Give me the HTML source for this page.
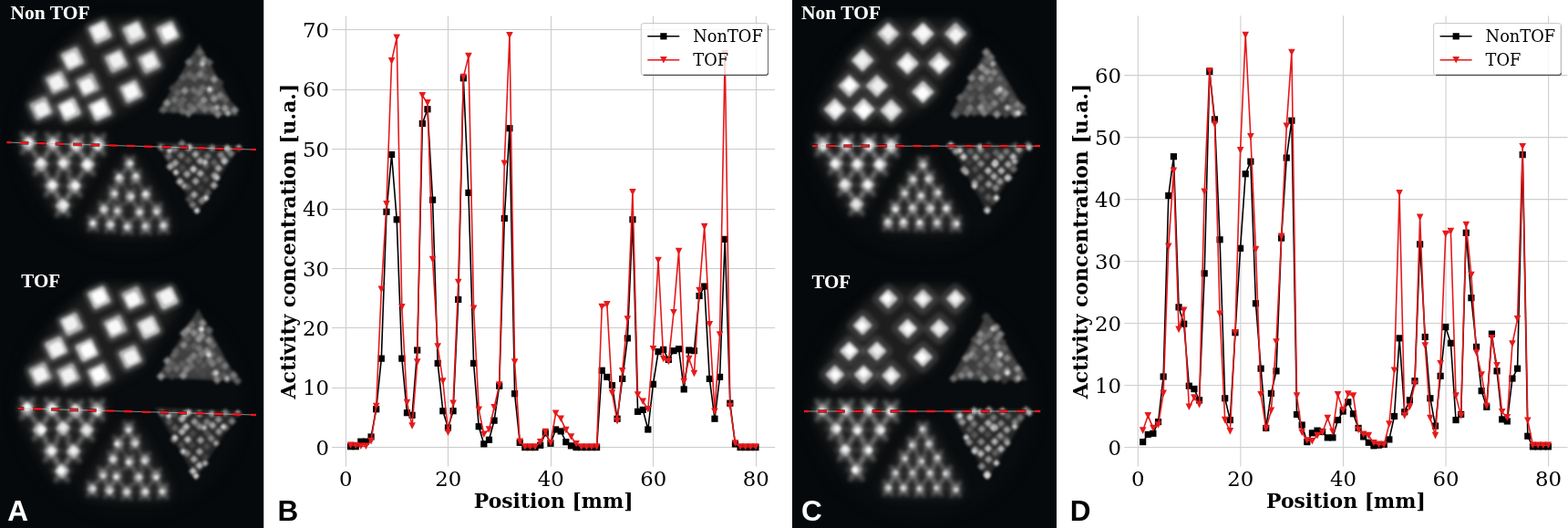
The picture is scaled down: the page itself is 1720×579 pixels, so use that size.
<!DOCTYPE html>
<html><head><meta charset="utf-8"><style>
html,body{margin:0;padding:0;background:#fff;width:1720px;height:579px;overflow:hidden}
svg{display:block}
.tk{font-family:'DejaVu Serif', serif;font-size:22.8px;fill:#000}
.lg{font-family:'DejaVu Serif', serif;font-size:17.8px;fill:#000}
.al{font-family:'DejaVu Serif', serif;font-size:21.9px;font-weight:bold;fill:#000}
.pl{font-family:'Liberation Sans',Arial,sans-serif;font-size:31.5px;font-weight:bold}
.im{font-family:'Liberation Serif','Times New Roman',serif;font-weight:bold;fill:#fff}
</style></head><body>
<svg width="1720" height="579" viewBox="0 0 1720 579">
<rect width="1720" height="579" fill="#fff"/>
<defs><filter id="bl15" x="-20%" y="-20%" width="140%" height="140%" color-interpolation-filters="sRGB"><feGaussianBlur stdDeviation="1.6"/></filter><filter id="bl07" x="-10%" y="-10%" width="120%" height="120%" color-interpolation-filters="sRGB"><feGaussianBlur stdDeviation="1.5"/></filter><filter id="bl1" x="-20%" y="-20%" width="140%" height="140%" color-interpolation-filters="sRGB"><feGaussianBlur stdDeviation="1.5"/></filter><filter id="bl2" x="-20%" y="-20%" width="140%" height="140%" color-interpolation-filters="sRGB"><feGaussianBlur stdDeviation="2.0"/></filter><filter id="bl3" x="-30%" y="-30%" width="160%" height="160%" color-interpolation-filters="sRGB"><feGaussianBlur stdDeviation="3"/></filter><filter id="bl6" x="-30%" y="-30%" width="160%" height="160%" color-interpolation-filters="sRGB"><feGaussianBlur stdDeviation="6"/></filter><clipPath id="cA"><rect x="0" y="0" width="289.5" height="579"/></clipPath><clipPath id="cC"><rect x="869" y="0" width="290" height="579"/></clipPath></defs>
<g clip-path="url(#cA)"><rect x="0" y="0" width="289.5" height="579" fill="#05090b"/>
<circle cx="143.0" cy="150.0" r="126" fill="#090c0e" filter="url(#bl6)"/>
<g filter="url(#bl07)"><polygon points="218.5,47.5 173.5,123.0 261.5,127.0" fill="rgb(60,60,60)"/><path d="M219.3 52.7l4.75 4.75l-4.75 4.75l-4.75 -4.75z" fill="rgb(101,101,101)"/><path d="M212.2 59.7l4.75 4.75l-4.75 4.75l-4.75 -4.75z" fill="rgb(74,74,74)"/><path d="M207.3 63.4l4.75 4.75l-4.75 4.75l-4.75 -4.75z" fill="rgb(114,114,114)"/><path d="M223.4 60.8l4.75 4.75l-4.75 4.75l-4.75 -4.75z" fill="rgb(138,138,138)"/><path d="M218.0 66.2l4.75 4.75l-4.75 4.75l-4.75 -4.75z" fill="rgb(78,78,78)"/><path d="M211.6 72.0l4.75 4.75l-4.75 4.75l-4.75 -4.75z" fill="rgb(63,63,63)"/><path d="M207.8 77.2l4.75 4.75l-4.75 4.75l-4.75 -4.75z" fill="rgb(101,101,101)"/><path d="M200.6 80.3l4.75 4.75l-4.75 4.75l-4.75 -4.75z" fill="rgb(92,92,92)"/><path d="M195.5 87.4l4.75 4.75l-4.75 4.75l-4.75 -4.75z" fill="rgb(74,74,74)"/><path d="M189.5 92.2l4.75 4.75l-4.75 4.75l-4.75 -4.75z" fill="rgb(68,68,68)"/><path d="M229.5 63.8l4.75 4.75l-4.75 4.75l-4.75 -4.75z" fill="rgb(95,95,95)"/><path d="M222.8 71.0l4.75 4.75l-4.75 4.75l-4.75 -4.75z" fill="rgb(90,90,90)"/><path d="M219.6 77.0l4.75 4.75l-4.75 4.75l-4.75 -4.75z" fill="rgb(131,131,131)"/><path d="M213.4 81.0l4.75 4.75l-4.75 4.75l-4.75 -4.75z" fill="rgb(100,100,100)"/><path d="M206.5 87.4l4.75 4.75l-4.75 4.75l-4.75 -4.75z" fill="rgb(62,62,62)"/><path d="M202.8 94.8l4.75 4.75l-4.75 4.75l-4.75 -4.75z" fill="rgb(144,144,144)"/><path d="M194.7 97.1l4.75 4.75l-4.75 4.75l-4.75 -4.75z" fill="rgb(99,99,99)"/><path d="M191.6 104.7l4.75 4.75l-4.75 4.75l-4.75 -4.75z" fill="rgb(116,116,116)"/><path d="M183.1 108.3l4.75 4.75l-4.75 4.75l-4.75 -4.75z" fill="rgb(143,143,143)"/><path d="M179.0 115.4l4.75 4.75l-4.75 4.75l-4.75 -4.75z" fill="rgb(99,99,99)"/><path d="M230.5 77.8l4.75 4.75l-4.75 4.75l-4.75 -4.75z" fill="rgb(72,72,72)"/><path d="M225.1 80.2l4.75 4.75l-4.75 4.75l-4.75 -4.75z" fill="rgb(95,95,95)"/><path d="M217.4 89.0l4.75 4.75l-4.75 4.75l-4.75 -4.75z" fill="rgb(65,65,65)"/><path d="M212.2 94.4l4.75 4.75l-4.75 4.75l-4.75 -4.75z" fill="rgb(112,112,112)"/><path d="M208.4 98.8l4.75 4.75l-4.75 4.75l-4.75 -4.75z" fill="rgb(63,63,63)"/><path d="M200.8 104.8l4.75 4.75l-4.75 4.75l-4.75 -4.75z" fill="rgb(99,99,99)"/><path d="M197.7 110.2l4.75 4.75l-4.75 4.75l-4.75 -4.75z" fill="rgb(96,96,96)"/><path d="M190.7 115.1l4.75 4.75l-4.75 4.75l-4.75 -4.75z" fill="rgb(87,87,87)"/><path d="M235.0 82.2l4.75 4.75l-4.75 4.75l-4.75 -4.75z" fill="rgb(147,147,147)"/><path d="M227.8 87.0l4.75 4.75l-4.75 4.75l-4.75 -4.75z" fill="rgb(62,62,62)"/><path d="M222.3 92.0l4.75 4.75l-4.75 4.75l-4.75 -4.75z" fill="rgb(109,109,109)"/><path d="M218.6 97.6l4.75 4.75l-4.75 4.75l-4.75 -4.75z" fill="rgb(118,118,118)"/><path d="M214.3 104.3l4.75 4.75l-4.75 4.75l-4.75 -4.75z" fill="rgb(88,88,88)"/><path d="M208.4 111.4l4.75 4.75l-4.75 4.75l-4.75 -4.75z" fill="rgb(101,101,101)"/><path d="M200.1 116.9l4.75 4.75l-4.75 4.75l-4.75 -4.75z" fill="rgb(106,106,106)"/><path d="M241.0 86.0l4.75 4.75l-4.75 4.75l-4.75 -4.75z" fill="rgb(66,66,66)"/><path d="M234.7 91.8l4.75 4.75l-4.75 4.75l-4.75 -4.75z" fill="rgb(80,80,80)"/><path d="M230.8 97.3l4.75 4.75l-4.75 4.75l-4.75 -4.75z" fill="rgb(87,87,87)"/><path d="M223.5 105.0l4.75 4.75l-4.75 4.75l-4.75 -4.75z" fill="rgb(144,144,144)"/><path d="M219.2 110.5l4.75 4.75l-4.75 4.75l-4.75 -4.75z" fill="rgb(115,115,115)"/><path d="M212.3 114.7l4.75 4.75l-4.75 4.75l-4.75 -4.75z" fill="rgb(119,119,119)"/><path d="M206.7 119.4l4.75 4.75l-4.75 4.75l-4.75 -4.75z" fill="rgb(119,119,119)"/><path d="M241.5 99.9l4.75 4.75l-4.75 4.75l-4.75 -4.75z" fill="rgb(126,126,126)"/><path d="M234.8 103.4l4.75 4.75l-4.75 4.75l-4.75 -4.75z" fill="rgb(147,147,147)"/><path d="M229.0 111.5l4.75 4.75l-4.75 4.75l-4.75 -4.75z" fill="rgb(88,88,88)"/><path d="M224.7 115.1l4.75 4.75l-4.75 4.75l-4.75 -4.75z" fill="rgb(119,119,119)"/><path d="M247.3 104.6l4.75 4.75l-4.75 4.75l-4.75 -4.75z" fill="rgb(97,97,97)"/><path d="M240.3 109.6l4.75 4.75l-4.75 4.75l-4.75 -4.75z" fill="rgb(60,60,60)"/><path d="M233.5 115.0l4.75 4.75l-4.75 4.75l-4.75 -4.75z" fill="rgb(124,124,124)"/><path d="M253.2 110.7l4.75 4.75l-4.75 4.75l-4.75 -4.75z" fill="rgb(60,60,60)"/><path d="M246.9 114.0l4.75 4.75l-4.75 4.75l-4.75 -4.75z" fill="rgb(149,149,149)"/><path d="M239.0 120.6l4.75 4.75l-4.75 4.75l-4.75 -4.75z" fill="rgb(135,135,135)"/><path d="M257.5 116.1l4.75 4.75l-4.75 4.75l-4.75 -4.75z" fill="rgb(134,134,134)"/><polygon points="171.0,156.0 263.0,160.0 216.0,234.0" fill="rgb(40,40,40)"/><path d="M177.0 157.0l4.5 4.5l-4.5 4.5l-4.5 -4.5z" fill="rgb(137,137,137)"/><path d="M199.6 152.9l4.5 4.5l-4.5 4.5l-4.5 -4.5z" fill="rgb(126,126,126)"/><path d="M191.9 159.0l4.5 4.5l-4.5 4.5l-4.5 -4.5z" fill="rgb(122,122,122)"/><path d="M185.0 167.0l4.5 4.5l-4.5 4.5l-4.5 -4.5z" fill="rgb(112,112,112)"/><path d="M206.9 158.7l4.5 4.5l-4.5 4.5l-4.5 -4.5z" fill="rgb(118,118,118)"/><path d="M198.6 166.1l4.5 4.5l-4.5 4.5l-4.5 -4.5z" fill="rgb(125,125,125)"/><path d="M192.3 174.2l4.5 4.5l-4.5 4.5l-4.5 -4.5z" fill="rgb(158,158,158)"/><path d="M186.7 178.2l4.5 4.5l-4.5 4.5l-4.5 -4.5z" fill="rgb(169,169,169)"/><path d="M219.6 159.3l4.5 4.5l-4.5 4.5l-4.5 -4.5z" fill="rgb(62,62,62)"/><path d="M214.5 164.8l4.5 4.5l-4.5 4.5l-4.5 -4.5z" fill="rgb(169,169,169)"/><path d="M206.4 171.2l4.5 4.5l-4.5 4.5l-4.5 -4.5z" fill="rgb(88,88,88)"/><path d="M200.0 179.4l4.5 4.5l-4.5 4.5l-4.5 -4.5z" fill="rgb(77,77,77)"/><path d="M232.8 157.8l4.5 4.5l-4.5 4.5l-4.5 -4.5z" fill="rgb(136,136,136)"/><path d="M227.6 166.7l4.5 4.5l-4.5 4.5l-4.5 -4.5z" fill="rgb(123,123,123)"/><path d="M219.7 171.9l4.5 4.5l-4.5 4.5l-4.5 -4.5z" fill="rgb(172,172,172)"/><path d="M212.2 180.9l4.5 4.5l-4.5 4.5l-4.5 -4.5z" fill="rgb(199,199,199)"/><path d="M205.2 186.6l4.5 4.5l-4.5 4.5l-4.5 -4.5z" fill="rgb(162,162,162)"/><path d="M197.4 194.8l4.5 4.5l-4.5 4.5l-4.5 -4.5z" fill="rgb(183,183,183)"/><path d="M249.2 158.2l4.5 4.5l-4.5 4.5l-4.5 -4.5z" fill="rgb(193,193,193)"/><path d="M242.4 165.5l4.5 4.5l-4.5 4.5l-4.5 -4.5z" fill="rgb(134,134,134)"/><path d="M234.9 173.7l4.5 4.5l-4.5 4.5l-4.5 -4.5z" fill="rgb(95,95,95)"/><path d="M225.9 177.8l4.5 4.5l-4.5 4.5l-4.5 -4.5z" fill="rgb(87,87,87)"/><path d="M219.8 185.7l4.5 4.5l-4.5 4.5l-4.5 -4.5z" fill="rgb(175,175,175)"/><path d="M214.7 194.3l4.5 4.5l-4.5 4.5l-4.5 -4.5z" fill="rgb(161,161,161)"/><path d="M206.4 200.8l4.5 4.5l-4.5 4.5l-4.5 -4.5z" fill="rgb(87,87,87)"/><path d="M253.2 163.9l4.5 4.5l-4.5 4.5l-4.5 -4.5z" fill="rgb(125,125,125)"/><path d="M246.4 171.2l4.5 4.5l-4.5 4.5l-4.5 -4.5z" fill="rgb(140,140,140)"/><path d="M239.6 180.1l4.5 4.5l-4.5 4.5l-4.5 -4.5z" fill="rgb(169,169,169)"/><path d="M235.4 188.1l4.5 4.5l-4.5 4.5l-4.5 -4.5z" fill="rgb(157,157,157)"/><path d="M225.6 192.1l4.5 4.5l-4.5 4.5l-4.5 -4.5z" fill="rgb(82,82,82)"/><path d="M220.1 202.1l4.5 4.5l-4.5 4.5l-4.5 -4.5z" fill="rgb(60,60,60)"/><path d="M213.0 209.1l4.5 4.5l-4.5 4.5l-4.5 -4.5z" fill="rgb(167,167,167)"/><path d="M207.4 213.9l4.5 4.5l-4.5 4.5l-4.5 -4.5z" fill="rgb(81,81,81)"/><path d="M234.8 198.7l4.5 4.5l-4.5 4.5l-4.5 -4.5z" fill="rgb(167,167,167)"/><path d="M228.1 206.7l4.5 4.5l-4.5 4.5l-4.5 -4.5z" fill="rgb(86,86,86)"/><path d="M221.5 215.6l4.5 4.5l-4.5 4.5l-4.5 -4.5z" fill="rgb(131,131,131)"/><path d="M211.3 220.2l4.5 4.5l-4.5 4.5l-4.5 -4.5z" fill="rgb(120,120,120)"/></g>
<g filter="url(#bl1)"><rect x="205.4" y="158.4" width="5.2" height="5.2" fill="rgb(196,196,196)" transform="rotate(45 208.0 161.0)"/><rect x="259.4" y="159.4" width="5.2" height="5.2" fill="rgb(187,187,187)" transform="rotate(45 262.0 162.0)"/><rect x="222.4" y="175.4" width="5.2" height="5.2" fill="rgb(205,205,205)" transform="rotate(45 225.0 178.0)"/><rect x="243.4" y="174.4" width="5.2" height="5.2" fill="rgb(192,192,192)" transform="rotate(45 246.0 177.0)"/><rect x="190.4" y="186.4" width="5.2" height="5.2" fill="rgb(214,214,214)" transform="rotate(45 193.0 189.0)"/><rect x="199.4" y="201.4" width="5.2" height="5.2" fill="rgb(171,171,171)" transform="rotate(45 202.0 204.0)"/><rect x="223.4" y="214.4" width="5.2" height="5.2" fill="rgb(224,224,224)" transform="rotate(45 226.0 217.0)"/><rect x="213.4" y="228.4" width="5.2" height="5.2" fill="rgb(221,221,221)" transform="rotate(45 216.0 231.0)"/><rect x="183.4" y="162.4" width="5.2" height="5.2" fill="rgb(213,213,213)" transform="rotate(45 186.0 165.0)"/><rect x="235.4" y="192.4" width="5.2" height="5.2" fill="rgb(204,204,204)" transform="rotate(45 238.0 195.0)"/><rect x="247.4" y="121.4" width="5.2" height="5.2" fill="rgb(179,179,179)" transform="rotate(45 250.0 124.0)"/><rect x="235.4" y="115.4" width="5.2" height="5.2" fill="rgb(179,179,179)" transform="rotate(45 238.0 118.0)"/><rect x="219.4" y="67.4" width="5.2" height="5.2" fill="rgb(196,196,196)" transform="rotate(45 222.0 70.0)"/><rect x="227.4" y="95.4" width="5.2" height="5.2" fill="rgb(220,220,220)" transform="rotate(45 230.0 98.0)"/></g>
<g filter="url(#bl6)"><polygon points="45.0,119.0 62.6,90.5 79.5,64.5 109.8,35.2 184.0,35.8 144.0,100.5 109.8,120.0 76.0,120.0" fill="rgb(30,30,30)" stroke="rgb(30,30,30)" stroke-width="30" stroke-linejoin="round"/><polygon points="31.0,157.0 58.0,157.5 107.5,158.5 96.0,180.5 68.7,225.5" fill="rgb(30,30,30)" stroke="rgb(30,30,30)" stroke-width="22" stroke-linejoin="round"/><polygon points="102.0,245.0 131.0,195.6 142.0,179.5 172.0,231.0 179.5,247.6 160.0,248.5 140.0,248.5" fill="rgb(32,32,32)" stroke="rgb(32,32,32)" stroke-width="18" stroke-linejoin="round"/></g>
<g filter="url(#bl2)"><rect x="95.8" y="21.2" width="28" height="28" rx="6" fill="#fff" fill-opacity="0.2" transform="rotate(-25 109.8 35.2)"/><rect x="133.0" y="21.8" width="28" height="28" rx="6" fill="#fff" fill-opacity="0.2" transform="rotate(-25 147.0 35.8)"/><rect x="170.0" y="21.8" width="28" height="28" rx="6" fill="#fff" fill-opacity="0.2" transform="rotate(-25 184.0 35.8)"/><rect x="65.5" y="50.5" width="28" height="28" rx="6" fill="#fff" fill-opacity="0.2" transform="rotate(-25 79.5 64.5)"/><rect x="113.5" y="53.0" width="28" height="28" rx="6" fill="#fff" fill-opacity="0.2" transform="rotate(-25 127.5 67.0)"/><rect x="149.8" y="54.0" width="28" height="28" rx="6" fill="#fff" fill-opacity="0.2" transform="rotate(-25 163.8 68.0)"/><rect x="48.6" y="76.5" width="28" height="28" rx="6" fill="#fff" fill-opacity="0.2" transform="rotate(-25 62.6 90.5)"/><rect x="82.3" y="79.0" width="28" height="28" rx="6" fill="#fff" fill-opacity="0.2" transform="rotate(-25 96.3 93.0)"/><rect x="130.0" y="86.5" width="28" height="28" rx="6" fill="#fff" fill-opacity="0.2" transform="rotate(-25 144.0 100.5)"/><rect x="31.0" y="105.0" width="28" height="28" rx="6" fill="#fff" fill-opacity="0.2" transform="rotate(-25 45.0 119.0)"/><rect x="62.0" y="106.0" width="28" height="28" rx="6" fill="#fff" fill-opacity="0.2" transform="rotate(-25 76.0 120.0)"/><rect x="95.8" y="106.0" width="28" height="28" rx="6" fill="#fff" fill-opacity="0.2" transform="rotate(-25 109.8 120.0)"/><rect x="22.0" y="148.0" width="18" height="18" fill="#fff" fill-opacity="0.14" transform="rotate(45 31.0 157.0)"/><g fill="#fff" fill-opacity="0.3"><rect x="16.5" y="154.8" width="29.0" height="4.5" transform="rotate(58 31.0 157.0)"/><rect x="16.5" y="154.8" width="29.0" height="4.5" transform="rotate(122 31.0 157.0)"/></g><rect x="49.0" y="148.5" width="18" height="18" fill="#fff" fill-opacity="0.14" transform="rotate(45 58.0 157.5)"/><g fill="#fff" fill-opacity="0.3"><rect x="43.5" y="155.2" width="29.0" height="4.5" transform="rotate(58 58.0 157.5)"/><rect x="43.5" y="155.2" width="29.0" height="4.5" transform="rotate(122 58.0 157.5)"/></g><rect x="75.0" y="150.5" width="18" height="18" fill="#fff" fill-opacity="0.14" transform="rotate(45 84.0 159.5)"/><g fill="#fff" fill-opacity="0.3"><rect x="69.5" y="157.2" width="29.0" height="4.5" transform="rotate(58 84.0 159.5)"/><rect x="69.5" y="157.2" width="29.0" height="4.5" transform="rotate(122 84.0 159.5)"/></g><rect x="98.5" y="149.5" width="18" height="18" fill="#fff" fill-opacity="0.14" transform="rotate(45 107.5 158.5)"/><g fill="#fff" fill-opacity="0.3"><rect x="93.0" y="156.2" width="29.0" height="4.5" transform="rotate(58 107.5 158.5)"/><rect x="93.0" y="156.2" width="29.0" height="4.5" transform="rotate(122 107.5 158.5)"/></g><rect x="36.0" y="171.0" width="18" height="18" fill="#fff" fill-opacity="0.14" transform="rotate(45 45.0 180.0)"/><g fill="#fff" fill-opacity="0.3"><rect x="30.5" y="177.8" width="29.0" height="4.5" transform="rotate(58 45.0 180.0)"/><rect x="30.5" y="177.8" width="29.0" height="4.5" transform="rotate(122 45.0 180.0)"/></g><rect x="61.0" y="169.5" width="18" height="18" fill="#fff" fill-opacity="0.14" transform="rotate(45 70.0 178.5)"/><g fill="#fff" fill-opacity="0.3"><rect x="55.5" y="176.2" width="29.0" height="4.5" transform="rotate(58 70.0 178.5)"/><rect x="55.5" y="176.2" width="29.0" height="4.5" transform="rotate(122 70.0 178.5)"/></g><rect x="87.0" y="171.5" width="18" height="18" fill="#fff" fill-opacity="0.14" transform="rotate(45 96.0 180.5)"/><g fill="#fff" fill-opacity="0.3"><rect x="81.5" y="178.2" width="29.0" height="4.5" transform="rotate(58 96.0 180.5)"/><rect x="81.5" y="178.2" width="29.0" height="4.5" transform="rotate(122 96.0 180.5)"/></g><rect x="48.0" y="194.5" width="18" height="18" fill="#fff" fill-opacity="0.14" transform="rotate(45 57.0 203.5)"/><g fill="#fff" fill-opacity="0.3"><rect x="42.5" y="201.2" width="29.0" height="4.5" transform="rotate(58 57.0 203.5)"/><rect x="42.5" y="201.2" width="29.0" height="4.5" transform="rotate(122 57.0 203.5)"/></g><rect x="72.6" y="195.0" width="18" height="18" fill="#fff" fill-opacity="0.14" transform="rotate(45 81.6 204.0)"/><g fill="#fff" fill-opacity="0.3"><rect x="67.1" y="201.8" width="29.0" height="4.5" transform="rotate(58 81.6 204.0)"/><rect x="67.1" y="201.8" width="29.0" height="4.5" transform="rotate(122 81.6 204.0)"/></g><rect x="59.7" y="216.5" width="18" height="18" fill="#fff" fill-opacity="0.14" transform="rotate(45 68.7 225.5)"/><g fill="#fff" fill-opacity="0.3"><rect x="54.2" y="223.2" width="29.0" height="4.5" transform="rotate(58 68.7 225.5)"/><rect x="54.2" y="223.2" width="29.0" height="4.5" transform="rotate(122 68.7 225.5)"/></g><rect x="135.5" y="173.0" width="13" height="13" fill="#fff" fill-opacity="0.14" transform="rotate(45 142.0 179.5)"/><g fill="#fff" fill-opacity="0.3"><rect x="131.5" y="177.8" width="21.0" height="3.5" transform="rotate(58 142.0 179.5)"/><rect x="131.5" y="177.8" width="21.0" height="3.5" transform="rotate(122 142.0 179.5)"/></g><rect x="124.5" y="189.1" width="13" height="13" fill="#fff" fill-opacity="0.14" transform="rotate(45 131.0 195.6)"/><g fill="#fff" fill-opacity="0.3"><rect x="120.5" y="193.8" width="21.0" height="3.5" transform="rotate(58 131.0 195.6)"/><rect x="120.5" y="193.8" width="21.0" height="3.5" transform="rotate(122 131.0 195.6)"/></g><rect x="142.5" y="188.0" width="13" height="13" fill="#fff" fill-opacity="0.14" transform="rotate(45 149.0 194.5)"/><g fill="#fff" fill-opacity="0.3"><rect x="138.5" y="192.8" width="21.0" height="3.5" transform="rotate(58 149.0 194.5)"/><rect x="138.5" y="192.8" width="21.0" height="3.5" transform="rotate(122 149.0 194.5)"/></g><rect x="118.5" y="206.0" width="13" height="13" fill="#fff" fill-opacity="0.14" transform="rotate(45 125.0 212.5)"/><g fill="#fff" fill-opacity="0.3"><rect x="114.5" y="210.8" width="21.0" height="3.5" transform="rotate(58 125.0 212.5)"/><rect x="114.5" y="210.8" width="21.0" height="3.5" transform="rotate(122 125.0 212.5)"/></g><rect x="136.5" y="209.0" width="13" height="13" fill="#fff" fill-opacity="0.14" transform="rotate(45 143.0 215.5)"/><g fill="#fff" fill-opacity="0.3"><rect x="132.5" y="213.8" width="21.0" height="3.5" transform="rotate(58 143.0 215.5)"/><rect x="132.5" y="213.8" width="21.0" height="3.5" transform="rotate(122 143.0 215.5)"/></g><rect x="153.5" y="207.0" width="13" height="13" fill="#fff" fill-opacity="0.14" transform="rotate(45 160.0 213.5)"/><g fill="#fff" fill-opacity="0.3"><rect x="149.5" y="211.8" width="21.0" height="3.5" transform="rotate(58 160.0 213.5)"/><rect x="149.5" y="211.8" width="21.0" height="3.5" transform="rotate(122 160.0 213.5)"/></g><rect x="107.5" y="223.0" width="13" height="13" fill="#fff" fill-opacity="0.14" transform="rotate(45 114.0 229.5)"/><g fill="#fff" fill-opacity="0.3"><rect x="103.5" y="227.8" width="21.0" height="3.5" transform="rotate(58 114.0 229.5)"/><rect x="103.5" y="227.8" width="21.0" height="3.5" transform="rotate(122 114.0 229.5)"/></g><rect x="122.5" y="225.0" width="13" height="13" fill="#fff" fill-opacity="0.14" transform="rotate(45 129.0 231.5)"/><g fill="#fff" fill-opacity="0.3"><rect x="118.5" y="229.8" width="21.0" height="3.5" transform="rotate(58 129.0 231.5)"/><rect x="118.5" y="229.8" width="21.0" height="3.5" transform="rotate(122 129.0 231.5)"/></g><rect x="146.5" y="226.0" width="13" height="13" fill="#fff" fill-opacity="0.14" transform="rotate(45 153.0 232.5)"/><g fill="#fff" fill-opacity="0.3"><rect x="142.5" y="230.8" width="21.0" height="3.5" transform="rotate(58 153.0 232.5)"/><rect x="142.5" y="230.8" width="21.0" height="3.5" transform="rotate(122 153.0 232.5)"/></g><rect x="165.5" y="224.5" width="13" height="13" fill="#fff" fill-opacity="0.14" transform="rotate(45 172.0 231.0)"/><g fill="#fff" fill-opacity="0.3"><rect x="161.5" y="229.2" width="21.0" height="3.5" transform="rotate(58 172.0 231.0)"/><rect x="161.5" y="229.2" width="21.0" height="3.5" transform="rotate(122 172.0 231.0)"/></g><rect x="95.5" y="238.5" width="13" height="13" fill="#fff" fill-opacity="0.14" transform="rotate(45 102.0 245.0)"/><g fill="#fff" fill-opacity="0.3"><rect x="91.5" y="243.2" width="21.0" height="3.5" transform="rotate(58 102.0 245.0)"/><rect x="91.5" y="243.2" width="21.0" height="3.5" transform="rotate(122 102.0 245.0)"/></g><rect x="114.5" y="239.9" width="13" height="13" fill="#fff" fill-opacity="0.14" transform="rotate(45 121.0 246.4)"/><g fill="#fff" fill-opacity="0.3"><rect x="110.5" y="244.7" width="21.0" height="3.5" transform="rotate(58 121.0 246.4)"/><rect x="110.5" y="244.7" width="21.0" height="3.5" transform="rotate(122 121.0 246.4)"/></g><rect x="133.5" y="242.0" width="13" height="13" fill="#fff" fill-opacity="0.14" transform="rotate(45 140.0 248.5)"/><g fill="#fff" fill-opacity="0.3"><rect x="129.5" y="246.8" width="21.0" height="3.5" transform="rotate(58 140.0 248.5)"/><rect x="129.5" y="246.8" width="21.0" height="3.5" transform="rotate(122 140.0 248.5)"/></g><rect x="153.5" y="242.0" width="13" height="13" fill="#fff" fill-opacity="0.14" transform="rotate(45 160.0 248.5)"/><g fill="#fff" fill-opacity="0.3"><rect x="149.5" y="246.8" width="21.0" height="3.5" transform="rotate(58 160.0 248.5)"/><rect x="149.5" y="246.8" width="21.0" height="3.5" transform="rotate(122 160.0 248.5)"/></g><rect x="173.0" y="241.1" width="13" height="13" fill="#fff" fill-opacity="0.14" transform="rotate(45 179.5 247.6)"/><g fill="#fff" fill-opacity="0.3"><rect x="169.0" y="245.8" width="21.0" height="3.5" transform="rotate(58 179.5 247.6)"/><rect x="169.0" y="245.8" width="21.0" height="3.5" transform="rotate(122 179.5 247.6)"/></g></g>
<g filter="url(#bl15)"><rect x="99.5" y="25.0" width="20.5" height="20.5" rx="4" fill="rgb(191,191,191)" transform="rotate(-25 109.8 35.2)"/><rect x="102.5" y="27.3" width="14.0" height="14.0" rx="4" fill="rgb(246,246,246)" transform="rotate(-25 109.8 35.2)"/><rect x="136.8" y="25.5" width="20.5" height="20.5" rx="4" fill="rgb(182,182,182)" transform="rotate(-25 147.0 35.8)"/><rect x="141.0" y="27.8" width="14.0" height="14.0" rx="4" fill="rgb(240,240,240)" transform="rotate(-25 147.0 35.8)"/><rect x="173.8" y="25.5" width="20.5" height="20.5" rx="4" fill="rgb(177,177,177)" transform="rotate(-25 184.0 35.8)"/><rect x="178.1" y="29.1" width="14.0" height="14.0" rx="4" fill="rgb(250,250,250)" transform="rotate(-25 184.0 35.8)"/><rect x="69.2" y="54.2" width="20.5" height="20.5" rx="4" fill="rgb(184,184,184)" transform="rotate(-25 79.5 64.5)"/><rect x="71.6" y="58.1" width="14.0" height="14.0" rx="4" fill="rgb(244,244,244)" transform="rotate(-25 79.5 64.5)"/><rect x="117.2" y="56.8" width="20.5" height="20.5" rx="4" fill="rgb(177,177,177)" transform="rotate(-25 127.5 67.0)"/><rect x="121.2" y="59.3" width="14.0" height="14.0" rx="4" fill="rgb(240,240,240)" transform="rotate(-25 127.5 67.0)"/><rect x="153.6" y="57.8" width="20.5" height="20.5" rx="4" fill="rgb(170,170,170)" transform="rotate(-25 163.8 68.0)"/><rect x="157.3" y="60.6" width="14.0" height="14.0" rx="4" fill="rgb(242,242,242)" transform="rotate(-25 163.8 68.0)"/><rect x="52.4" y="80.2" width="20.5" height="20.5" rx="4" fill="rgb(170,170,170)" transform="rotate(-25 62.6 90.5)"/><rect x="55.1" y="83.5" width="14.0" height="14.0" rx="4" fill="rgb(243,243,243)" transform="rotate(-25 62.6 90.5)"/><rect x="86.0" y="82.8" width="20.5" height="20.5" rx="4" fill="rgb(165,165,165)" transform="rotate(-25 96.3 93.0)"/><rect x="88.3" y="86.7" width="14.0" height="14.0" rx="4" fill="rgb(245,245,245)" transform="rotate(-25 96.3 93.0)"/><rect x="133.8" y="90.2" width="20.5" height="20.5" rx="4" fill="rgb(180,180,180)" transform="rotate(-25 144.0 100.5)"/><rect x="136.9" y="93.2" width="14.0" height="14.0" rx="4" fill="rgb(249,249,249)" transform="rotate(-25 144.0 100.5)"/><rect x="34.8" y="108.8" width="20.5" height="20.5" rx="4" fill="rgb(166,166,166)" transform="rotate(-25 45.0 119.0)"/><rect x="38.4" y="113.2" width="14.0" height="14.0" rx="4" fill="rgb(241,241,241)" transform="rotate(-25 45.0 119.0)"/><rect x="65.8" y="109.8" width="20.5" height="20.5" rx="4" fill="rgb(190,190,190)" transform="rotate(-25 76.0 120.0)"/><rect x="68.1" y="112.5" width="14.0" height="14.0" rx="4" fill="rgb(251,251,251)" transform="rotate(-25 76.0 120.0)"/><rect x="99.5" y="109.8" width="20.5" height="20.5" rx="4" fill="rgb(195,195,195)" transform="rotate(-25 109.8 120.0)"/><rect x="102.6" y="112.6" width="14.0" height="14.0" rx="4" fill="rgb(255,255,255)" transform="rotate(-25 109.8 120.0)"/><rect x="24.8" y="150.8" width="12.5" height="12.5" rx="2.5" fill="rgb(165,165,165)" transform="rotate(40 31.0 157.0)"/><rect x="26.8" y="151.8" width="8.0" height="8.0" rx="2.5" fill="rgb(238,238,238)" transform="rotate(40 31.0 157.0)"/><rect x="51.8" y="151.2" width="12.5" height="12.5" rx="2.5" fill="rgb(140,140,140)" transform="rotate(40 58.0 157.5)"/><rect x="53.9" y="153.0" width="8.0" height="8.0" rx="2.5" fill="rgb(232,232,232)" transform="rotate(40 58.0 157.5)"/><rect x="77.8" y="153.2" width="12.5" height="12.5" rx="2.5" fill="rgb(161,161,161)" transform="rotate(40 84.0 159.5)"/><rect x="79.3" y="156.4" width="8.0" height="8.0" rx="2.5" fill="rgb(239,239,239)" transform="rotate(40 84.0 159.5)"/><rect x="101.2" y="152.2" width="12.5" height="12.5" rx="2.5" fill="rgb(163,163,163)" transform="rotate(40 107.5 158.5)"/><rect x="103.6" y="155.5" width="8.0" height="8.0" rx="2.5" fill="rgb(249,249,249)" transform="rotate(40 107.5 158.5)"/><rect x="38.8" y="173.8" width="12.5" height="12.5" rx="2.5" fill="rgb(161,161,161)" transform="rotate(40 45.0 180.0)"/><rect x="40.0" y="175.0" width="8.0" height="8.0" rx="2.5" fill="rgb(234,234,234)" transform="rotate(40 45.0 180.0)"/><rect x="63.8" y="172.2" width="12.5" height="12.5" rx="2.5" fill="rgb(143,143,143)" transform="rotate(40 70.0 178.5)"/><rect x="65.8" y="175.2" width="8.0" height="8.0" rx="2.5" fill="rgb(235,235,235)" transform="rotate(40 70.0 178.5)"/><rect x="89.8" y="174.2" width="12.5" height="12.5" rx="2.5" fill="rgb(171,171,171)" transform="rotate(40 96.0 180.5)"/><rect x="91.7" y="176.7" width="8.0" height="8.0" rx="2.5" fill="rgb(247,247,247)" transform="rotate(40 96.0 180.5)"/><rect x="50.8" y="197.2" width="12.5" height="12.5" rx="2.5" fill="rgb(146,146,146)" transform="rotate(40 57.0 203.5)"/><rect x="53.1" y="198.8" width="8.0" height="8.0" rx="2.5" fill="rgb(242,242,242)" transform="rotate(40 57.0 203.5)"/><rect x="75.3" y="197.8" width="12.5" height="12.5" rx="2.5" fill="rgb(144,144,144)" transform="rotate(40 81.6 204.0)"/><rect x="78.1" y="198.9" width="8.0" height="8.0" rx="2.5" fill="rgb(242,242,242)" transform="rotate(40 81.6 204.0)"/><rect x="62.5" y="219.2" width="12.5" height="12.5" rx="2.5" fill="rgb(172,172,172)" transform="rotate(40 68.7 225.5)"/><rect x="65.0" y="220.5" width="8.0" height="8.0" rx="2.5" fill="rgb(236,236,236)" transform="rotate(40 68.7 225.5)"/><rect x="137.8" y="175.2" width="8.5" height="8.5" rx="1.5" fill="rgb(140,140,140)" transform="rotate(40 142.0 179.5)"/><rect x="139.9" y="176.3" width="5.0" height="5.0" rx="1.5" fill="rgb(232,232,232)" transform="rotate(40 142.0 179.5)"/><rect x="126.8" y="191.3" width="8.5" height="8.5" rx="1.5" fill="rgb(158,158,158)" transform="rotate(40 131.0 195.6)"/><rect x="127.3" y="192.5" width="5.0" height="5.0" rx="1.5" fill="rgb(233,233,233)" transform="rotate(40 131.0 195.6)"/><rect x="144.8" y="190.2" width="8.5" height="8.5" rx="1.5" fill="rgb(136,136,136)" transform="rotate(40 149.0 194.5)"/><rect x="145.5" y="190.9" width="5.0" height="5.0" rx="1.5" fill="rgb(234,234,234)" transform="rotate(40 149.0 194.5)"/><rect x="120.8" y="208.2" width="8.5" height="8.5" rx="1.5" fill="rgb(130,130,130)" transform="rotate(40 125.0 212.5)"/><rect x="122.9" y="209.4" width="5.0" height="5.0" rx="1.5" fill="rgb(228,228,228)" transform="rotate(40 125.0 212.5)"/><rect x="138.8" y="211.2" width="8.5" height="8.5" rx="1.5" fill="rgb(152,152,152)" transform="rotate(40 143.0 215.5)"/><rect x="141.4" y="212.5" width="5.0" height="5.0" rx="1.5" fill="rgb(222,222,222)" transform="rotate(40 143.0 215.5)"/><rect x="155.8" y="209.2" width="8.5" height="8.5" rx="1.5" fill="rgb(151,151,151)" transform="rotate(40 160.0 213.5)"/><rect x="156.7" y="210.7" width="5.0" height="5.0" rx="1.5" fill="rgb(243,243,243)" transform="rotate(40 160.0 213.5)"/><rect x="109.8" y="225.2" width="8.5" height="8.5" rx="1.5" fill="rgb(159,159,159)" transform="rotate(40 114.0 229.5)"/><rect x="111.5" y="227.3" width="5.0" height="5.0" rx="1.5" fill="rgb(221,221,221)" transform="rotate(40 114.0 229.5)"/><rect x="124.8" y="227.2" width="8.5" height="8.5" rx="1.5" fill="rgb(124,124,124)" transform="rotate(40 129.0 231.5)"/><rect x="126.1" y="229.1" width="5.0" height="5.0" rx="1.5" fill="rgb(221,221,221)" transform="rotate(40 129.0 231.5)"/><rect x="148.8" y="228.2" width="8.5" height="8.5" rx="1.5" fill="rgb(137,137,137)" transform="rotate(40 153.0 232.5)"/><rect x="150.8" y="230.2" width="5.0" height="5.0" rx="1.5" fill="rgb(228,228,228)" transform="rotate(40 153.0 232.5)"/><rect x="167.8" y="226.8" width="8.5" height="8.5" rx="1.5" fill="rgb(135,135,135)" transform="rotate(40 172.0 231.0)"/><rect x="170.1" y="229.7" width="5.0" height="5.0" rx="1.5" fill="rgb(224,224,224)" transform="rotate(40 172.0 231.0)"/><rect x="97.8" y="240.8" width="8.5" height="8.5" rx="1.5" fill="rgb(125,125,125)" transform="rotate(40 102.0 245.0)"/><rect x="99.3" y="242.5" width="5.0" height="5.0" rx="1.5" fill="rgb(245,245,245)" transform="rotate(40 102.0 245.0)"/><rect x="116.8" y="242.2" width="8.5" height="8.5" rx="1.5" fill="rgb(158,158,158)" transform="rotate(40 121.0 246.4)"/><rect x="118.7" y="243.4" width="5.0" height="5.0" rx="1.5" fill="rgb(219,219,219)" transform="rotate(40 121.0 246.4)"/><rect x="135.8" y="244.2" width="8.5" height="8.5" rx="1.5" fill="rgb(134,134,134)" transform="rotate(40 140.0 248.5)"/><rect x="137.1" y="246.7" width="5.0" height="5.0" rx="1.5" fill="rgb(227,227,227)" transform="rotate(40 140.0 248.5)"/><rect x="155.8" y="244.2" width="8.5" height="8.5" rx="1.5" fill="rgb(130,130,130)" transform="rotate(40 160.0 248.5)"/><rect x="156.5" y="246.1" width="5.0" height="5.0" rx="1.5" fill="rgb(218,218,218)" transform="rotate(40 160.0 248.5)"/><rect x="175.2" y="243.3" width="8.5" height="8.5" rx="1.5" fill="rgb(137,137,137)" transform="rotate(40 179.5 247.6)"/><rect x="176.4" y="245.0" width="5.0" height="5.0" rx="1.5" fill="rgb(225,225,225)" transform="rotate(40 179.5 247.6)"/></g>
<line x1="7.5" y1="156.1" x2="281" y2="164.1" stroke="#bbb" stroke-width="0.9" stroke-opacity="0.8"/>
<line x1="7.5" y1="156.1" x2="281" y2="164.1" stroke="#000" stroke-opacity="0.55" stroke-width="4.2" stroke-dasharray="9.7 9.8" stroke-dashoffset="5.3"/>
<line x1="7.5" y1="156.1" x2="281" y2="164.1" stroke="#f0141c" stroke-width="2.3" stroke-dasharray="9.7 9.8" stroke-dashoffset="5.3"/>
<text x="11.6" y="20.6" class="im" font-size="21.5px">Non TOF</text>
<circle cx="142.0" cy="441.0" r="126" fill="#090c0e" filter="url(#bl6)"/>
<g filter="url(#bl07)"><polygon points="217.5,338.5 172.5,414.0 260.5,418.0" fill="rgb(60,60,60)"/><path d="M215.7 346.6l4.75 4.75l-4.75 4.75l-4.75 -4.75z" fill="rgb(66,66,66)"/><path d="M210.5 351.4l4.75 4.75l-4.75 4.75l-4.75 -4.75z" fill="rgb(107,107,107)"/><path d="M205.9 357.1l4.75 4.75l-4.75 4.75l-4.75 -4.75z" fill="rgb(146,146,146)"/><path d="M201.6 360.7l4.75 4.75l-4.75 4.75l-4.75 -4.75z" fill="rgb(134,134,134)"/><path d="M222.2 349.6l4.75 4.75l-4.75 4.75l-4.75 -4.75z" fill="rgb(139,139,139)"/><path d="M218.5 356.7l4.75 4.75l-4.75 4.75l-4.75 -4.75z" fill="rgb(81,81,81)"/><path d="M212.9 360.6l4.75 4.75l-4.75 4.75l-4.75 -4.75z" fill="rgb(138,138,138)"/><path d="M205.6 366.5l4.75 4.75l-4.75 4.75l-4.75 -4.75z" fill="rgb(94,94,94)"/><path d="M201.7 373.7l4.75 4.75l-4.75 4.75l-4.75 -4.75z" fill="rgb(138,138,138)"/><path d="M193.2 380.3l4.75 4.75l-4.75 4.75l-4.75 -4.75z" fill="rgb(92,92,92)"/><path d="M191.0 385.0l4.75 4.75l-4.75 4.75l-4.75 -4.75z" fill="rgb(102,102,102)"/><path d="M183.6 391.1l4.75 4.75l-4.75 4.75l-4.75 -4.75z" fill="rgb(138,138,138)"/><path d="M229.3 357.4l4.75 4.75l-4.75 4.75l-4.75 -4.75z" fill="rgb(98,98,98)"/><path d="M221.2 363.2l4.75 4.75l-4.75 4.75l-4.75 -4.75z" fill="rgb(142,142,142)"/><path d="M218.2 367.0l4.75 4.75l-4.75 4.75l-4.75 -4.75z" fill="rgb(149,149,149)"/><path d="M213.1 374.5l4.75 4.75l-4.75 4.75l-4.75 -4.75z" fill="rgb(93,93,93)"/><path d="M206.5 377.4l4.75 4.75l-4.75 4.75l-4.75 -4.75z" fill="rgb(75,75,75)"/><path d="M200.3 383.5l4.75 4.75l-4.75 4.75l-4.75 -4.75z" fill="rgb(66,66,66)"/><path d="M193.1 391.1l4.75 4.75l-4.75 4.75l-4.75 -4.75z" fill="rgb(63,63,63)"/><path d="M188.7 393.9l4.75 4.75l-4.75 4.75l-4.75 -4.75z" fill="rgb(92,92,92)"/><path d="M184.5 400.1l4.75 4.75l-4.75 4.75l-4.75 -4.75z" fill="rgb(102,102,102)"/><path d="M176.5 408.0l4.75 4.75l-4.75 4.75l-4.75 -4.75z" fill="rgb(147,147,147)"/><path d="M229.0 368.5l4.75 4.75l-4.75 4.75l-4.75 -4.75z" fill="rgb(141,141,141)"/><path d="M221.2 373.8l4.75 4.75l-4.75 4.75l-4.75 -4.75z" fill="rgb(66,66,66)"/><path d="M218.4 377.6l4.75 4.75l-4.75 4.75l-4.75 -4.75z" fill="rgb(116,116,116)"/><path d="M212.6 385.4l4.75 4.75l-4.75 4.75l-4.75 -4.75z" fill="rgb(127,127,127)"/><path d="M207.5 390.4l4.75 4.75l-4.75 4.75l-4.75 -4.75z" fill="rgb(122,122,122)"/><path d="M199.9 394.4l4.75 4.75l-4.75 4.75l-4.75 -4.75z" fill="rgb(94,94,94)"/><path d="M193.8 399.5l4.75 4.75l-4.75 4.75l-4.75 -4.75z" fill="rgb(108,108,108)"/><path d="M188.3 407.6l4.75 4.75l-4.75 4.75l-4.75 -4.75z" fill="rgb(67,67,67)"/><path d="M233.2 374.0l4.75 4.75l-4.75 4.75l-4.75 -4.75z" fill="rgb(105,105,105)"/><path d="M227.2 380.1l4.75 4.75l-4.75 4.75l-4.75 -4.75z" fill="rgb(138,138,138)"/><path d="M221.4 383.7l4.75 4.75l-4.75 4.75l-4.75 -4.75z" fill="rgb(117,117,117)"/><path d="M218.4 391.2l4.75 4.75l-4.75 4.75l-4.75 -4.75z" fill="rgb(93,93,93)"/><path d="M210.2 396.5l4.75 4.75l-4.75 4.75l-4.75 -4.75z" fill="rgb(108,108,108)"/><path d="M204.5 400.6l4.75 4.75l-4.75 4.75l-4.75 -4.75z" fill="rgb(129,129,129)"/><path d="M201.0 407.1l4.75 4.75l-4.75 4.75l-4.75 -4.75z" fill="rgb(146,146,146)"/><path d="M233.2 384.1l4.75 4.75l-4.75 4.75l-4.75 -4.75z" fill="rgb(96,96,96)"/><path d="M230.2 390.5l4.75 4.75l-4.75 4.75l-4.75 -4.75z" fill="rgb(117,117,117)"/><path d="M224.3 396.9l4.75 4.75l-4.75 4.75l-4.75 -4.75z" fill="rgb(95,95,95)"/><path d="M216.8 400.7l4.75 4.75l-4.75 4.75l-4.75 -4.75z" fill="rgb(78,78,78)"/><path d="M212.4 404.9l4.75 4.75l-4.75 4.75l-4.75 -4.75z" fill="rgb(65,65,65)"/><path d="M240.5 390.0l4.75 4.75l-4.75 4.75l-4.75 -4.75z" fill="rgb(112,112,112)"/><path d="M233.0 394.0l4.75 4.75l-4.75 4.75l-4.75 -4.75z" fill="rgb(125,125,125)"/><path d="M227.0 400.0l4.75 4.75l-4.75 4.75l-4.75 -4.75z" fill="rgb(68,68,68)"/><path d="M222.5 405.4l4.75 4.75l-4.75 4.75l-4.75 -4.75z" fill="rgb(72,72,72)"/><path d="M246.9 396.4l4.75 4.75l-4.75 4.75l-4.75 -4.75z" fill="rgb(121,121,121)"/><path d="M239.6 399.6l4.75 4.75l-4.75 4.75l-4.75 -4.75z" fill="rgb(72,72,72)"/><path d="M235.1 405.0l4.75 4.75l-4.75 4.75l-4.75 -4.75z" fill="rgb(108,108,108)"/><path d="M251.5 402.7l4.75 4.75l-4.75 4.75l-4.75 -4.75z" fill="rgb(62,62,62)"/><path d="M245.0 407.1l4.75 4.75l-4.75 4.75l-4.75 -4.75z" fill="rgb(89,89,89)"/><path d="M238.2 411.7l4.75 4.75l-4.75 4.75l-4.75 -4.75z" fill="rgb(133,133,133)"/><path d="M256.3 406.8l4.75 4.75l-4.75 4.75l-4.75 -4.75z" fill="rgb(121,121,121)"/><path d="M249.4 411.1l4.75 4.75l-4.75 4.75l-4.75 -4.75z" fill="rgb(55,55,55)"/><path d="M260.3 413.1l4.75 4.75l-4.75 4.75l-4.75 -4.75z" fill="rgb(96,96,96)"/><polygon points="170.0,447.0 262.0,451.0 215.0,525.0" fill="rgb(40,40,40)"/><path d="M177.6 448.5l4.5 4.5l-4.5 4.5l-4.5 -4.5z" fill="rgb(127,127,127)"/><path d="M191.2 450.1l4.5 4.5l-4.5 4.5l-4.5 -4.5z" fill="rgb(82,82,82)"/><path d="M185.6 458.1l4.5 4.5l-4.5 4.5l-4.5 -4.5z" fill="rgb(86,86,86)"/><path d="M203.2 449.4l4.5 4.5l-4.5 4.5l-4.5 -4.5z" fill="rgb(201,201,201)"/><path d="M199.6 455.0l4.5 4.5l-4.5 4.5l-4.5 -4.5z" fill="rgb(179,179,179)"/><path d="M192.0 464.8l4.5 4.5l-4.5 4.5l-4.5 -4.5z" fill="rgb(95,95,95)"/><path d="M218.7 449.2l4.5 4.5l-4.5 4.5l-4.5 -4.5z" fill="rgb(155,155,155)"/><path d="M213.4 458.1l4.5 4.5l-4.5 4.5l-4.5 -4.5z" fill="rgb(153,153,153)"/><path d="M204.3 463.5l4.5 4.5l-4.5 4.5l-4.5 -4.5z" fill="rgb(190,190,190)"/><path d="M199.6 469.0l4.5 4.5l-4.5 4.5l-4.5 -4.5z" fill="rgb(178,178,178)"/><path d="M190.8 477.8l4.5 4.5l-4.5 4.5l-4.5 -4.5z" fill="rgb(102,102,102)"/><path d="M232.4 449.3l4.5 4.5l-4.5 4.5l-4.5 -4.5z" fill="rgb(148,148,148)"/><path d="M227.0 458.2l4.5 4.5l-4.5 4.5l-4.5 -4.5z" fill="rgb(125,125,125)"/><path d="M218.8 463.0l4.5 4.5l-4.5 4.5l-4.5 -4.5z" fill="rgb(135,135,135)"/><path d="M211.4 470.8l4.5 4.5l-4.5 4.5l-4.5 -4.5z" fill="rgb(74,74,74)"/><path d="M205.9 477.5l4.5 4.5l-4.5 4.5l-4.5 -4.5z" fill="rgb(185,185,185)"/><path d="M198.9 483.5l4.5 4.5l-4.5 4.5l-4.5 -4.5z" fill="rgb(78,78,78)"/><path d="M247.1 447.9l4.5 4.5l-4.5 4.5l-4.5 -4.5z" fill="rgb(122,122,122)"/><path d="M239.6 455.5l4.5 4.5l-4.5 4.5l-4.5 -4.5z" fill="rgb(144,144,144)"/><path d="M233.2 462.1l4.5 4.5l-4.5 4.5l-4.5 -4.5z" fill="rgb(168,168,168)"/><path d="M227.5 470.5l4.5 4.5l-4.5 4.5l-4.5 -4.5z" fill="rgb(82,82,82)"/><path d="M220.0 478.3l4.5 4.5l-4.5 4.5l-4.5 -4.5z" fill="rgb(156,156,156)"/><path d="M210.7 483.8l4.5 4.5l-4.5 4.5l-4.5 -4.5z" fill="rgb(68,68,68)"/><path d="M205.5 492.8l4.5 4.5l-4.5 4.5l-4.5 -4.5z" fill="rgb(125,125,125)"/><path d="M254.5 457.5l4.5 4.5l-4.5 4.5l-4.5 -4.5z" fill="rgb(125,125,125)"/><path d="M248.0 464.6l4.5 4.5l-4.5 4.5l-4.5 -4.5z" fill="rgb(90,90,90)"/><path d="M240.0 468.7l4.5 4.5l-4.5 4.5l-4.5 -4.5z" fill="rgb(145,145,145)"/><path d="M231.7 476.2l4.5 4.5l-4.5 4.5l-4.5 -4.5z" fill="rgb(134,134,134)"/><path d="M226.7 485.1l4.5 4.5l-4.5 4.5l-4.5 -4.5z" fill="rgb(76,76,76)"/><path d="M218.9 490.7l4.5 4.5l-4.5 4.5l-4.5 -4.5z" fill="rgb(159,159,159)"/><path d="M212.8 498.9l4.5 4.5l-4.5 4.5l-4.5 -4.5z" fill="rgb(165,165,165)"/><path d="M225.4 496.8l4.5 4.5l-4.5 4.5l-4.5 -4.5z" fill="rgb(64,64,64)"/><path d="M218.8 506.1l4.5 4.5l-4.5 4.5l-4.5 -4.5z" fill="rgb(186,186,186)"/><path d="M211.7 512.2l4.5 4.5l-4.5 4.5l-4.5 -4.5z" fill="rgb(194,194,194)"/></g>
<g filter="url(#bl1)"><rect x="204.4" y="449.4" width="5.2" height="5.2" fill="rgb(214,214,214)" transform="rotate(45 207.0 452.0)"/><rect x="258.4" y="450.4" width="5.2" height="5.2" fill="rgb(179,179,179)" transform="rotate(45 261.0 453.0)"/><rect x="221.4" y="466.4" width="5.2" height="5.2" fill="rgb(196,196,196)" transform="rotate(45 224.0 469.0)"/><rect x="242.4" y="465.4" width="5.2" height="5.2" fill="rgb(223,223,223)" transform="rotate(45 245.0 468.0)"/><rect x="189.4" y="477.4" width="5.2" height="5.2" fill="rgb(219,219,219)" transform="rotate(45 192.0 480.0)"/><rect x="198.4" y="492.4" width="5.2" height="5.2" fill="rgb(210,210,210)" transform="rotate(45 201.0 495.0)"/><rect x="222.4" y="505.4" width="5.2" height="5.2" fill="rgb(180,180,180)" transform="rotate(45 225.0 508.0)"/><rect x="212.4" y="519.4" width="5.2" height="5.2" fill="rgb(221,221,221)" transform="rotate(45 215.0 522.0)"/><rect x="182.4" y="453.4" width="5.2" height="5.2" fill="rgb(218,218,218)" transform="rotate(45 185.0 456.0)"/><rect x="234.4" y="483.4" width="5.2" height="5.2" fill="rgb(173,173,173)" transform="rotate(45 237.0 486.0)"/><rect x="246.4" y="412.4" width="5.2" height="5.2" fill="rgb(184,184,184)" transform="rotate(45 249.0 415.0)"/><rect x="234.4" y="406.4" width="5.2" height="5.2" fill="rgb(209,209,209)" transform="rotate(45 237.0 409.0)"/><rect x="218.4" y="358.4" width="5.2" height="5.2" fill="rgb(233,233,233)" transform="rotate(45 221.0 361.0)"/><rect x="226.4" y="386.4" width="5.2" height="5.2" fill="rgb(228,228,228)" transform="rotate(45 229.0 389.0)"/></g>
<g filter="url(#bl6)"><polygon points="44.0,410.0 61.6,381.5 78.5,355.5 108.8,326.2 183.0,326.8 143.0,391.5 108.8,411.0 75.0,411.0" fill="rgb(30,30,30)" stroke="rgb(30,30,30)" stroke-width="30" stroke-linejoin="round"/><polygon points="30.0,448.0 57.0,448.5 106.5,449.5 95.0,471.5 67.7,516.5" fill="rgb(30,30,30)" stroke="rgb(30,30,30)" stroke-width="22" stroke-linejoin="round"/><polygon points="101.0,536.0 130.0,486.6 141.0,470.5 171.0,522.0 178.5,538.6 159.0,539.5 139.0,539.5" fill="rgb(32,32,32)" stroke="rgb(32,32,32)" stroke-width="18" stroke-linejoin="round"/></g>
<g filter="url(#bl2)"><rect x="94.8" y="312.2" width="28" height="28" rx="6" fill="#fff" fill-opacity="0.2" transform="rotate(-25 108.8 326.2)"/><rect x="132.0" y="312.8" width="28" height="28" rx="6" fill="#fff" fill-opacity="0.2" transform="rotate(-25 146.0 326.8)"/><rect x="169.0" y="312.8" width="28" height="28" rx="6" fill="#fff" fill-opacity="0.2" transform="rotate(-25 183.0 326.8)"/><rect x="64.5" y="341.5" width="28" height="28" rx="6" fill="#fff" fill-opacity="0.2" transform="rotate(-25 78.5 355.5)"/><rect x="112.5" y="344.0" width="28" height="28" rx="6" fill="#fff" fill-opacity="0.2" transform="rotate(-25 126.5 358.0)"/><rect x="148.8" y="345.0" width="28" height="28" rx="6" fill="#fff" fill-opacity="0.2" transform="rotate(-25 162.8 359.0)"/><rect x="47.6" y="367.5" width="28" height="28" rx="6" fill="#fff" fill-opacity="0.2" transform="rotate(-25 61.6 381.5)"/><rect x="81.3" y="370.0" width="28" height="28" rx="6" fill="#fff" fill-opacity="0.2" transform="rotate(-25 95.3 384.0)"/><rect x="129.0" y="377.5" width="28" height="28" rx="6" fill="#fff" fill-opacity="0.2" transform="rotate(-25 143.0 391.5)"/><rect x="30.0" y="396.0" width="28" height="28" rx="6" fill="#fff" fill-opacity="0.2" transform="rotate(-25 44.0 410.0)"/><rect x="61.0" y="397.0" width="28" height="28" rx="6" fill="#fff" fill-opacity="0.2" transform="rotate(-25 75.0 411.0)"/><rect x="94.8" y="397.0" width="28" height="28" rx="6" fill="#fff" fill-opacity="0.2" transform="rotate(-25 108.8 411.0)"/><rect x="21.0" y="439.0" width="18" height="18" fill="#fff" fill-opacity="0.14" transform="rotate(45 30.0 448.0)"/><g fill="#fff" fill-opacity="0.3"><rect x="15.5" y="445.8" width="29.0" height="4.5" transform="rotate(58 30.0 448.0)"/><rect x="15.5" y="445.8" width="29.0" height="4.5" transform="rotate(122 30.0 448.0)"/></g><rect x="48.0" y="439.5" width="18" height="18" fill="#fff" fill-opacity="0.14" transform="rotate(45 57.0 448.5)"/><g fill="#fff" fill-opacity="0.3"><rect x="42.5" y="446.2" width="29.0" height="4.5" transform="rotate(58 57.0 448.5)"/><rect x="42.5" y="446.2" width="29.0" height="4.5" transform="rotate(122 57.0 448.5)"/></g><rect x="74.0" y="441.5" width="18" height="18" fill="#fff" fill-opacity="0.14" transform="rotate(45 83.0 450.5)"/><g fill="#fff" fill-opacity="0.3"><rect x="68.5" y="448.2" width="29.0" height="4.5" transform="rotate(58 83.0 450.5)"/><rect x="68.5" y="448.2" width="29.0" height="4.5" transform="rotate(122 83.0 450.5)"/></g><rect x="97.5" y="440.5" width="18" height="18" fill="#fff" fill-opacity="0.14" transform="rotate(45 106.5 449.5)"/><g fill="#fff" fill-opacity="0.3"><rect x="92.0" y="447.2" width="29.0" height="4.5" transform="rotate(58 106.5 449.5)"/><rect x="92.0" y="447.2" width="29.0" height="4.5" transform="rotate(122 106.5 449.5)"/></g><rect x="35.0" y="462.0" width="18" height="18" fill="#fff" fill-opacity="0.14" transform="rotate(45 44.0 471.0)"/><g fill="#fff" fill-opacity="0.3"><rect x="29.5" y="468.8" width="29.0" height="4.5" transform="rotate(58 44.0 471.0)"/><rect x="29.5" y="468.8" width="29.0" height="4.5" transform="rotate(122 44.0 471.0)"/></g><rect x="60.0" y="460.5" width="18" height="18" fill="#fff" fill-opacity="0.14" transform="rotate(45 69.0 469.5)"/><g fill="#fff" fill-opacity="0.3"><rect x="54.5" y="467.2" width="29.0" height="4.5" transform="rotate(58 69.0 469.5)"/><rect x="54.5" y="467.2" width="29.0" height="4.5" transform="rotate(122 69.0 469.5)"/></g><rect x="86.0" y="462.5" width="18" height="18" fill="#fff" fill-opacity="0.14" transform="rotate(45 95.0 471.5)"/><g fill="#fff" fill-opacity="0.3"><rect x="80.5" y="469.2" width="29.0" height="4.5" transform="rotate(58 95.0 471.5)"/><rect x="80.5" y="469.2" width="29.0" height="4.5" transform="rotate(122 95.0 471.5)"/></g><rect x="47.0" y="485.5" width="18" height="18" fill="#fff" fill-opacity="0.14" transform="rotate(45 56.0 494.5)"/><g fill="#fff" fill-opacity="0.3"><rect x="41.5" y="492.2" width="29.0" height="4.5" transform="rotate(58 56.0 494.5)"/><rect x="41.5" y="492.2" width="29.0" height="4.5" transform="rotate(122 56.0 494.5)"/></g><rect x="71.6" y="486.0" width="18" height="18" fill="#fff" fill-opacity="0.14" transform="rotate(45 80.6 495.0)"/><g fill="#fff" fill-opacity="0.3"><rect x="66.1" y="492.8" width="29.0" height="4.5" transform="rotate(58 80.6 495.0)"/><rect x="66.1" y="492.8" width="29.0" height="4.5" transform="rotate(122 80.6 495.0)"/></g><rect x="58.7" y="507.5" width="18" height="18" fill="#fff" fill-opacity="0.14" transform="rotate(45 67.7 516.5)"/><g fill="#fff" fill-opacity="0.3"><rect x="53.2" y="514.2" width="29.0" height="4.5" transform="rotate(58 67.7 516.5)"/><rect x="53.2" y="514.2" width="29.0" height="4.5" transform="rotate(122 67.7 516.5)"/></g><rect x="134.5" y="464.0" width="13" height="13" fill="#fff" fill-opacity="0.14" transform="rotate(45 141.0 470.5)"/><g fill="#fff" fill-opacity="0.3"><rect x="130.5" y="468.8" width="21.0" height="3.5" transform="rotate(58 141.0 470.5)"/><rect x="130.5" y="468.8" width="21.0" height="3.5" transform="rotate(122 141.0 470.5)"/></g><rect x="123.5" y="480.1" width="13" height="13" fill="#fff" fill-opacity="0.14" transform="rotate(45 130.0 486.6)"/><g fill="#fff" fill-opacity="0.3"><rect x="119.5" y="484.9" width="21.0" height="3.5" transform="rotate(58 130.0 486.6)"/><rect x="119.5" y="484.9" width="21.0" height="3.5" transform="rotate(122 130.0 486.6)"/></g><rect x="141.5" y="479.0" width="13" height="13" fill="#fff" fill-opacity="0.14" transform="rotate(45 148.0 485.5)"/><g fill="#fff" fill-opacity="0.3"><rect x="137.5" y="483.8" width="21.0" height="3.5" transform="rotate(58 148.0 485.5)"/><rect x="137.5" y="483.8" width="21.0" height="3.5" transform="rotate(122 148.0 485.5)"/></g><rect x="117.5" y="497.0" width="13" height="13" fill="#fff" fill-opacity="0.14" transform="rotate(45 124.0 503.5)"/><g fill="#fff" fill-opacity="0.3"><rect x="113.5" y="501.8" width="21.0" height="3.5" transform="rotate(58 124.0 503.5)"/><rect x="113.5" y="501.8" width="21.0" height="3.5" transform="rotate(122 124.0 503.5)"/></g><rect x="135.5" y="500.0" width="13" height="13" fill="#fff" fill-opacity="0.14" transform="rotate(45 142.0 506.5)"/><g fill="#fff" fill-opacity="0.3"><rect x="131.5" y="504.8" width="21.0" height="3.5" transform="rotate(58 142.0 506.5)"/><rect x="131.5" y="504.8" width="21.0" height="3.5" transform="rotate(122 142.0 506.5)"/></g><rect x="152.5" y="498.0" width="13" height="13" fill="#fff" fill-opacity="0.14" transform="rotate(45 159.0 504.5)"/><g fill="#fff" fill-opacity="0.3"><rect x="148.5" y="502.8" width="21.0" height="3.5" transform="rotate(58 159.0 504.5)"/><rect x="148.5" y="502.8" width="21.0" height="3.5" transform="rotate(122 159.0 504.5)"/></g><rect x="106.5" y="514.0" width="13" height="13" fill="#fff" fill-opacity="0.14" transform="rotate(45 113.0 520.5)"/><g fill="#fff" fill-opacity="0.3"><rect x="102.5" y="518.8" width="21.0" height="3.5" transform="rotate(58 113.0 520.5)"/><rect x="102.5" y="518.8" width="21.0" height="3.5" transform="rotate(122 113.0 520.5)"/></g><rect x="121.5" y="516.0" width="13" height="13" fill="#fff" fill-opacity="0.14" transform="rotate(45 128.0 522.5)"/><g fill="#fff" fill-opacity="0.3"><rect x="117.5" y="520.8" width="21.0" height="3.5" transform="rotate(58 128.0 522.5)"/><rect x="117.5" y="520.8" width="21.0" height="3.5" transform="rotate(122 128.0 522.5)"/></g><rect x="145.5" y="517.0" width="13" height="13" fill="#fff" fill-opacity="0.14" transform="rotate(45 152.0 523.5)"/><g fill="#fff" fill-opacity="0.3"><rect x="141.5" y="521.8" width="21.0" height="3.5" transform="rotate(58 152.0 523.5)"/><rect x="141.5" y="521.8" width="21.0" height="3.5" transform="rotate(122 152.0 523.5)"/></g><rect x="164.5" y="515.5" width="13" height="13" fill="#fff" fill-opacity="0.14" transform="rotate(45 171.0 522.0)"/><g fill="#fff" fill-opacity="0.3"><rect x="160.5" y="520.2" width="21.0" height="3.5" transform="rotate(58 171.0 522.0)"/><rect x="160.5" y="520.2" width="21.0" height="3.5" transform="rotate(122 171.0 522.0)"/></g><rect x="94.5" y="529.5" width="13" height="13" fill="#fff" fill-opacity="0.14" transform="rotate(45 101.0 536.0)"/><g fill="#fff" fill-opacity="0.3"><rect x="90.5" y="534.2" width="21.0" height="3.5" transform="rotate(58 101.0 536.0)"/><rect x="90.5" y="534.2" width="21.0" height="3.5" transform="rotate(122 101.0 536.0)"/></g><rect x="113.5" y="530.9" width="13" height="13" fill="#fff" fill-opacity="0.14" transform="rotate(45 120.0 537.4)"/><g fill="#fff" fill-opacity="0.3"><rect x="109.5" y="535.6" width="21.0" height="3.5" transform="rotate(58 120.0 537.4)"/><rect x="109.5" y="535.6" width="21.0" height="3.5" transform="rotate(122 120.0 537.4)"/></g><rect x="132.5" y="533.0" width="13" height="13" fill="#fff" fill-opacity="0.14" transform="rotate(45 139.0 539.5)"/><g fill="#fff" fill-opacity="0.3"><rect x="128.5" y="537.8" width="21.0" height="3.5" transform="rotate(58 139.0 539.5)"/><rect x="128.5" y="537.8" width="21.0" height="3.5" transform="rotate(122 139.0 539.5)"/></g><rect x="152.5" y="533.0" width="13" height="13" fill="#fff" fill-opacity="0.14" transform="rotate(45 159.0 539.5)"/><g fill="#fff" fill-opacity="0.3"><rect x="148.5" y="537.8" width="21.0" height="3.5" transform="rotate(58 159.0 539.5)"/><rect x="148.5" y="537.8" width="21.0" height="3.5" transform="rotate(122 159.0 539.5)"/></g><rect x="172.0" y="532.1" width="13" height="13" fill="#fff" fill-opacity="0.14" transform="rotate(45 178.5 538.6)"/><g fill="#fff" fill-opacity="0.3"><rect x="168.0" y="536.9" width="21.0" height="3.5" transform="rotate(58 178.5 538.6)"/><rect x="168.0" y="536.9" width="21.0" height="3.5" transform="rotate(122 178.5 538.6)"/></g></g>
<g filter="url(#bl15)"><rect x="98.5" y="315.9" width="20.5" height="20.5" rx="4" fill="rgb(190,190,190)" transform="rotate(-25 108.8 326.2)"/><rect x="102.1" y="318.6" width="14.0" height="14.0" rx="4" fill="rgb(254,254,254)" transform="rotate(-25 108.8 326.2)"/><rect x="135.8" y="316.6" width="20.5" height="20.5" rx="4" fill="rgb(170,170,170)" transform="rotate(-25 146.0 326.8)"/><rect x="138.0" y="320.9" width="14.0" height="14.0" rx="4" fill="rgb(249,249,249)" transform="rotate(-25 146.0 326.8)"/><rect x="172.8" y="316.6" width="20.5" height="20.5" rx="4" fill="rgb(192,192,192)" transform="rotate(-25 183.0 326.8)"/><rect x="176.8" y="318.8" width="14.0" height="14.0" rx="4" fill="rgb(244,244,244)" transform="rotate(-25 183.0 326.8)"/><rect x="68.2" y="345.2" width="20.5" height="20.5" rx="4" fill="rgb(178,178,178)" transform="rotate(-25 78.5 355.5)"/><rect x="70.7" y="347.4" width="14.0" height="14.0" rx="4" fill="rgb(240,240,240)" transform="rotate(-25 78.5 355.5)"/><rect x="116.2" y="347.8" width="20.5" height="20.5" rx="4" fill="rgb(172,172,172)" transform="rotate(-25 126.5 358.0)"/><rect x="118.6" y="351.3" width="14.0" height="14.0" rx="4" fill="rgb(248,248,248)" transform="rotate(-25 126.5 358.0)"/><rect x="152.6" y="348.8" width="20.5" height="20.5" rx="4" fill="rgb(191,191,191)" transform="rotate(-25 162.8 359.0)"/><rect x="155.8" y="351.4" width="14.0" height="14.0" rx="4" fill="rgb(238,238,238)" transform="rotate(-25 162.8 359.0)"/><rect x="51.4" y="371.2" width="20.5" height="20.5" rx="4" fill="rgb(185,185,185)" transform="rotate(-25 61.6 381.5)"/><rect x="54.7" y="375.6" width="14.0" height="14.0" rx="4" fill="rgb(244,244,244)" transform="rotate(-25 61.6 381.5)"/><rect x="85.0" y="373.8" width="20.5" height="20.5" rx="4" fill="rgb(192,192,192)" transform="rotate(-25 95.3 384.0)"/><rect x="89.2" y="377.4" width="14.0" height="14.0" rx="4" fill="rgb(254,254,254)" transform="rotate(-25 95.3 384.0)"/><rect x="132.8" y="381.2" width="20.5" height="20.5" rx="4" fill="rgb(179,179,179)" transform="rotate(-25 143.0 391.5)"/><rect x="136.6" y="385.2" width="14.0" height="14.0" rx="4" fill="rgb(241,241,241)" transform="rotate(-25 143.0 391.5)"/><rect x="33.8" y="399.8" width="20.5" height="20.5" rx="4" fill="rgb(165,165,165)" transform="rotate(-25 44.0 410.0)"/><rect x="36.8" y="403.6" width="14.0" height="14.0" rx="4" fill="rgb(243,243,243)" transform="rotate(-25 44.0 410.0)"/><rect x="64.8" y="400.8" width="20.5" height="20.5" rx="4" fill="rgb(166,166,166)" transform="rotate(-25 75.0 411.0)"/><rect x="67.8" y="404.6" width="14.0" height="14.0" rx="4" fill="rgb(241,241,241)" transform="rotate(-25 75.0 411.0)"/><rect x="98.5" y="400.8" width="20.5" height="20.5" rx="4" fill="rgb(179,179,179)" transform="rotate(-25 108.8 411.0)"/><rect x="101.5" y="403.4" width="14.0" height="14.0" rx="4" fill="rgb(254,254,254)" transform="rotate(-25 108.8 411.0)"/><rect x="23.8" y="441.8" width="12.5" height="12.5" rx="2.5" fill="rgb(148,148,148)" transform="rotate(40 30.0 448.0)"/><rect x="24.9" y="443.1" width="8.0" height="8.0" rx="2.5" fill="rgb(248,248,248)" transform="rotate(40 30.0 448.0)"/><rect x="50.8" y="442.2" width="12.5" height="12.5" rx="2.5" fill="rgb(167,167,167)" transform="rotate(40 57.0 448.5)"/><rect x="53.1" y="444.2" width="8.0" height="8.0" rx="2.5" fill="rgb(250,250,250)" transform="rotate(40 57.0 448.5)"/><rect x="76.8" y="444.2" width="12.5" height="12.5" rx="2.5" fill="rgb(163,163,163)" transform="rotate(40 83.0 450.5)"/><rect x="77.8" y="445.3" width="8.0" height="8.0" rx="2.5" fill="rgb(232,232,232)" transform="rotate(40 83.0 450.5)"/><rect x="100.2" y="443.2" width="12.5" height="12.5" rx="2.5" fill="rgb(144,144,144)" transform="rotate(40 106.5 449.5)"/><rect x="103.5" y="446.3" width="8.0" height="8.0" rx="2.5" fill="rgb(247,247,247)" transform="rotate(40 106.5 449.5)"/><rect x="37.8" y="464.8" width="12.5" height="12.5" rx="2.5" fill="rgb(172,172,172)" transform="rotate(40 44.0 471.0)"/><rect x="41.2" y="466.3" width="8.0" height="8.0" rx="2.5" fill="rgb(249,249,249)" transform="rotate(40 44.0 471.0)"/><rect x="62.8" y="463.2" width="12.5" height="12.5" rx="2.5" fill="rgb(175,175,175)" transform="rotate(40 69.0 469.5)"/><rect x="64.7" y="464.7" width="8.0" height="8.0" rx="2.5" fill="rgb(233,233,233)" transform="rotate(40 69.0 469.5)"/><rect x="88.8" y="465.2" width="12.5" height="12.5" rx="2.5" fill="rgb(170,170,170)" transform="rotate(40 95.0 471.5)"/><rect x="91.1" y="467.5" width="8.0" height="8.0" rx="2.5" fill="rgb(231,231,231)" transform="rotate(40 95.0 471.5)"/><rect x="49.8" y="488.2" width="12.5" height="12.5" rx="2.5" fill="rgb(146,146,146)" transform="rotate(40 56.0 494.5)"/><rect x="52.4" y="490.1" width="8.0" height="8.0" rx="2.5" fill="rgb(240,240,240)" transform="rotate(40 56.0 494.5)"/><rect x="74.3" y="488.8" width="12.5" height="12.5" rx="2.5" fill="rgb(169,169,169)" transform="rotate(40 80.6 495.0)"/><rect x="76.2" y="490.4" width="8.0" height="8.0" rx="2.5" fill="rgb(238,238,238)" transform="rotate(40 80.6 495.0)"/><rect x="61.5" y="510.2" width="12.5" height="12.5" rx="2.5" fill="rgb(169,169,169)" transform="rotate(40 67.7 516.5)"/><rect x="63.0" y="512.5" width="8.0" height="8.0" rx="2.5" fill="rgb(247,247,247)" transform="rotate(40 67.7 516.5)"/><rect x="136.8" y="466.2" width="8.5" height="8.5" rx="1.5" fill="rgb(125,125,125)" transform="rotate(40 141.0 470.5)"/><rect x="139.3" y="468.8" width="5.0" height="5.0" rx="1.5" fill="rgb(232,232,232)" transform="rotate(40 141.0 470.5)"/><rect x="125.8" y="482.4" width="8.5" height="8.5" rx="1.5" fill="rgb(139,139,139)" transform="rotate(40 130.0 486.6)"/><rect x="126.4" y="485.3" width="5.0" height="5.0" rx="1.5" fill="rgb(241,241,241)" transform="rotate(40 130.0 486.6)"/><rect x="143.8" y="481.2" width="8.5" height="8.5" rx="1.5" fill="rgb(152,152,152)" transform="rotate(40 148.0 485.5)"/><rect x="146.4" y="483.4" width="5.0" height="5.0" rx="1.5" fill="rgb(220,220,220)" transform="rotate(40 148.0 485.5)"/><rect x="119.8" y="499.2" width="8.5" height="8.5" rx="1.5" fill="rgb(155,155,155)" transform="rotate(40 124.0 503.5)"/><rect x="121.6" y="501.1" width="5.0" height="5.0" rx="1.5" fill="rgb(228,228,228)" transform="rotate(40 124.0 503.5)"/><rect x="137.8" y="502.2" width="8.5" height="8.5" rx="1.5" fill="rgb(134,134,134)" transform="rotate(40 142.0 506.5)"/><rect x="139.2" y="504.8" width="5.0" height="5.0" rx="1.5" fill="rgb(237,237,237)" transform="rotate(40 142.0 506.5)"/><rect x="154.8" y="500.2" width="8.5" height="8.5" rx="1.5" fill="rgb(151,151,151)" transform="rotate(40 159.0 504.5)"/><rect x="156.8" y="502.9" width="5.0" height="5.0" rx="1.5" fill="rgb(220,220,220)" transform="rotate(40 159.0 504.5)"/><rect x="108.8" y="516.2" width="8.5" height="8.5" rx="1.5" fill="rgb(130,130,130)" transform="rotate(40 113.0 520.5)"/><rect x="111.4" y="518.8" width="5.0" height="5.0" rx="1.5" fill="rgb(219,219,219)" transform="rotate(40 113.0 520.5)"/><rect x="123.8" y="518.2" width="8.5" height="8.5" rx="1.5" fill="rgb(126,126,126)" transform="rotate(40 128.0 522.5)"/><rect x="125.4" y="520.6" width="5.0" height="5.0" rx="1.5" fill="rgb(241,241,241)" transform="rotate(40 128.0 522.5)"/><rect x="147.8" y="519.2" width="8.5" height="8.5" rx="1.5" fill="rgb(146,146,146)" transform="rotate(40 152.0 523.5)"/><rect x="149.9" y="520.4" width="5.0" height="5.0" rx="1.5" fill="rgb(222,222,222)" transform="rotate(40 152.0 523.5)"/><rect x="166.8" y="517.8" width="8.5" height="8.5" rx="1.5" fill="rgb(126,126,126)" transform="rotate(40 171.0 522.0)"/><rect x="169.7" y="520.3" width="5.0" height="5.0" rx="1.5" fill="rgb(236,236,236)" transform="rotate(40 171.0 522.0)"/><rect x="96.8" y="531.8" width="8.5" height="8.5" rx="1.5" fill="rgb(151,151,151)" transform="rotate(40 101.0 536.0)"/><rect x="99.1" y="532.8" width="5.0" height="5.0" rx="1.5" fill="rgb(221,221,221)" transform="rotate(40 101.0 536.0)"/><rect x="115.8" y="533.1" width="8.5" height="8.5" rx="1.5" fill="rgb(156,156,156)" transform="rotate(40 120.0 537.4)"/><rect x="118.7" y="535.6" width="5.0" height="5.0" rx="1.5" fill="rgb(222,222,222)" transform="rotate(40 120.0 537.4)"/><rect x="134.8" y="535.2" width="8.5" height="8.5" rx="1.5" fill="rgb(146,146,146)" transform="rotate(40 139.0 539.5)"/><rect x="136.6" y="536.9" width="5.0" height="5.0" rx="1.5" fill="rgb(222,222,222)" transform="rotate(40 139.0 539.5)"/><rect x="154.8" y="535.2" width="8.5" height="8.5" rx="1.5" fill="rgb(144,144,144)" transform="rotate(40 159.0 539.5)"/><rect x="156.7" y="536.4" width="5.0" height="5.0" rx="1.5" fill="rgb(232,232,232)" transform="rotate(40 159.0 539.5)"/><rect x="174.2" y="534.4" width="8.5" height="8.5" rx="1.5" fill="rgb(120,120,120)" transform="rotate(40 178.5 538.6)"/><rect x="175.8" y="536.8" width="5.0" height="5.0" rx="1.5" fill="rgb(229,229,229)" transform="rotate(40 178.5 538.6)"/></g>
<line x1="20" y1="447.8" x2="281" y2="455" stroke="#bbb" stroke-width="0.9" stroke-opacity="0.8"/>
<line x1="20" y1="447.8" x2="281" y2="455" stroke="#000" stroke-opacity="0.55" stroke-width="4.2" stroke-dasharray="9.9 9.96" stroke-dashoffset="3.56"/>
<line x1="20" y1="447.8" x2="281" y2="455" stroke="#f0141c" stroke-width="2.3" stroke-dasharray="9.9 9.96" stroke-dashoffset="3.56"/>
<text x="23.3" y="315.3" class="im" font-size="21px">TOF</text>
</g>
<g clip-path="url(#cC)"><rect x="869" y="0" width="290" height="579" fill="#05090b"/>
<circle cx="1011.0" cy="152.0" r="126" fill="#090c0e" filter="url(#bl6)"/>
<g filter="url(#bl07)"><polygon points="1083.6,52.0 1042.0,126.0 1127.0,126.0" fill="rgb(60,60,60)"/><path d="M1081.7 52.4l4.75 4.75l-4.75 4.75l-4.75 -4.75z" fill="rgb(131,131,131)"/><path d="M1086.8 57.9l4.75 4.75l-4.75 4.75l-4.75 -4.75z" fill="rgb(115,115,115)"/><path d="M1082.4 62.5l4.75 4.75l-4.75 4.75l-4.75 -4.75z" fill="rgb(93,93,93)"/><path d="M1076.9 69.3l4.75 4.75l-4.75 4.75l-4.75 -4.75z" fill="rgb(147,147,147)"/><path d="M1069.2 75.3l4.75 4.75l-4.75 4.75l-4.75 -4.75z" fill="rgb(71,71,71)"/><path d="M1065.7 80.8l4.75 4.75l-4.75 4.75l-4.75 -4.75z" fill="rgb(133,133,133)"/><path d="M1086.3 70.5l4.75 4.75l-4.75 4.75l-4.75 -4.75z" fill="rgb(78,78,78)"/><path d="M1082.5 74.1l4.75 4.75l-4.75 4.75l-4.75 -4.75z" fill="rgb(147,147,147)"/><path d="M1076.9 80.9l4.75 4.75l-4.75 4.75l-4.75 -4.75z" fill="rgb(143,143,143)"/><path d="M1071.2 88.1l4.75 4.75l-4.75 4.75l-4.75 -4.75z" fill="rgb(83,83,83)"/><path d="M1064.1 91.3l4.75 4.75l-4.75 4.75l-4.75 -4.75z" fill="rgb(97,97,97)"/><path d="M1059.0 98.9l4.75 4.75l-4.75 4.75l-4.75 -4.75z" fill="rgb(86,86,86)"/><path d="M1053.4 102.4l4.75 4.75l-4.75 4.75l-4.75 -4.75z" fill="rgb(97,97,97)"/><path d="M1090.6 74.7l4.75 4.75l-4.75 4.75l-4.75 -4.75z" fill="rgb(132,132,132)"/><path d="M1086.4 82.3l4.75 4.75l-4.75 4.75l-4.75 -4.75z" fill="rgb(123,123,123)"/><path d="M1080.2 86.4l4.75 4.75l-4.75 4.75l-4.75 -4.75z" fill="rgb(88,88,88)"/><path d="M1076.2 92.8l4.75 4.75l-4.75 4.75l-4.75 -4.75z" fill="rgb(102,102,102)"/><path d="M1068.5 98.9l4.75 4.75l-4.75 4.75l-4.75 -4.75z" fill="rgb(72,72,72)"/><path d="M1064.9 104.4l4.75 4.75l-4.75 4.75l-4.75 -4.75z" fill="rgb(98,98,98)"/><path d="M1057.2 109.0l4.75 4.75l-4.75 4.75l-4.75 -4.75z" fill="rgb(64,64,64)"/><path d="M1052.0 113.4l4.75 4.75l-4.75 4.75l-4.75 -4.75z" fill="rgb(71,71,71)"/><path d="M1047.9 121.0l4.75 4.75l-4.75 4.75l-4.75 -4.75z" fill="rgb(96,96,96)"/><path d="M1096.4 82.0l4.75 4.75l-4.75 4.75l-4.75 -4.75z" fill="rgb(103,103,103)"/><path d="M1094.2 86.9l4.75 4.75l-4.75 4.75l-4.75 -4.75z" fill="rgb(78,78,78)"/><path d="M1088.5 90.7l4.75 4.75l-4.75 4.75l-4.75 -4.75z" fill="rgb(70,70,70)"/><path d="M1079.9 96.4l4.75 4.75l-4.75 4.75l-4.75 -4.75z" fill="rgb(67,67,67)"/><path d="M1077.0 102.0l4.75 4.75l-4.75 4.75l-4.75 -4.75z" fill="rgb(101,101,101)"/><path d="M1068.7 108.2l4.75 4.75l-4.75 4.75l-4.75 -4.75z" fill="rgb(63,63,63)"/><path d="M1063.9 113.7l4.75 4.75l-4.75 4.75l-4.75 -4.75z" fill="rgb(123,123,123)"/><path d="M1060.6 118.9l4.75 4.75l-4.75 4.75l-4.75 -4.75z" fill="rgb(99,99,99)"/><path d="M1102.0 87.1l4.75 4.75l-4.75 4.75l-4.75 -4.75z" fill="rgb(77,77,77)"/><path d="M1099.4 91.4l4.75 4.75l-4.75 4.75l-4.75 -4.75z" fill="rgb(87,87,87)"/><path d="M1093.6 95.9l4.75 4.75l-4.75 4.75l-4.75 -4.75z" fill="rgb(147,147,147)"/><path d="M1086.2 101.6l4.75 4.75l-4.75 4.75l-4.75 -4.75z" fill="rgb(86,86,86)"/><path d="M1079.8 108.0l4.75 4.75l-4.75 4.75l-4.75 -4.75z" fill="rgb(102,102,102)"/><path d="M1075.8 113.3l4.75 4.75l-4.75 4.75l-4.75 -4.75z" fill="rgb(149,149,149)"/><path d="M1068.7 118.6l4.75 4.75l-4.75 4.75l-4.75 -4.75z" fill="rgb(80,80,80)"/><path d="M1102.7 97.5l4.75 4.75l-4.75 4.75l-4.75 -4.75z" fill="rgb(142,142,142)"/><path d="M1099.3 103.2l4.75 4.75l-4.75 4.75l-4.75 -4.75z" fill="rgb(110,110,110)"/><path d="M1090.9 108.5l4.75 4.75l-4.75 4.75l-4.75 -4.75z" fill="rgb(131,131,131)"/><path d="M1085.1 113.4l4.75 4.75l-4.75 4.75l-4.75 -4.75z" fill="rgb(108,108,108)"/><path d="M1079.5 118.9l4.75 4.75l-4.75 4.75l-4.75 -4.75z" fill="rgb(126,126,126)"/><path d="M1109.7 104.9l4.75 4.75l-4.75 4.75l-4.75 -4.75z" fill="rgb(83,83,83)"/><path d="M1104.7 109.0l4.75 4.75l-4.75 4.75l-4.75 -4.75z" fill="rgb(55,55,55)"/><path d="M1098.3 114.0l4.75 4.75l-4.75 4.75l-4.75 -4.75z" fill="rgb(61,61,61)"/><path d="M1093.5 120.8l4.75 4.75l-4.75 4.75l-4.75 -4.75z" fill="rgb(144,144,144)"/><path d="M1116.3 109.9l4.75 4.75l-4.75 4.75l-4.75 -4.75z" fill="rgb(131,131,131)"/><path d="M1109.3 113.5l4.75 4.75l-4.75 4.75l-4.75 -4.75z" fill="rgb(99,99,99)"/><path d="M1103.2 120.5l4.75 4.75l-4.75 4.75l-4.75 -4.75z" fill="rgb(68,68,68)"/><path d="M1120.9 113.3l4.75 4.75l-4.75 4.75l-4.75 -4.75z" fill="rgb(100,100,100)"/><path d="M1113.7 119.7l4.75 4.75l-4.75 4.75l-4.75 -4.75z" fill="rgb(131,131,131)"/><polygon points="1042.0,158.5 1129.0,158.5 1083.6,234.0" fill="rgb(40,40,40)"/><path d="M1043.0 154.9l4.5 4.5l-4.5 4.5l-4.5 -4.5z" fill="rgb(204,204,204)"/><path d="M1048.4 161.4l4.5 4.5l-4.5 4.5l-4.5 -4.5z" fill="rgb(152,152,152)"/><path d="M1064.6 161.6l4.5 4.5l-4.5 4.5l-4.5 -4.5z" fill="rgb(98,98,98)"/><path d="M1057.0 167.5l4.5 4.5l-4.5 4.5l-4.5 -4.5z" fill="rgb(206,206,206)"/><path d="M1084.5 154.8l4.5 4.5l-4.5 4.5l-4.5 -4.5z" fill="rgb(67,67,67)"/><path d="M1075.8 160.3l4.5 4.5l-4.5 4.5l-4.5 -4.5z" fill="rgb(124,124,124)"/><path d="M1070.4 167.9l4.5 4.5l-4.5 4.5l-4.5 -4.5z" fill="rgb(156,156,156)"/><path d="M1062.9 173.3l4.5 4.5l-4.5 4.5l-4.5 -4.5z" fill="rgb(65,65,65)"/><path d="M1057.4 181.8l4.5 4.5l-4.5 4.5l-4.5 -4.5z" fill="rgb(157,157,157)"/><path d="M1092.6 162.7l4.5 4.5l-4.5 4.5l-4.5 -4.5z" fill="rgb(99,99,99)"/><path d="M1082.3 166.5l4.5 4.5l-4.5 4.5l-4.5 -4.5z" fill="rgb(96,96,96)"/><path d="M1076.0 175.1l4.5 4.5l-4.5 4.5l-4.5 -4.5z" fill="rgb(139,139,139)"/><path d="M1069.9 181.1l4.5 4.5l-4.5 4.5l-4.5 -4.5z" fill="rgb(80,80,80)"/><path d="M1113.5 155.3l4.5 4.5l-4.5 4.5l-4.5 -4.5z" fill="rgb(80,80,80)"/><path d="M1103.9 161.8l4.5 4.5l-4.5 4.5l-4.5 -4.5z" fill="rgb(121,121,121)"/><path d="M1098.0 167.8l4.5 4.5l-4.5 4.5l-4.5 -4.5z" fill="rgb(142,142,142)"/><path d="M1091.4 175.4l4.5 4.5l-4.5 4.5l-4.5 -4.5z" fill="rgb(209,209,209)"/><path d="M1084.0 182.8l4.5 4.5l-4.5 4.5l-4.5 -4.5z" fill="rgb(187,187,187)"/><path d="M1075.3 190.3l4.5 4.5l-4.5 4.5l-4.5 -4.5z" fill="rgb(100,100,100)"/><path d="M1069.3 196.1l4.5 4.5l-4.5 4.5l-4.5 -4.5z" fill="rgb(137,137,137)"/><path d="M1127.6 154.6l4.5 4.5l-4.5 4.5l-4.5 -4.5z" fill="rgb(100,100,100)"/><path d="M1117.6 159.5l4.5 4.5l-4.5 4.5l-4.5 -4.5z" fill="rgb(161,161,161)"/><path d="M1111.3 167.5l4.5 4.5l-4.5 4.5l-4.5 -4.5z" fill="rgb(188,188,188)"/><path d="M1105.9 175.7l4.5 4.5l-4.5 4.5l-4.5 -4.5z" fill="rgb(166,166,166)"/><path d="M1098.4 182.7l4.5 4.5l-4.5 4.5l-4.5 -4.5z" fill="rgb(182,182,182)"/><path d="M1090.4 188.9l4.5 4.5l-4.5 4.5l-4.5 -4.5z" fill="rgb(174,174,174)"/><path d="M1084.6 197.6l4.5 4.5l-4.5 4.5l-4.5 -4.5z" fill="rgb(153,153,153)"/><path d="M1076.8 203.1l4.5 4.5l-4.5 4.5l-4.5 -4.5z" fill="rgb(78,78,78)"/><path d="M1111.8 180.9l4.5 4.5l-4.5 4.5l-4.5 -4.5z" fill="rgb(107,107,107)"/><path d="M1106.3 190.4l4.5 4.5l-4.5 4.5l-4.5 -4.5z" fill="rgb(141,141,141)"/><path d="M1096.9 194.6l4.5 4.5l-4.5 4.5l-4.5 -4.5z" fill="rgb(150,150,150)"/><path d="M1092.4 201.6l4.5 4.5l-4.5 4.5l-4.5 -4.5z" fill="rgb(136,136,136)"/><path d="M1084.1 211.8l4.5 4.5l-4.5 4.5l-4.5 -4.5z" fill="rgb(91,91,91)"/><path d="M1089.7 216.1l4.5 4.5l-4.5 4.5l-4.5 -4.5z" fill="rgb(67,67,67)"/><path d="M1082.9 225.2l4.5 4.5l-4.5 4.5l-4.5 -4.5z" fill="rgb(91,91,91)"/></g>
<g filter="url(#bl1)"><rect x="1072.4" y="158.4" width="5.2" height="5.2" fill="rgb(195,195,195)" transform="rotate(45 1075.0 161.0)"/><rect x="1126.4" y="159.4" width="5.2" height="5.2" fill="rgb(216,216,216)" transform="rotate(45 1129.0 162.0)"/><rect x="1089.4" y="175.4" width="5.2" height="5.2" fill="rgb(190,190,190)" transform="rotate(45 1092.0 178.0)"/><rect x="1110.4" y="174.4" width="5.2" height="5.2" fill="rgb(186,186,186)" transform="rotate(45 1113.0 177.0)"/><rect x="1057.4" y="186.4" width="5.2" height="5.2" fill="rgb(179,179,179)" transform="rotate(45 1060.0 189.0)"/><rect x="1066.4" y="201.4" width="5.2" height="5.2" fill="rgb(213,213,213)" transform="rotate(45 1069.0 204.0)"/><rect x="1090.4" y="214.4" width="5.2" height="5.2" fill="rgb(233,233,233)" transform="rotate(45 1093.0 217.0)"/><rect x="1080.4" y="228.4" width="5.2" height="5.2" fill="rgb(212,212,212)" transform="rotate(45 1083.0 231.0)"/><rect x="1050.4" y="162.4" width="5.2" height="5.2" fill="rgb(218,218,218)" transform="rotate(45 1053.0 165.0)"/><rect x="1102.4" y="192.4" width="5.2" height="5.2" fill="rgb(202,202,202)" transform="rotate(45 1105.0 195.0)"/><rect x="1114.4" y="121.4" width="5.2" height="5.2" fill="rgb(224,224,224)" transform="rotate(45 1117.0 124.0)"/><rect x="1102.4" y="115.4" width="5.2" height="5.2" fill="rgb(199,199,199)" transform="rotate(45 1105.0 118.0)"/><rect x="1086.4" y="67.4" width="5.2" height="5.2" fill="rgb(175,175,175)" transform="rotate(45 1089.0 70.0)"/><rect x="1094.4" y="95.4" width="5.2" height="5.2" fill="rgb(207,207,207)" transform="rotate(45 1097.0 98.0)"/></g>
<g filter="url(#bl6)"><polygon points="915.9,120.0 946.2,66.1 974.3,36.9 1048.3,36.9 1030.4,69.5 1012.4,100.9 977.6,121.1" fill="rgb(30,30,30)" stroke="rgb(30,30,30)" stroke-width="30" stroke-linejoin="round"/><polygon points="902.4,159.1 953.0,159.1 977.6,160.2 939.5,224.2 927.1,202.8" fill="rgb(30,30,30)" stroke="rgb(30,30,30)" stroke-width="22" stroke-linejoin="round"/><polygon points="974.3,244.4 982.1,228.6 992.2,211.8 1001.2,197.2 1012.4,180.4 1048.3,245.5 1009.0,245.5" fill="rgb(32,32,32)" stroke="rgb(32,32,32)" stroke-width="18" stroke-linejoin="round"/></g>
<g filter="url(#bl2)"><rect x="960.3" y="22.9" width="28" height="28" rx="6" fill="#fff" fill-opacity="0.13" transform="rotate(45 974.3 36.9)"/><rect x="998.4" y="22.9" width="28" height="28" rx="6" fill="#fff" fill-opacity="0.13" transform="rotate(45 1012.4 36.9)"/><rect x="1034.3" y="22.9" width="28" height="28" rx="6" fill="#fff" fill-opacity="0.13" transform="rotate(45 1048.3 36.9)"/><rect x="932.2" y="52.1" width="28" height="28" rx="6" fill="#fff" fill-opacity="0.13" transform="rotate(45 946.2 66.1)"/><rect x="981.6" y="55.5" width="28" height="28" rx="6" fill="#fff" fill-opacity="0.13" transform="rotate(45 995.6 69.5)"/><rect x="1016.4" y="55.5" width="28" height="28" rx="6" fill="#fff" fill-opacity="0.13" transform="rotate(45 1030.4 69.5)"/><rect x="917.6" y="80.2" width="28" height="28" rx="6" fill="#fff" fill-opacity="0.13" transform="rotate(45 931.6 94.2)"/><rect x="947.9" y="80.2" width="28" height="28" rx="6" fill="#fff" fill-opacity="0.13" transform="rotate(45 961.9 94.2)"/><rect x="998.4" y="86.9" width="28" height="28" rx="6" fill="#fff" fill-opacity="0.13" transform="rotate(45 1012.4 100.9)"/><rect x="901.9" y="106.0" width="28" height="28" rx="6" fill="#fff" fill-opacity="0.13" transform="rotate(45 915.9 120.0)"/><rect x="933.3" y="106.0" width="28" height="28" rx="6" fill="#fff" fill-opacity="0.13" transform="rotate(45 947.3 120.0)"/><rect x="963.6" y="107.1" width="28" height="28" rx="6" fill="#fff" fill-opacity="0.13" transform="rotate(45 977.6 121.1)"/><rect x="893.4" y="150.1" width="18" height="18" fill="#fff" fill-opacity="0.14" transform="rotate(45 902.4 159.1)"/><g fill="#fff" fill-opacity="0.3"><rect x="887.9" y="156.8" width="29.0" height="4.5" transform="rotate(58 902.4 159.1)"/><rect x="887.9" y="156.8" width="29.0" height="4.5" transform="rotate(122 902.4 159.1)"/></g><rect x="919.2" y="150.1" width="18" height="18" fill="#fff" fill-opacity="0.14" transform="rotate(45 928.2 159.1)"/><g fill="#fff" fill-opacity="0.3"><rect x="913.7" y="156.8" width="29.0" height="4.5" transform="rotate(58 928.2 159.1)"/><rect x="913.7" y="156.8" width="29.0" height="4.5" transform="rotate(122 928.2 159.1)"/></g><rect x="944.0" y="150.1" width="18" height="18" fill="#fff" fill-opacity="0.14" transform="rotate(45 953.0 159.1)"/><g fill="#fff" fill-opacity="0.3"><rect x="938.5" y="156.8" width="29.0" height="4.5" transform="rotate(58 953.0 159.1)"/><rect x="938.5" y="156.8" width="29.0" height="4.5" transform="rotate(122 953.0 159.1)"/></g><rect x="968.6" y="151.2" width="18" height="18" fill="#fff" fill-opacity="0.14" transform="rotate(45 977.6 160.2)"/><g fill="#fff" fill-opacity="0.3"><rect x="963.1" y="157.9" width="29.0" height="4.5" transform="rotate(58 977.6 160.2)"/><rect x="963.1" y="157.9" width="29.0" height="4.5" transform="rotate(122 977.6 160.2)"/></g><rect x="908.0" y="170.3" width="18" height="18" fill="#fff" fill-opacity="0.14" transform="rotate(45 917.0 179.3)"/><g fill="#fff" fill-opacity="0.3"><rect x="902.5" y="177.1" width="29.0" height="4.5" transform="rotate(58 917.0 179.3)"/><rect x="902.5" y="177.1" width="29.0" height="4.5" transform="rotate(122 917.0 179.3)"/></g><rect x="931.6" y="171.4" width="18" height="18" fill="#fff" fill-opacity="0.14" transform="rotate(45 940.6 180.4)"/><g fill="#fff" fill-opacity="0.3"><rect x="926.1" y="178.2" width="29.0" height="4.5" transform="rotate(58 940.6 180.4)"/><rect x="926.1" y="178.2" width="29.0" height="4.5" transform="rotate(122 940.6 180.4)"/></g><rect x="956.3" y="171.4" width="18" height="18" fill="#fff" fill-opacity="0.14" transform="rotate(45 965.3 180.4)"/><g fill="#fff" fill-opacity="0.3"><rect x="950.8" y="178.2" width="29.0" height="4.5" transform="rotate(58 965.3 180.4)"/><rect x="950.8" y="178.2" width="29.0" height="4.5" transform="rotate(122 965.3 180.4)"/></g><rect x="918.1" y="193.8" width="18" height="18" fill="#fff" fill-opacity="0.14" transform="rotate(45 927.1 202.8)"/><g fill="#fff" fill-opacity="0.3"><rect x="912.6" y="200.6" width="29.0" height="4.5" transform="rotate(58 927.1 202.8)"/><rect x="912.6" y="200.6" width="29.0" height="4.5" transform="rotate(122 927.1 202.8)"/></g><rect x="942.8" y="193.8" width="18" height="18" fill="#fff" fill-opacity="0.14" transform="rotate(45 951.8 202.8)"/><g fill="#fff" fill-opacity="0.3"><rect x="937.3" y="200.6" width="29.0" height="4.5" transform="rotate(58 951.8 202.8)"/><rect x="937.3" y="200.6" width="29.0" height="4.5" transform="rotate(122 951.8 202.8)"/></g><rect x="930.5" y="215.2" width="18" height="18" fill="#fff" fill-opacity="0.14" transform="rotate(45 939.5 224.2)"/><g fill="#fff" fill-opacity="0.3"><rect x="925.0" y="221.9" width="29.0" height="4.5" transform="rotate(58 939.5 224.2)"/><rect x="925.0" y="221.9" width="29.0" height="4.5" transform="rotate(122 939.5 224.2)"/></g><rect x="1005.9" y="173.9" width="13" height="13" fill="#fff" fill-opacity="0.14" transform="rotate(45 1012.4 180.4)"/><g fill="#fff" fill-opacity="0.3"><rect x="1001.9" y="178.7" width="21.0" height="3.5" transform="rotate(58 1012.4 180.4)"/><rect x="1001.9" y="178.7" width="21.0" height="3.5" transform="rotate(122 1012.4 180.4)"/></g><rect x="994.7" y="190.7" width="13" height="13" fill="#fff" fill-opacity="0.14" transform="rotate(45 1001.2 197.2)"/><g fill="#fff" fill-opacity="0.3"><rect x="990.7" y="195.4" width="21.0" height="3.5" transform="rotate(58 1001.2 197.2)"/><rect x="990.7" y="195.4" width="21.0" height="3.5" transform="rotate(122 1001.2 197.2)"/></g><rect x="1012.6" y="189.6" width="13" height="13" fill="#fff" fill-opacity="0.14" transform="rotate(45 1019.1 196.1)"/><g fill="#fff" fill-opacity="0.3"><rect x="1008.6" y="194.3" width="21.0" height="3.5" transform="rotate(58 1019.1 196.1)"/><rect x="1008.6" y="194.3" width="21.0" height="3.5" transform="rotate(122 1019.1 196.1)"/></g><rect x="985.7" y="205.3" width="13" height="13" fill="#fff" fill-opacity="0.14" transform="rotate(45 992.2 211.8)"/><g fill="#fff" fill-opacity="0.3"><rect x="981.7" y="210.1" width="21.0" height="3.5" transform="rotate(58 992.2 211.8)"/><rect x="981.7" y="210.1" width="21.0" height="3.5" transform="rotate(122 992.2 211.8)"/></g><rect x="1003.7" y="208.7" width="13" height="13" fill="#fff" fill-opacity="0.14" transform="rotate(45 1010.2 215.2)"/><g fill="#fff" fill-opacity="0.3"><rect x="999.7" y="213.4" width="21.0" height="3.5" transform="rotate(58 1010.2 215.2)"/><rect x="999.7" y="213.4" width="21.0" height="3.5" transform="rotate(122 1010.2 215.2)"/></g><rect x="1021.6" y="205.3" width="13" height="13" fill="#fff" fill-opacity="0.14" transform="rotate(45 1028.1 211.8)"/><g fill="#fff" fill-opacity="0.3"><rect x="1017.6" y="210.1" width="21.0" height="3.5" transform="rotate(58 1028.1 211.8)"/><rect x="1017.6" y="210.1" width="21.0" height="3.5" transform="rotate(122 1028.1 211.8)"/></g><rect x="975.6" y="222.1" width="13" height="13" fill="#fff" fill-opacity="0.14" transform="rotate(45 982.1 228.6)"/><g fill="#fff" fill-opacity="0.3"><rect x="971.6" y="226.8" width="21.0" height="3.5" transform="rotate(58 982.1 228.6)"/><rect x="971.6" y="226.8" width="21.0" height="3.5" transform="rotate(122 982.1 228.6)"/></g><rect x="994.7" y="222.1" width="13" height="13" fill="#fff" fill-opacity="0.14" transform="rotate(45 1001.2 228.6)"/><g fill="#fff" fill-opacity="0.3"><rect x="990.7" y="226.8" width="21.0" height="3.5" transform="rotate(58 1001.2 228.6)"/><rect x="990.7" y="226.8" width="21.0" height="3.5" transform="rotate(122 1001.2 228.6)"/></g><rect x="1013.8" y="222.1" width="13" height="13" fill="#fff" fill-opacity="0.14" transform="rotate(45 1020.3 228.6)"/><g fill="#fff" fill-opacity="0.3"><rect x="1009.8" y="226.8" width="21.0" height="3.5" transform="rotate(58 1020.3 228.6)"/><rect x="1009.8" y="226.8" width="21.0" height="3.5" transform="rotate(122 1020.3 228.6)"/></g><rect x="1031.7" y="222.1" width="13" height="13" fill="#fff" fill-opacity="0.14" transform="rotate(45 1038.2 228.6)"/><g fill="#fff" fill-opacity="0.3"><rect x="1027.7" y="226.8" width="21.0" height="3.5" transform="rotate(58 1038.2 228.6)"/><rect x="1027.7" y="226.8" width="21.0" height="3.5" transform="rotate(122 1038.2 228.6)"/></g><rect x="967.8" y="237.9" width="13" height="13" fill="#fff" fill-opacity="0.14" transform="rotate(45 974.3 244.4)"/><g fill="#fff" fill-opacity="0.3"><rect x="963.8" y="242.7" width="21.0" height="3.5" transform="rotate(58 974.3 244.4)"/><rect x="963.8" y="242.7" width="21.0" height="3.5" transform="rotate(122 974.3 244.4)"/></g><rect x="984.6" y="237.9" width="13" height="13" fill="#fff" fill-opacity="0.14" transform="rotate(45 991.1 244.4)"/><g fill="#fff" fill-opacity="0.3"><rect x="980.6" y="242.7" width="21.0" height="3.5" transform="rotate(58 991.1 244.4)"/><rect x="980.6" y="242.7" width="21.0" height="3.5" transform="rotate(122 991.1 244.4)"/></g><rect x="1002.5" y="239.0" width="13" height="13" fill="#fff" fill-opacity="0.14" transform="rotate(45 1009.0 245.5)"/><g fill="#fff" fill-opacity="0.3"><rect x="998.5" y="243.8" width="21.0" height="3.5" transform="rotate(58 1009.0 245.5)"/><rect x="998.5" y="243.8" width="21.0" height="3.5" transform="rotate(122 1009.0 245.5)"/></g><rect x="1021.6" y="237.9" width="13" height="13" fill="#fff" fill-opacity="0.14" transform="rotate(45 1028.1 244.4)"/><g fill="#fff" fill-opacity="0.3"><rect x="1017.6" y="242.7" width="21.0" height="3.5" transform="rotate(58 1028.1 244.4)"/><rect x="1017.6" y="242.7" width="21.0" height="3.5" transform="rotate(122 1028.1 244.4)"/></g><rect x="1041.8" y="239.0" width="13" height="13" fill="#fff" fill-opacity="0.14" transform="rotate(45 1048.3 245.5)"/><g fill="#fff" fill-opacity="0.3"><rect x="1037.8" y="243.8" width="21.0" height="3.5" transform="rotate(58 1048.3 245.5)"/><rect x="1037.8" y="243.8" width="21.0" height="3.5" transform="rotate(122 1048.3 245.5)"/></g></g>
<g filter="url(#bl1)"><rect x="965.3" y="27.9" width="18.0" height="18.0" rx="2" fill="rgb(186,186,186)" transform="rotate(45 974.3 36.9)"/><rect x="967.8" y="30.3" width="11.5" height="11.5" rx="2" fill="rgb(239,239,239)" transform="rotate(45 974.3 36.9)"/><rect x="1003.4" y="27.9" width="18.0" height="18.0" rx="2" fill="rgb(209,209,209)" transform="rotate(45 1012.4 36.9)"/><rect x="1006.2" y="30.3" width="11.5" height="11.5" rx="2" fill="rgb(248,248,248)" transform="rotate(45 1012.4 36.9)"/><rect x="1039.3" y="27.9" width="18.0" height="18.0" rx="2" fill="rgb(181,181,181)" transform="rotate(45 1048.3 36.9)"/><rect x="1043.7" y="32.1" width="11.5" height="11.5" rx="2" fill="rgb(244,244,244)" transform="rotate(45 1048.3 36.9)"/><rect x="937.2" y="57.1" width="18.0" height="18.0" rx="2" fill="rgb(203,203,203)" transform="rotate(45 946.2 66.1)"/><rect x="940.2" y="60.6" width="11.5" height="11.5" rx="2" fill="rgb(238,238,238)" transform="rotate(45 946.2 66.1)"/><rect x="986.6" y="60.5" width="18.0" height="18.0" rx="2" fill="rgb(202,202,202)" transform="rotate(45 995.6 69.5)"/><rect x="989.7" y="64.7" width="11.5" height="11.5" rx="2" fill="rgb(249,249,249)" transform="rotate(45 995.6 69.5)"/><rect x="1021.4" y="60.5" width="18.0" height="18.0" rx="2" fill="rgb(190,190,190)" transform="rotate(45 1030.4 69.5)"/><rect x="1025.8" y="64.2" width="11.5" height="11.5" rx="2" fill="rgb(250,250,250)" transform="rotate(45 1030.4 69.5)"/><rect x="922.6" y="85.2" width="18.0" height="18.0" rx="2" fill="rgb(187,187,187)" transform="rotate(45 931.6 94.2)"/><rect x="925.5" y="87.5" width="11.5" height="11.5" rx="2" fill="rgb(254,254,254)" transform="rotate(45 931.6 94.2)"/><rect x="952.9" y="85.2" width="18.0" height="18.0" rx="2" fill="rgb(195,195,195)" transform="rotate(45 961.9 94.2)"/><rect x="957.1" y="87.7" width="11.5" height="11.5" rx="2" fill="rgb(238,238,238)" transform="rotate(45 961.9 94.2)"/><rect x="1003.4" y="91.9" width="18.0" height="18.0" rx="2" fill="rgb(199,199,199)" transform="rotate(45 1012.4 100.9)"/><rect x="1007.4" y="96.2" width="11.5" height="11.5" rx="2" fill="rgb(253,253,253)" transform="rotate(45 1012.4 100.9)"/><rect x="906.9" y="111.0" width="18.0" height="18.0" rx="2" fill="rgb(198,198,198)" transform="rotate(45 915.9 120.0)"/><rect x="910.9" y="114.1" width="11.5" height="11.5" rx="2" fill="rgb(248,248,248)" transform="rotate(45 915.9 120.0)"/><rect x="938.3" y="111.0" width="18.0" height="18.0" rx="2" fill="rgb(207,207,207)" transform="rotate(45 947.3 120.0)"/><rect x="942.6" y="114.8" width="11.5" height="11.5" rx="2" fill="rgb(255,255,255)" transform="rotate(45 947.3 120.0)"/><rect x="968.6" y="112.1" width="18.0" height="18.0" rx="2" fill="rgb(196,196,196)" transform="rotate(45 977.6 121.1)"/><rect x="971.9" y="115.3" width="11.5" height="11.5" rx="2" fill="rgb(238,238,238)" transform="rotate(45 977.6 121.1)"/><rect x="896.1" y="152.8" width="12.5" height="12.5" rx="2.5" fill="rgb(147,147,147)" transform="rotate(40 902.4 159.1)"/><rect x="899.6" y="155.4" width="8.0" height="8.0" rx="2.5" fill="rgb(235,235,235)" transform="rotate(40 902.4 159.1)"/><rect x="922.0" y="152.8" width="12.5" height="12.5" rx="2.5" fill="rgb(165,165,165)" transform="rotate(40 928.2 159.1)"/><rect x="923.9" y="154.6" width="8.0" height="8.0" rx="2.5" fill="rgb(249,249,249)" transform="rotate(40 928.2 159.1)"/><rect x="946.8" y="152.8" width="12.5" height="12.5" rx="2.5" fill="rgb(174,174,174)" transform="rotate(40 953.0 159.1)"/><rect x="949.4" y="155.4" width="8.0" height="8.0" rx="2.5" fill="rgb(251,251,251)" transform="rotate(40 953.0 159.1)"/><rect x="971.4" y="153.9" width="12.5" height="12.5" rx="2.5" fill="rgb(170,170,170)" transform="rotate(40 977.6 160.2)"/><rect x="973.0" y="156.3" width="8.0" height="8.0" rx="2.5" fill="rgb(233,233,233)" transform="rotate(40 977.6 160.2)"/><rect x="910.8" y="173.1" width="12.5" height="12.5" rx="2.5" fill="rgb(152,152,152)" transform="rotate(40 917.0 179.3)"/><rect x="912.5" y="176.0" width="8.0" height="8.0" rx="2.5" fill="rgb(244,244,244)" transform="rotate(40 917.0 179.3)"/><rect x="934.4" y="174.2" width="12.5" height="12.5" rx="2.5" fill="rgb(149,149,149)" transform="rotate(40 940.6 180.4)"/><rect x="936.0" y="176.2" width="8.0" height="8.0" rx="2.5" fill="rgb(241,241,241)" transform="rotate(40 940.6 180.4)"/><rect x="959.0" y="174.2" width="12.5" height="12.5" rx="2.5" fill="rgb(163,163,163)" transform="rotate(40 965.3 180.4)"/><rect x="960.7" y="176.7" width="8.0" height="8.0" rx="2.5" fill="rgb(244,244,244)" transform="rotate(40 965.3 180.4)"/><rect x="920.9" y="196.6" width="12.5" height="12.5" rx="2.5" fill="rgb(159,159,159)" transform="rotate(40 927.1 202.8)"/><rect x="922.2" y="198.5" width="8.0" height="8.0" rx="2.5" fill="rgb(234,234,234)" transform="rotate(40 927.1 202.8)"/><rect x="945.5" y="196.6" width="12.5" height="12.5" rx="2.5" fill="rgb(146,146,146)" transform="rotate(40 951.8 202.8)"/><rect x="947.6" y="198.6" width="8.0" height="8.0" rx="2.5" fill="rgb(245,245,245)" transform="rotate(40 951.8 202.8)"/><rect x="933.2" y="217.9" width="12.5" height="12.5" rx="2.5" fill="rgb(171,171,171)" transform="rotate(40 939.5 224.2)"/><rect x="934.9" y="220.0" width="8.0" height="8.0" rx="2.5" fill="rgb(230,230,230)" transform="rotate(40 939.5 224.2)"/><rect x="1008.1" y="176.2" width="8.5" height="8.5" rx="1.5" fill="rgb(130,130,130)" transform="rotate(40 1012.4 180.4)"/><rect x="1010.7" y="178.4" width="5.0" height="5.0" rx="1.5" fill="rgb(215,215,215)" transform="rotate(40 1012.4 180.4)"/><rect x="997.0" y="192.9" width="8.5" height="8.5" rx="1.5" fill="rgb(135,135,135)" transform="rotate(40 1001.2 197.2)"/><rect x="998.8" y="193.9" width="5.0" height="5.0" rx="1.5" fill="rgb(221,221,221)" transform="rotate(40 1001.2 197.2)"/><rect x="1014.9" y="191.8" width="8.5" height="8.5" rx="1.5" fill="rgb(155,155,155)" transform="rotate(40 1019.1 196.1)"/><rect x="1016.0" y="194.4" width="5.0" height="5.0" rx="1.5" fill="rgb(218,218,218)" transform="rotate(40 1019.1 196.1)"/><rect x="988.0" y="207.6" width="8.5" height="8.5" rx="1.5" fill="rgb(121,121,121)" transform="rotate(40 992.2 211.8)"/><rect x="990.0" y="209.3" width="5.0" height="5.0" rx="1.5" fill="rgb(225,225,225)" transform="rotate(40 992.2 211.8)"/><rect x="1006.0" y="210.9" width="8.5" height="8.5" rx="1.5" fill="rgb(130,130,130)" transform="rotate(40 1010.2 215.2)"/><rect x="1007.4" y="212.2" width="5.0" height="5.0" rx="1.5" fill="rgb(233,233,233)" transform="rotate(40 1010.2 215.2)"/><rect x="1023.8" y="207.6" width="8.5" height="8.5" rx="1.5" fill="rgb(128,128,128)" transform="rotate(40 1028.1 211.8)"/><rect x="1026.0" y="208.3" width="5.0" height="5.0" rx="1.5" fill="rgb(223,223,223)" transform="rotate(40 1028.1 211.8)"/><rect x="977.9" y="224.3" width="8.5" height="8.5" rx="1.5" fill="rgb(142,142,142)" transform="rotate(40 982.1 228.6)"/><rect x="980.3" y="226.7" width="5.0" height="5.0" rx="1.5" fill="rgb(244,244,244)" transform="rotate(40 982.1 228.6)"/><rect x="997.0" y="224.3" width="8.5" height="8.5" rx="1.5" fill="rgb(140,140,140)" transform="rotate(40 1001.2 228.6)"/><rect x="997.7" y="225.9" width="5.0" height="5.0" rx="1.5" fill="rgb(224,224,224)" transform="rotate(40 1001.2 228.6)"/><rect x="1016.0" y="224.3" width="8.5" height="8.5" rx="1.5" fill="rgb(160,160,160)" transform="rotate(40 1020.3 228.6)"/><rect x="1018.4" y="225.5" width="5.0" height="5.0" rx="1.5" fill="rgb(216,216,216)" transform="rotate(40 1020.3 228.6)"/><rect x="1034.0" y="224.3" width="8.5" height="8.5" rx="1.5" fill="rgb(140,140,140)" transform="rotate(40 1038.2 228.6)"/><rect x="1035.5" y="226.3" width="5.0" height="5.0" rx="1.5" fill="rgb(240,240,240)" transform="rotate(40 1038.2 228.6)"/><rect x="970.0" y="240.2" width="8.5" height="8.5" rx="1.5" fill="rgb(153,153,153)" transform="rotate(40 974.3 244.4)"/><rect x="970.7" y="241.3" width="5.0" height="5.0" rx="1.5" fill="rgb(223,223,223)" transform="rotate(40 974.3 244.4)"/><rect x="986.9" y="240.2" width="8.5" height="8.5" rx="1.5" fill="rgb(156,156,156)" transform="rotate(40 991.1 244.4)"/><rect x="987.6" y="241.0" width="5.0" height="5.0" rx="1.5" fill="rgb(232,232,232)" transform="rotate(40 991.1 244.4)"/><rect x="1004.8" y="241.2" width="8.5" height="8.5" rx="1.5" fill="rgb(127,127,127)" transform="rotate(40 1009.0 245.5)"/><rect x="1005.4" y="242.1" width="5.0" height="5.0" rx="1.5" fill="rgb(245,245,245)" transform="rotate(40 1009.0 245.5)"/><rect x="1023.8" y="240.2" width="8.5" height="8.5" rx="1.5" fill="rgb(126,126,126)" transform="rotate(40 1028.1 244.4)"/><rect x="1025.2" y="241.9" width="5.0" height="5.0" rx="1.5" fill="rgb(219,219,219)" transform="rotate(40 1028.1 244.4)"/><rect x="1044.0" y="241.2" width="8.5" height="8.5" rx="1.5" fill="rgb(126,126,126)" transform="rotate(40 1048.3 245.5)"/><rect x="1046.5" y="242.2" width="5.0" height="5.0" rx="1.5" fill="rgb(231,231,231)" transform="rotate(40 1048.3 245.5)"/></g>
<line x1="891.2" y1="160.2" x2="1141" y2="160.2" stroke="#bbb" stroke-width="0.9" stroke-opacity="0.8"/>
<line x1="891.2" y1="160.2" x2="1141" y2="160.2" stroke="#000" stroke-opacity="0.55" stroke-width="4.2" stroke-dasharray="9.8 9.2" stroke-dashoffset="3.9"/>
<line x1="891.2" y1="160.2" x2="1141" y2="160.2" stroke="#f0141c" stroke-width="2.3" stroke-dasharray="9.8 9.2" stroke-dashoffset="3.9"/>
<text x="879.1" y="20.6" class="im" font-size="21.5px">Non TOF</text>
<circle cx="1011.0" cy="442.8" r="126" fill="#090c0e" filter="url(#bl6)"/>
<g filter="url(#bl07)"><polygon points="1083.6,342.8 1042.0,416.8 1127.0,416.8" fill="rgb(60,60,60)"/><path d="M1081.1 342.8l4.75 4.75l-4.75 4.75l-4.75 -4.75z" fill="rgb(66,66,66)"/><path d="M1086.5 348.2l4.75 4.75l-4.75 4.75l-4.75 -4.75z" fill="rgb(63,63,63)"/><path d="M1080.8 356.6l4.75 4.75l-4.75 4.75l-4.75 -4.75z" fill="rgb(75,75,75)"/><path d="M1075.8 361.9l4.75 4.75l-4.75 4.75l-4.75 -4.75z" fill="rgb(140,140,140)"/><path d="M1069.3 367.8l4.75 4.75l-4.75 4.75l-4.75 -4.75z" fill="rgb(80,80,80)"/><path d="M1092.9 354.2l4.75 4.75l-4.75 4.75l-4.75 -4.75z" fill="rgb(134,134,134)"/><path d="M1085.2 362.0l4.75 4.75l-4.75 4.75l-4.75 -4.75z" fill="rgb(106,106,106)"/><path d="M1079.9 365.6l4.75 4.75l-4.75 4.75l-4.75 -4.75z" fill="rgb(104,104,104)"/><path d="M1074.4 370.1l4.75 4.75l-4.75 4.75l-4.75 -4.75z" fill="rgb(133,133,133)"/><path d="M1068.7 378.3l4.75 4.75l-4.75 4.75l-4.75 -4.75z" fill="rgb(100,100,100)"/><path d="M1065.8 384.5l4.75 4.75l-4.75 4.75l-4.75 -4.75z" fill="rgb(148,148,148)"/><path d="M1059.7 387.9l4.75 4.75l-4.75 4.75l-4.75 -4.75z" fill="rgb(139,139,139)"/><path d="M1097.3 361.7l4.75 4.75l-4.75 4.75l-4.75 -4.75z" fill="rgb(131,131,131)"/><path d="M1093.7 367.0l4.75 4.75l-4.75 4.75l-4.75 -4.75z" fill="rgb(122,122,122)"/><path d="M1088.1 371.9l4.75 4.75l-4.75 4.75l-4.75 -4.75z" fill="rgb(72,72,72)"/><path d="M1081.9 376.4l4.75 4.75l-4.75 4.75l-4.75 -4.75z" fill="rgb(140,140,140)"/><path d="M1075.6 381.4l4.75 4.75l-4.75 4.75l-4.75 -4.75z" fill="rgb(73,73,73)"/><path d="M1070.0 386.8l4.75 4.75l-4.75 4.75l-4.75 -4.75z" fill="rgb(100,100,100)"/><path d="M1064.1 393.7l4.75 4.75l-4.75 4.75l-4.75 -4.75z" fill="rgb(61,61,61)"/><path d="M1059.7 400.2l4.75 4.75l-4.75 4.75l-4.75 -4.75z" fill="rgb(100,100,100)"/><path d="M1054.8 406.7l4.75 4.75l-4.75 4.75l-4.75 -4.75z" fill="rgb(127,127,127)"/><path d="M1046.0 410.3l4.75 4.75l-4.75 4.75l-4.75 -4.75z" fill="rgb(112,112,112)"/><path d="M1099.4 370.3l4.75 4.75l-4.75 4.75l-4.75 -4.75z" fill="rgb(66,66,66)"/><path d="M1093.7 375.5l4.75 4.75l-4.75 4.75l-4.75 -4.75z" fill="rgb(119,119,119)"/><path d="M1085.7 383.3l4.75 4.75l-4.75 4.75l-4.75 -4.75z" fill="rgb(87,87,87)"/><path d="M1082.2 389.5l4.75 4.75l-4.75 4.75l-4.75 -4.75z" fill="rgb(114,114,114)"/><path d="M1075.7 395.1l4.75 4.75l-4.75 4.75l-4.75 -4.75z" fill="rgb(101,101,101)"/><path d="M1069.2 399.7l4.75 4.75l-4.75 4.75l-4.75 -4.75z" fill="rgb(65,65,65)"/><path d="M1064.1 406.0l4.75 4.75l-4.75 4.75l-4.75 -4.75z" fill="rgb(142,142,142)"/><path d="M1101.8 377.2l4.75 4.75l-4.75 4.75l-4.75 -4.75z" fill="rgb(94,94,94)"/><path d="M1096.5 383.4l4.75 4.75l-4.75 4.75l-4.75 -4.75z" fill="rgb(110,110,110)"/><path d="M1093.1 389.3l4.75 4.75l-4.75 4.75l-4.75 -4.75z" fill="rgb(109,109,109)"/><path d="M1088.6 395.6l4.75 4.75l-4.75 4.75l-4.75 -4.75z" fill="rgb(110,110,110)"/><path d="M1082.5 399.3l4.75 4.75l-4.75 4.75l-4.75 -4.75z" fill="rgb(66,66,66)"/><path d="M1074.2 404.3l4.75 4.75l-4.75 4.75l-4.75 -4.75z" fill="rgb(99,99,99)"/><path d="M1104.7 388.1l4.75 4.75l-4.75 4.75l-4.75 -4.75z" fill="rgb(131,131,131)"/><path d="M1096.3 395.2l4.75 4.75l-4.75 4.75l-4.75 -4.75z" fill="rgb(145,145,145)"/><path d="M1093.6 399.3l4.75 4.75l-4.75 4.75l-4.75 -4.75z" fill="rgb(101,101,101)"/><path d="M1088.2 404.6l4.75 4.75l-4.75 4.75l-4.75 -4.75z" fill="rgb(78,78,78)"/><path d="M1079.7 410.4l4.75 4.75l-4.75 4.75l-4.75 -4.75z" fill="rgb(143,143,143)"/><path d="M1110.6 394.1l4.75 4.75l-4.75 4.75l-4.75 -4.75z" fill="rgb(73,73,73)"/><path d="M1104.3 401.3l4.75 4.75l-4.75 4.75l-4.75 -4.75z" fill="rgb(117,117,117)"/><path d="M1099.0 404.0l4.75 4.75l-4.75 4.75l-4.75 -4.75z" fill="rgb(81,81,81)"/><path d="M1093.6 409.3l4.75 4.75l-4.75 4.75l-4.75 -4.75z" fill="rgb(145,145,145)"/><path d="M1116.4 399.7l4.75 4.75l-4.75 4.75l-4.75 -4.75z" fill="rgb(149,149,149)"/><path d="M1110.7 405.0l4.75 4.75l-4.75 4.75l-4.75 -4.75z" fill="rgb(64,64,64)"/><path d="M1102.0 412.0l4.75 4.75l-4.75 4.75l-4.75 -4.75z" fill="rgb(58,58,58)"/><path d="M1119.2 404.9l4.75 4.75l-4.75 4.75l-4.75 -4.75z" fill="rgb(91,91,91)"/><path d="M1114.9 410.9l4.75 4.75l-4.75 4.75l-4.75 -4.75z" fill="rgb(89,89,89)"/><polygon points="1042.0,449.3 1129.0,449.3 1083.6,524.8" fill="rgb(40,40,40)"/><path d="M1050.7 452.7l4.5 4.5l-4.5 4.5l-4.5 -4.5z" fill="rgb(96,96,96)"/><path d="M1068.6 446.3l4.5 4.5l-4.5 4.5l-4.5 -4.5z" fill="rgb(190,190,190)"/><path d="M1064.2 453.3l4.5 4.5l-4.5 4.5l-4.5 -4.5z" fill="rgb(190,190,190)"/><path d="M1055.5 458.3l4.5 4.5l-4.5 4.5l-4.5 -4.5z" fill="rgb(151,151,151)"/><path d="M1084.8 445.3l4.5 4.5l-4.5 4.5l-4.5 -4.5z" fill="rgb(156,156,156)"/><path d="M1077.4 450.5l4.5 4.5l-4.5 4.5l-4.5 -4.5z" fill="rgb(100,100,100)"/><path d="M1068.4 460.2l4.5 4.5l-4.5 4.5l-4.5 -4.5z" fill="rgb(123,123,123)"/><path d="M1063.7 466.4l4.5 4.5l-4.5 4.5l-4.5 -4.5z" fill="rgb(90,90,90)"/><path d="M1099.7 446.5l4.5 4.5l-4.5 4.5l-4.5 -4.5z" fill="rgb(193,193,193)"/><path d="M1089.9 453.4l4.5 4.5l-4.5 4.5l-4.5 -4.5z" fill="rgb(121,121,121)"/><path d="M1084.0 459.6l4.5 4.5l-4.5 4.5l-4.5 -4.5z" fill="rgb(174,174,174)"/><path d="M1077.0 465.9l4.5 4.5l-4.5 4.5l-4.5 -4.5z" fill="rgb(144,144,144)"/><path d="M1069.0 472.6l4.5 4.5l-4.5 4.5l-4.5 -4.5z" fill="rgb(89,89,89)"/><path d="M1062.9 480.5l4.5 4.5l-4.5 4.5l-4.5 -4.5z" fill="rgb(139,139,139)"/><path d="M1105.7 451.7l4.5 4.5l-4.5 4.5l-4.5 -4.5z" fill="rgb(94,94,94)"/><path d="M1098.0 459.9l4.5 4.5l-4.5 4.5l-4.5 -4.5z" fill="rgb(130,130,130)"/><path d="M1089.7 464.4l4.5 4.5l-4.5 4.5l-4.5 -4.5z" fill="rgb(204,204,204)"/><path d="M1083.6 472.1l4.5 4.5l-4.5 4.5l-4.5 -4.5z" fill="rgb(77,77,77)"/><path d="M1076.3 479.9l4.5 4.5l-4.5 4.5l-4.5 -4.5z" fill="rgb(133,133,133)"/><path d="M1069.8 488.5l4.5 4.5l-4.5 4.5l-4.5 -4.5z" fill="rgb(124,124,124)"/><path d="M1125.5 444.9l4.5 4.5l-4.5 4.5l-4.5 -4.5z" fill="rgb(126,126,126)"/><path d="M1119.4 453.6l4.5 4.5l-4.5 4.5l-4.5 -4.5z" fill="rgb(115,115,115)"/><path d="M1113.4 458.2l4.5 4.5l-4.5 4.5l-4.5 -4.5z" fill="rgb(124,124,124)"/><path d="M1104.5 466.8l4.5 4.5l-4.5 4.5l-4.5 -4.5z" fill="rgb(163,163,163)"/><path d="M1097.3 473.4l4.5 4.5l-4.5 4.5l-4.5 -4.5z" fill="rgb(146,146,146)"/><path d="M1091.1 479.7l4.5 4.5l-4.5 4.5l-4.5 -4.5z" fill="rgb(182,182,182)"/><path d="M1083.8 487.2l4.5 4.5l-4.5 4.5l-4.5 -4.5z" fill="rgb(189,189,189)"/><path d="M1075.9 493.0l4.5 4.5l-4.5 4.5l-4.5 -4.5z" fill="rgb(187,187,187)"/><path d="M1103.8 478.1l4.5 4.5l-4.5 4.5l-4.5 -4.5z" fill="rgb(102,102,102)"/><path d="M1098.0 487.8l4.5 4.5l-4.5 4.5l-4.5 -4.5z" fill="rgb(184,184,184)"/><path d="M1091.7 492.3l4.5 4.5l-4.5 4.5l-4.5 -4.5z" fill="rgb(97,97,97)"/><path d="M1084.4 499.2l4.5 4.5l-4.5 4.5l-4.5 -4.5z" fill="rgb(150,150,150)"/><path d="M1076.8 507.0l4.5 4.5l-4.5 4.5l-4.5 -4.5z" fill="rgb(138,138,138)"/><path d="M1082.8 515.7l4.5 4.5l-4.5 4.5l-4.5 -4.5z" fill="rgb(190,190,190)"/></g>
<g filter="url(#bl1)"><rect x="1072.4" y="449.2" width="5.2" height="5.2" fill="rgb(190,190,190)" transform="rotate(45 1075.0 451.8)"/><rect x="1126.4" y="450.2" width="5.2" height="5.2" fill="rgb(207,207,207)" transform="rotate(45 1129.0 452.8)"/><rect x="1089.4" y="466.2" width="5.2" height="5.2" fill="rgb(174,174,174)" transform="rotate(45 1092.0 468.8)"/><rect x="1110.4" y="465.2" width="5.2" height="5.2" fill="rgb(207,207,207)" transform="rotate(45 1113.0 467.8)"/><rect x="1057.4" y="477.2" width="5.2" height="5.2" fill="rgb(214,214,214)" transform="rotate(45 1060.0 479.8)"/><rect x="1066.4" y="492.2" width="5.2" height="5.2" fill="rgb(208,208,208)" transform="rotate(45 1069.0 494.8)"/><rect x="1090.4" y="505.2" width="5.2" height="5.2" fill="rgb(219,219,219)" transform="rotate(45 1093.0 507.8)"/><rect x="1080.4" y="519.2" width="5.2" height="5.2" fill="rgb(223,223,223)" transform="rotate(45 1083.0 521.8)"/><rect x="1050.4" y="453.2" width="5.2" height="5.2" fill="rgb(230,230,230)" transform="rotate(45 1053.0 455.8)"/><rect x="1102.4" y="483.2" width="5.2" height="5.2" fill="rgb(177,177,177)" transform="rotate(45 1105.0 485.8)"/><rect x="1114.4" y="412.2" width="5.2" height="5.2" fill="rgb(173,173,173)" transform="rotate(45 1117.0 414.8)"/><rect x="1102.4" y="406.2" width="5.2" height="5.2" fill="rgb(232,232,232)" transform="rotate(45 1105.0 408.8)"/><rect x="1086.4" y="358.2" width="5.2" height="5.2" fill="rgb(196,196,196)" transform="rotate(45 1089.0 360.8)"/><rect x="1094.4" y="386.2" width="5.2" height="5.2" fill="rgb(211,211,211)" transform="rotate(45 1097.0 388.8)"/></g>
<g filter="url(#bl6)"><polygon points="915.9,410.8 946.2,356.9 974.3,327.7 1048.3,327.7 1030.4,360.3 1012.4,391.7 977.6,411.9" fill="rgb(30,30,30)" stroke="rgb(30,30,30)" stroke-width="30" stroke-linejoin="round"/><polygon points="902.4,449.9 953.0,449.9 977.6,451.0 939.5,515.0 927.1,493.6" fill="rgb(30,30,30)" stroke="rgb(30,30,30)" stroke-width="22" stroke-linejoin="round"/><polygon points="974.3,535.2 982.1,519.4 992.2,502.6 1001.2,488.0 1012.4,471.2 1048.3,536.3 1009.0,536.3" fill="rgb(32,32,32)" stroke="rgb(32,32,32)" stroke-width="18" stroke-linejoin="round"/></g>
<g filter="url(#bl2)"><rect x="960.3" y="313.7" width="28" height="28" rx="6" fill="#fff" fill-opacity="0.13" transform="rotate(45 974.3 327.7)"/><rect x="998.4" y="313.7" width="28" height="28" rx="6" fill="#fff" fill-opacity="0.13" transform="rotate(45 1012.4 327.7)"/><rect x="1034.3" y="313.7" width="28" height="28" rx="6" fill="#fff" fill-opacity="0.13" transform="rotate(45 1048.3 327.7)"/><rect x="932.2" y="342.9" width="28" height="28" rx="6" fill="#fff" fill-opacity="0.13" transform="rotate(45 946.2 356.9)"/><rect x="981.6" y="346.3" width="28" height="28" rx="6" fill="#fff" fill-opacity="0.13" transform="rotate(45 995.6 360.3)"/><rect x="1016.4" y="346.3" width="28" height="28" rx="6" fill="#fff" fill-opacity="0.13" transform="rotate(45 1030.4 360.3)"/><rect x="917.6" y="371.0" width="28" height="28" rx="6" fill="#fff" fill-opacity="0.13" transform="rotate(45 931.6 385.0)"/><rect x="947.9" y="371.0" width="28" height="28" rx="6" fill="#fff" fill-opacity="0.13" transform="rotate(45 961.9 385.0)"/><rect x="998.4" y="377.7" width="28" height="28" rx="6" fill="#fff" fill-opacity="0.13" transform="rotate(45 1012.4 391.7)"/><rect x="901.9" y="396.8" width="28" height="28" rx="6" fill="#fff" fill-opacity="0.13" transform="rotate(45 915.9 410.8)"/><rect x="933.3" y="396.8" width="28" height="28" rx="6" fill="#fff" fill-opacity="0.13" transform="rotate(45 947.3 410.8)"/><rect x="963.6" y="397.9" width="28" height="28" rx="6" fill="#fff" fill-opacity="0.13" transform="rotate(45 977.6 411.9)"/><rect x="893.4" y="440.9" width="18" height="18" fill="#fff" fill-opacity="0.14" transform="rotate(45 902.4 449.9)"/><g fill="#fff" fill-opacity="0.3"><rect x="887.9" y="447.6" width="29.0" height="4.5" transform="rotate(58 902.4 449.9)"/><rect x="887.9" y="447.6" width="29.0" height="4.5" transform="rotate(122 902.4 449.9)"/></g><rect x="919.2" y="440.9" width="18" height="18" fill="#fff" fill-opacity="0.14" transform="rotate(45 928.2 449.9)"/><g fill="#fff" fill-opacity="0.3"><rect x="913.7" y="447.6" width="29.0" height="4.5" transform="rotate(58 928.2 449.9)"/><rect x="913.7" y="447.6" width="29.0" height="4.5" transform="rotate(122 928.2 449.9)"/></g><rect x="944.0" y="440.9" width="18" height="18" fill="#fff" fill-opacity="0.14" transform="rotate(45 953.0 449.9)"/><g fill="#fff" fill-opacity="0.3"><rect x="938.5" y="447.6" width="29.0" height="4.5" transform="rotate(58 953.0 449.9)"/><rect x="938.5" y="447.6" width="29.0" height="4.5" transform="rotate(122 953.0 449.9)"/></g><rect x="968.6" y="442.0" width="18" height="18" fill="#fff" fill-opacity="0.14" transform="rotate(45 977.6 451.0)"/><g fill="#fff" fill-opacity="0.3"><rect x="963.1" y="448.8" width="29.0" height="4.5" transform="rotate(58 977.6 451.0)"/><rect x="963.1" y="448.8" width="29.0" height="4.5" transform="rotate(122 977.6 451.0)"/></g><rect x="908.0" y="461.1" width="18" height="18" fill="#fff" fill-opacity="0.14" transform="rotate(45 917.0 470.1)"/><g fill="#fff" fill-opacity="0.3"><rect x="902.5" y="467.9" width="29.0" height="4.5" transform="rotate(58 917.0 470.1)"/><rect x="902.5" y="467.9" width="29.0" height="4.5" transform="rotate(122 917.0 470.1)"/></g><rect x="931.6" y="462.2" width="18" height="18" fill="#fff" fill-opacity="0.14" transform="rotate(45 940.6 471.2)"/><g fill="#fff" fill-opacity="0.3"><rect x="926.1" y="469.0" width="29.0" height="4.5" transform="rotate(58 940.6 471.2)"/><rect x="926.1" y="469.0" width="29.0" height="4.5" transform="rotate(122 940.6 471.2)"/></g><rect x="956.3" y="462.2" width="18" height="18" fill="#fff" fill-opacity="0.14" transform="rotate(45 965.3 471.2)"/><g fill="#fff" fill-opacity="0.3"><rect x="950.8" y="469.0" width="29.0" height="4.5" transform="rotate(58 965.3 471.2)"/><rect x="950.8" y="469.0" width="29.0" height="4.5" transform="rotate(122 965.3 471.2)"/></g><rect x="918.1" y="484.6" width="18" height="18" fill="#fff" fill-opacity="0.14" transform="rotate(45 927.1 493.6)"/><g fill="#fff" fill-opacity="0.3"><rect x="912.6" y="491.4" width="29.0" height="4.5" transform="rotate(58 927.1 493.6)"/><rect x="912.6" y="491.4" width="29.0" height="4.5" transform="rotate(122 927.1 493.6)"/></g><rect x="942.8" y="484.6" width="18" height="18" fill="#fff" fill-opacity="0.14" transform="rotate(45 951.8 493.6)"/><g fill="#fff" fill-opacity="0.3"><rect x="937.3" y="491.4" width="29.0" height="4.5" transform="rotate(58 951.8 493.6)"/><rect x="937.3" y="491.4" width="29.0" height="4.5" transform="rotate(122 951.8 493.6)"/></g><rect x="930.5" y="506.0" width="18" height="18" fill="#fff" fill-opacity="0.14" transform="rotate(45 939.5 515.0)"/><g fill="#fff" fill-opacity="0.3"><rect x="925.0" y="512.8" width="29.0" height="4.5" transform="rotate(58 939.5 515.0)"/><rect x="925.0" y="512.8" width="29.0" height="4.5" transform="rotate(122 939.5 515.0)"/></g><rect x="1005.9" y="464.7" width="13" height="13" fill="#fff" fill-opacity="0.14" transform="rotate(45 1012.4 471.2)"/><g fill="#fff" fill-opacity="0.3"><rect x="1001.9" y="469.5" width="21.0" height="3.5" transform="rotate(58 1012.4 471.2)"/><rect x="1001.9" y="469.5" width="21.0" height="3.5" transform="rotate(122 1012.4 471.2)"/></g><rect x="994.7" y="481.5" width="13" height="13" fill="#fff" fill-opacity="0.14" transform="rotate(45 1001.2 488.0)"/><g fill="#fff" fill-opacity="0.3"><rect x="990.7" y="486.2" width="21.0" height="3.5" transform="rotate(58 1001.2 488.0)"/><rect x="990.7" y="486.2" width="21.0" height="3.5" transform="rotate(122 1001.2 488.0)"/></g><rect x="1012.6" y="480.4" width="13" height="13" fill="#fff" fill-opacity="0.14" transform="rotate(45 1019.1 486.9)"/><g fill="#fff" fill-opacity="0.3"><rect x="1008.6" y="485.1" width="21.0" height="3.5" transform="rotate(58 1019.1 486.9)"/><rect x="1008.6" y="485.1" width="21.0" height="3.5" transform="rotate(122 1019.1 486.9)"/></g><rect x="985.7" y="496.1" width="13" height="13" fill="#fff" fill-opacity="0.14" transform="rotate(45 992.2 502.6)"/><g fill="#fff" fill-opacity="0.3"><rect x="981.7" y="500.9" width="21.0" height="3.5" transform="rotate(58 992.2 502.6)"/><rect x="981.7" y="500.9" width="21.0" height="3.5" transform="rotate(122 992.2 502.6)"/></g><rect x="1003.7" y="499.5" width="13" height="13" fill="#fff" fill-opacity="0.14" transform="rotate(45 1010.2 506.0)"/><g fill="#fff" fill-opacity="0.3"><rect x="999.7" y="504.2" width="21.0" height="3.5" transform="rotate(58 1010.2 506.0)"/><rect x="999.7" y="504.2" width="21.0" height="3.5" transform="rotate(122 1010.2 506.0)"/></g><rect x="1021.6" y="496.1" width="13" height="13" fill="#fff" fill-opacity="0.14" transform="rotate(45 1028.1 502.6)"/><g fill="#fff" fill-opacity="0.3"><rect x="1017.6" y="500.9" width="21.0" height="3.5" transform="rotate(58 1028.1 502.6)"/><rect x="1017.6" y="500.9" width="21.0" height="3.5" transform="rotate(122 1028.1 502.6)"/></g><rect x="975.6" y="512.9" width="13" height="13" fill="#fff" fill-opacity="0.14" transform="rotate(45 982.1 519.4)"/><g fill="#fff" fill-opacity="0.3"><rect x="971.6" y="517.6" width="21.0" height="3.5" transform="rotate(58 982.1 519.4)"/><rect x="971.6" y="517.6" width="21.0" height="3.5" transform="rotate(122 982.1 519.4)"/></g><rect x="994.7" y="512.9" width="13" height="13" fill="#fff" fill-opacity="0.14" transform="rotate(45 1001.2 519.4)"/><g fill="#fff" fill-opacity="0.3"><rect x="990.7" y="517.6" width="21.0" height="3.5" transform="rotate(58 1001.2 519.4)"/><rect x="990.7" y="517.6" width="21.0" height="3.5" transform="rotate(122 1001.2 519.4)"/></g><rect x="1013.8" y="512.9" width="13" height="13" fill="#fff" fill-opacity="0.14" transform="rotate(45 1020.3 519.4)"/><g fill="#fff" fill-opacity="0.3"><rect x="1009.8" y="517.6" width="21.0" height="3.5" transform="rotate(58 1020.3 519.4)"/><rect x="1009.8" y="517.6" width="21.0" height="3.5" transform="rotate(122 1020.3 519.4)"/></g><rect x="1031.7" y="512.9" width="13" height="13" fill="#fff" fill-opacity="0.14" transform="rotate(45 1038.2 519.4)"/><g fill="#fff" fill-opacity="0.3"><rect x="1027.7" y="517.6" width="21.0" height="3.5" transform="rotate(58 1038.2 519.4)"/><rect x="1027.7" y="517.6" width="21.0" height="3.5" transform="rotate(122 1038.2 519.4)"/></g><rect x="967.8" y="528.7" width="13" height="13" fill="#fff" fill-opacity="0.14" transform="rotate(45 974.3 535.2)"/><g fill="#fff" fill-opacity="0.3"><rect x="963.8" y="533.5" width="21.0" height="3.5" transform="rotate(58 974.3 535.2)"/><rect x="963.8" y="533.5" width="21.0" height="3.5" transform="rotate(122 974.3 535.2)"/></g><rect x="984.6" y="528.7" width="13" height="13" fill="#fff" fill-opacity="0.14" transform="rotate(45 991.1 535.2)"/><g fill="#fff" fill-opacity="0.3"><rect x="980.6" y="533.5" width="21.0" height="3.5" transform="rotate(58 991.1 535.2)"/><rect x="980.6" y="533.5" width="21.0" height="3.5" transform="rotate(122 991.1 535.2)"/></g><rect x="1002.5" y="529.8" width="13" height="13" fill="#fff" fill-opacity="0.14" transform="rotate(45 1009.0 536.3)"/><g fill="#fff" fill-opacity="0.3"><rect x="998.5" y="534.5" width="21.0" height="3.5" transform="rotate(58 1009.0 536.3)"/><rect x="998.5" y="534.5" width="21.0" height="3.5" transform="rotate(122 1009.0 536.3)"/></g><rect x="1021.6" y="528.7" width="13" height="13" fill="#fff" fill-opacity="0.14" transform="rotate(45 1028.1 535.2)"/><g fill="#fff" fill-opacity="0.3"><rect x="1017.6" y="533.5" width="21.0" height="3.5" transform="rotate(58 1028.1 535.2)"/><rect x="1017.6" y="533.5" width="21.0" height="3.5" transform="rotate(122 1028.1 535.2)"/></g><rect x="1041.8" y="529.8" width="13" height="13" fill="#fff" fill-opacity="0.14" transform="rotate(45 1048.3 536.3)"/><g fill="#fff" fill-opacity="0.3"><rect x="1037.8" y="534.5" width="21.0" height="3.5" transform="rotate(58 1048.3 536.3)"/><rect x="1037.8" y="534.5" width="21.0" height="3.5" transform="rotate(122 1048.3 536.3)"/></g></g>
<g filter="url(#bl1)"><rect x="966.5" y="319.9" width="15.5" height="15.5" rx="2" fill="rgb(200,200,200)" transform="rotate(45 974.3 327.7)"/><rect x="968.6" y="323.6" width="9.0" height="9.0" rx="2" fill="rgb(253,253,253)" transform="rotate(45 974.3 327.7)"/><rect x="1004.6" y="319.9" width="15.5" height="15.5" rx="2" fill="rgb(191,191,191)" transform="rotate(45 1012.4 327.7)"/><rect x="1007.8" y="323.7" width="9.0" height="9.0" rx="2" fill="rgb(245,245,245)" transform="rotate(45 1012.4 327.7)"/><rect x="1040.5" y="319.9" width="15.5" height="15.5" rx="2" fill="rgb(195,195,195)" transform="rotate(45 1048.3 327.7)"/><rect x="1043.2" y="323.2" width="9.0" height="9.0" rx="2" fill="rgb(244,244,244)" transform="rotate(45 1048.3 327.7)"/><rect x="938.4" y="349.1" width="15.5" height="15.5" rx="2" fill="rgb(199,199,199)" transform="rotate(45 946.2 356.9)"/><rect x="941.5" y="353.3" width="9.0" height="9.0" rx="2" fill="rgb(251,251,251)" transform="rotate(45 946.2 356.9)"/><rect x="987.8" y="352.5" width="15.5" height="15.5" rx="2" fill="rgb(210,210,210)" transform="rotate(45 995.6 360.3)"/><rect x="991.6" y="355.4" width="9.0" height="9.0" rx="2" fill="rgb(252,252,252)" transform="rotate(45 995.6 360.3)"/><rect x="1022.6" y="352.5" width="15.5" height="15.5" rx="2" fill="rgb(198,198,198)" transform="rotate(45 1030.4 360.3)"/><rect x="1025.6" y="356.2" width="9.0" height="9.0" rx="2" fill="rgb(238,238,238)" transform="rotate(45 1030.4 360.3)"/><rect x="923.8" y="377.2" width="15.5" height="15.5" rx="2" fill="rgb(208,208,208)" transform="rotate(45 931.6 385.0)"/><rect x="927.0" y="379.4" width="9.0" height="9.0" rx="2" fill="rgb(255,255,255)" transform="rotate(45 931.6 385.0)"/><rect x="954.1" y="377.2" width="15.5" height="15.5" rx="2" fill="rgb(203,203,203)" transform="rotate(45 961.9 385.0)"/><rect x="957.0" y="379.3" width="9.0" height="9.0" rx="2" fill="rgb(239,239,239)" transform="rotate(45 961.9 385.0)"/><rect x="1004.6" y="383.9" width="15.5" height="15.5" rx="2" fill="rgb(206,206,206)" transform="rotate(45 1012.4 391.7)"/><rect x="1007.3" y="388.1" width="9.0" height="9.0" rx="2" fill="rgb(254,254,254)" transform="rotate(45 1012.4 391.7)"/><rect x="908.1" y="403.0" width="15.5" height="15.5" rx="2" fill="rgb(191,191,191)" transform="rotate(45 915.9 410.8)"/><rect x="911.8" y="406.2" width="9.0" height="9.0" rx="2" fill="rgb(252,252,252)" transform="rotate(45 915.9 410.8)"/><rect x="939.5" y="403.0" width="15.5" height="15.5" rx="2" fill="rgb(196,196,196)" transform="rotate(45 947.3 410.8)"/><rect x="941.6" y="405.1" width="9.0" height="9.0" rx="2" fill="rgb(250,250,250)" transform="rotate(45 947.3 410.8)"/><rect x="969.8" y="404.1" width="15.5" height="15.5" rx="2" fill="rgb(197,197,197)" transform="rotate(45 977.6 411.9)"/><rect x="973.1" y="407.6" width="9.0" height="9.0" rx="2" fill="rgb(248,248,248)" transform="rotate(45 977.6 411.9)"/><rect x="897.1" y="444.6" width="10.6" height="10.6" rx="2.5" fill="rgb(143,143,143)" transform="rotate(40 902.4 449.9)"/><rect x="898.9" y="447.6" width="6.8" height="6.8" rx="2.5" fill="rgb(234,234,234)" transform="rotate(40 902.4 449.9)"/><rect x="922.9" y="444.6" width="10.6" height="10.6" rx="2.5" fill="rgb(151,151,151)" transform="rotate(40 928.2 449.9)"/><rect x="924.3" y="447.2" width="6.8" height="6.8" rx="2.5" fill="rgb(243,243,243)" transform="rotate(40 928.2 449.9)"/><rect x="947.7" y="444.6" width="10.6" height="10.6" rx="2.5" fill="rgb(155,155,155)" transform="rotate(40 953.0 449.9)"/><rect x="950.3" y="445.7" width="6.8" height="6.8" rx="2.5" fill="rgb(246,246,246)" transform="rotate(40 953.0 449.9)"/><rect x="972.3" y="445.7" width="10.6" height="10.6" rx="2.5" fill="rgb(156,156,156)" transform="rotate(40 977.6 451.0)"/><rect x="973.4" y="448.5" width="6.8" height="6.8" rx="2.5" fill="rgb(246,246,246)" transform="rotate(40 977.6 451.0)"/><rect x="911.7" y="464.8" width="10.6" height="10.6" rx="2.5" fill="rgb(166,166,166)" transform="rotate(40 917.0 470.1)"/><rect x="914.5" y="466.0" width="6.8" height="6.8" rx="2.5" fill="rgb(241,241,241)" transform="rotate(40 917.0 470.1)"/><rect x="935.3" y="465.9" width="10.6" height="10.6" rx="2.5" fill="rgb(154,154,154)" transform="rotate(40 940.6 471.2)"/><rect x="937.8" y="468.5" width="6.8" height="6.8" rx="2.5" fill="rgb(243,243,243)" transform="rotate(40 940.6 471.2)"/><rect x="960.0" y="465.9" width="10.6" height="10.6" rx="2.5" fill="rgb(163,163,163)" transform="rotate(40 965.3 471.2)"/><rect x="963.1" y="467.5" width="6.8" height="6.8" rx="2.5" fill="rgb(236,236,236)" transform="rotate(40 965.3 471.2)"/><rect x="921.8" y="488.3" width="10.6" height="10.6" rx="2.5" fill="rgb(175,175,175)" transform="rotate(40 927.1 493.6)"/><rect x="923.2" y="489.4" width="6.8" height="6.8" rx="2.5" fill="rgb(241,241,241)" transform="rotate(40 927.1 493.6)"/><rect x="946.5" y="488.3" width="10.6" height="10.6" rx="2.5" fill="rgb(140,140,140)" transform="rotate(40 951.8 493.6)"/><rect x="949.3" y="489.6" width="6.8" height="6.8" rx="2.5" fill="rgb(244,244,244)" transform="rotate(40 951.8 493.6)"/><rect x="934.2" y="509.7" width="10.6" height="10.6" rx="2.5" fill="rgb(145,145,145)" transform="rotate(40 939.5 515.0)"/><rect x="935.2" y="512.7" width="6.8" height="6.8" rx="2.5" fill="rgb(248,248,248)" transform="rotate(40 939.5 515.0)"/><rect x="1008.8" y="467.6" width="7.2" height="7.2" rx="1.5" fill="rgb(135,135,135)" transform="rotate(40 1012.4 471.2)"/><rect x="1009.2" y="469.2" width="4.2" height="4.2" rx="1.5" fill="rgb(230,230,230)" transform="rotate(40 1012.4 471.2)"/><rect x="997.6" y="484.4" width="7.2" height="7.2" rx="1.5" fill="rgb(143,143,143)" transform="rotate(40 1001.2 488.0)"/><rect x="998.3" y="487.0" width="4.2" height="4.2" rx="1.5" fill="rgb(232,232,232)" transform="rotate(40 1001.2 488.0)"/><rect x="1015.5" y="483.3" width="7.2" height="7.2" rx="1.5" fill="rgb(160,160,160)" transform="rotate(40 1019.1 486.9)"/><rect x="1016.3" y="484.9" width="4.2" height="4.2" rx="1.5" fill="rgb(215,215,215)" transform="rotate(40 1019.1 486.9)"/><rect x="988.6" y="499.0" width="7.2" height="7.2" rx="1.5" fill="rgb(123,123,123)" transform="rotate(40 992.2 502.6)"/><rect x="990.7" y="500.3" width="4.2" height="4.2" rx="1.5" fill="rgb(236,236,236)" transform="rotate(40 992.2 502.6)"/><rect x="1006.6" y="502.4" width="7.2" height="7.2" rx="1.5" fill="rgb(129,129,129)" transform="rotate(40 1010.2 506.0)"/><rect x="1008.9" y="503.2" width="4.2" height="4.2" rx="1.5" fill="rgb(223,223,223)" transform="rotate(40 1010.2 506.0)"/><rect x="1024.5" y="499.0" width="7.2" height="7.2" rx="1.5" fill="rgb(139,139,139)" transform="rotate(40 1028.1 502.6)"/><rect x="1025.6" y="499.6" width="4.2" height="4.2" rx="1.5" fill="rgb(227,227,227)" transform="rotate(40 1028.1 502.6)"/><rect x="978.5" y="515.8" width="7.2" height="7.2" rx="1.5" fill="rgb(130,130,130)" transform="rotate(40 982.1 519.4)"/><rect x="979.8" y="516.3" width="4.2" height="4.2" rx="1.5" fill="rgb(229,229,229)" transform="rotate(40 982.1 519.4)"/><rect x="997.6" y="515.8" width="7.2" height="7.2" rx="1.5" fill="rgb(131,131,131)" transform="rotate(40 1001.2 519.4)"/><rect x="998.1" y="516.8" width="4.2" height="4.2" rx="1.5" fill="rgb(217,217,217)" transform="rotate(40 1001.2 519.4)"/><rect x="1016.7" y="515.8" width="7.2" height="7.2" rx="1.5" fill="rgb(144,144,144)" transform="rotate(40 1020.3 519.4)"/><rect x="1017.3" y="516.9" width="4.2" height="4.2" rx="1.5" fill="rgb(231,231,231)" transform="rotate(40 1020.3 519.4)"/><rect x="1034.6" y="515.8" width="7.2" height="7.2" rx="1.5" fill="rgb(149,149,149)" transform="rotate(40 1038.2 519.4)"/><rect x="1035.0" y="518.1" width="4.2" height="4.2" rx="1.5" fill="rgb(229,229,229)" transform="rotate(40 1038.2 519.4)"/><rect x="970.7" y="531.6" width="7.2" height="7.2" rx="1.5" fill="rgb(159,159,159)" transform="rotate(40 974.3 535.2)"/><rect x="972.6" y="532.4" width="4.2" height="4.2" rx="1.5" fill="rgb(221,221,221)" transform="rotate(40 974.3 535.2)"/><rect x="987.5" y="531.6" width="7.2" height="7.2" rx="1.5" fill="rgb(158,158,158)" transform="rotate(40 991.1 535.2)"/><rect x="988.8" y="533.4" width="4.2" height="4.2" rx="1.5" fill="rgb(235,235,235)" transform="rotate(40 991.1 535.2)"/><rect x="1005.4" y="532.7" width="7.2" height="7.2" rx="1.5" fill="rgb(132,132,132)" transform="rotate(40 1009.0 536.3)"/><rect x="1006.2" y="534.3" width="4.2" height="4.2" rx="1.5" fill="rgb(237,237,237)" transform="rotate(40 1009.0 536.3)"/><rect x="1024.5" y="531.6" width="7.2" height="7.2" rx="1.5" fill="rgb(122,122,122)" transform="rotate(40 1028.1 535.2)"/><rect x="1025.1" y="533.7" width="4.2" height="4.2" rx="1.5" fill="rgb(228,228,228)" transform="rotate(40 1028.1 535.2)"/><rect x="1044.7" y="532.7" width="7.2" height="7.2" rx="1.5" fill="rgb(122,122,122)" transform="rotate(40 1048.3 536.3)"/><rect x="1047.0" y="534.5" width="4.2" height="4.2" rx="1.5" fill="rgb(238,238,238)" transform="rotate(40 1048.3 536.3)"/></g>
<line x1="882" y1="451" x2="1141.2" y2="451" stroke="#bbb" stroke-width="0.9" stroke-opacity="0.8"/>
<line x1="882" y1="451" x2="1141.2" y2="451" stroke="#000" stroke-opacity="0.55" stroke-width="4.2" stroke-dasharray="9.9 9.95" stroke-dashoffset="4.75"/>
<line x1="882" y1="451" x2="1141.2" y2="451" stroke="#f0141c" stroke-width="2.3" stroke-dasharray="9.9 9.95" stroke-dashoffset="4.75"/>
<text x="890.4" y="315.8" class="im" font-size="21px">TOF</text>
</g>
<line x1="379.5" y1="17.6" x2="379.5" y2="511.5" stroke="#cbcbcb" stroke-width="1"/>
<line x1="491.5" y1="17.6" x2="491.5" y2="511.5" stroke="#cbcbcb" stroke-width="1"/>
<line x1="604.5" y1="17.6" x2="604.5" y2="511.5" stroke="#cbcbcb" stroke-width="1"/>
<line x1="716.5" y1="17.6" x2="716.5" y2="511.5" stroke="#cbcbcb" stroke-width="1"/>
<line x1="829.5" y1="17.6" x2="829.5" y2="511.5" stroke="#cbcbcb" stroke-width="1"/>
<line x1="364.1" y1="490.5" x2="850.2" y2="490.5" stroke="#cbcbcb" stroke-width="1"/>
<line x1="364.1" y1="425.5" x2="850.2" y2="425.5" stroke="#cbcbcb" stroke-width="1"/>
<line x1="364.1" y1="359.5" x2="850.2" y2="359.5" stroke="#cbcbcb" stroke-width="1"/>
<line x1="364.1" y1="294.5" x2="850.2" y2="294.5" stroke="#cbcbcb" stroke-width="1"/>
<line x1="364.1" y1="229.5" x2="850.2" y2="229.5" stroke="#cbcbcb" stroke-width="1"/>
<line x1="364.1" y1="163.5" x2="850.2" y2="163.5" stroke="#cbcbcb" stroke-width="1"/>
<line x1="364.1" y1="98.5" x2="850.2" y2="98.5" stroke="#cbcbcb" stroke-width="1"/>
<line x1="364.1" y1="32.5" x2="850.2" y2="32.5" stroke="#cbcbcb" stroke-width="1"/>
<text x="360.9" y="498.8" text-anchor="end" class="tk">0</text>
<text x="360.9" y="433.4" text-anchor="end" class="tk">10</text>
<text x="360.9" y="368" text-anchor="end" class="tk">20</text>
<text x="360.9" y="302.6" text-anchor="end" class="tk">30</text>
<text x="360.9" y="237.2" text-anchor="end" class="tk">40</text>
<text x="360.9" y="171.8" text-anchor="end" class="tk">50</text>
<text x="360.9" y="106.4" text-anchor="end" class="tk">60</text>
<text x="360.9" y="41" text-anchor="end" class="tk">70</text>
<text x="379.25" y="532.8" text-anchor="middle" class="tk">0</text>
<text x="491.75" y="532.8" text-anchor="middle" class="tk">20</text>
<text x="604.25" y="532.8" text-anchor="middle" class="tk">40</text>
<text x="716.75" y="532.8" text-anchor="middle" class="tk">60</text>
<text x="829.25" y="532.8" text-anchor="middle" class="tk">80</text>
<polyline points="384.59,489.68 390.22,489.68 395.84,484.19 401.47,484.19 407.09,479.02 412.72,448.74 418.34,393.15 423.97,232.27 429.59,169.49 435.22,240.77 440.84,393.15 446.47,452.67 452.09,455.28 457.72,384 463.34,135.48 468.97,119.78 474.59,219.19 480.22,398.39 485.84,450.71 491.47,469.02 497.09,450.71 502.72,328.41 508.34,85.77 513.97,211.34 519.59,398.39 525.22,467.71 530.84,486.87 536.47,482.29 542.09,461.17 547.72,423.24 553.34,239.46 558.97,140.71 564.59,431.74 570.22,485.37 575.84,490.6 581.47,490.6 587.09,490.6 592.72,488.31 598.34,474.9 603.97,486.28 609.59,470.98 615.22,472.94 620.84,484.71 626.47,488.83 632.09,490.6 637.72,490.6 643.34,490.6 648.97,490.6 654.59,490.6 660.22,406.23 665.84,413.43 671.47,422.58 677.09,459.21 682.72,415.39 688.34,370.92 693.97,240.77 699.59,451.36 705.22,449.4 710.84,470.98 716.47,421.28 722.09,385.63 727.72,383.34 733.34,394.46 738.97,384.65 744.59,382.69 750.22,426.9 755.84,384 761.47,384.65 767.09,324.48 772.72,314.02 778.34,415.39 783.97,459.21 789.59,413.43 795.22,262.35 800.84,442.2 806.47,486.94 812.09,490.6 817.72,490.6 823.34,490.6 828.97,490.6" fill="none" stroke="#000" stroke-width="1.6" stroke-linejoin="round"/>
<rect x="380.99" y="486.08" width="7.2" height="7.2" fill="#000"/>
<rect x="386.62" y="486.08" width="7.2" height="7.2" fill="#000"/>
<rect x="392.24" y="480.59" width="7.2" height="7.2" fill="#000"/>
<rect x="397.87" y="480.59" width="7.2" height="7.2" fill="#000"/>
<rect x="403.49" y="475.42" width="7.2" height="7.2" fill="#000"/>
<rect x="409.12" y="445.14" width="7.2" height="7.2" fill="#000"/>
<rect x="414.74" y="389.55" width="7.2" height="7.2" fill="#000"/>
<rect x="420.37" y="228.67" width="7.2" height="7.2" fill="#000"/>
<rect x="425.99" y="165.89" width="7.2" height="7.2" fill="#000"/>
<rect x="431.62" y="237.17" width="7.2" height="7.2" fill="#000"/>
<rect x="437.24" y="389.55" width="7.2" height="7.2" fill="#000"/>
<rect x="442.87" y="449.07" width="7.2" height="7.2" fill="#000"/>
<rect x="448.49" y="451.68" width="7.2" height="7.2" fill="#000"/>
<rect x="454.12" y="380.4" width="7.2" height="7.2" fill="#000"/>
<rect x="459.74" y="131.88" width="7.2" height="7.2" fill="#000"/>
<rect x="465.37" y="116.18" width="7.2" height="7.2" fill="#000"/>
<rect x="470.99" y="215.59" width="7.2" height="7.2" fill="#000"/>
<rect x="476.62" y="394.79" width="7.2" height="7.2" fill="#000"/>
<rect x="482.24" y="447.11" width="7.2" height="7.2" fill="#000"/>
<rect x="487.87" y="465.42" width="7.2" height="7.2" fill="#000"/>
<rect x="493.49" y="447.11" width="7.2" height="7.2" fill="#000"/>
<rect x="499.12" y="324.81" width="7.2" height="7.2" fill="#000"/>
<rect x="504.74" y="82.17" width="7.2" height="7.2" fill="#000"/>
<rect x="510.37" y="207.74" width="7.2" height="7.2" fill="#000"/>
<rect x="515.99" y="394.79" width="7.2" height="7.2" fill="#000"/>
<rect x="521.62" y="464.11" width="7.2" height="7.2" fill="#000"/>
<rect x="527.24" y="483.27" width="7.2" height="7.2" fill="#000"/>
<rect x="532.87" y="478.69" width="7.2" height="7.2" fill="#000"/>
<rect x="538.49" y="457.57" width="7.2" height="7.2" fill="#000"/>
<rect x="544.12" y="419.64" width="7.2" height="7.2" fill="#000"/>
<rect x="549.74" y="235.86" width="7.2" height="7.2" fill="#000"/>
<rect x="555.37" y="137.11" width="7.2" height="7.2" fill="#000"/>
<rect x="560.99" y="428.14" width="7.2" height="7.2" fill="#000"/>
<rect x="566.62" y="481.77" width="7.2" height="7.2" fill="#000"/>
<rect x="572.24" y="487" width="7.2" height="7.2" fill="#000"/>
<rect x="577.87" y="487" width="7.2" height="7.2" fill="#000"/>
<rect x="583.49" y="487" width="7.2" height="7.2" fill="#000"/>
<rect x="589.12" y="484.71" width="7.2" height="7.2" fill="#000"/>
<rect x="594.74" y="471.3" width="7.2" height="7.2" fill="#000"/>
<rect x="600.37" y="482.68" width="7.2" height="7.2" fill="#000"/>
<rect x="605.99" y="467.38" width="7.2" height="7.2" fill="#000"/>
<rect x="611.62" y="469.34" width="7.2" height="7.2" fill="#000"/>
<rect x="617.24" y="481.11" width="7.2" height="7.2" fill="#000"/>
<rect x="622.87" y="485.23" width="7.2" height="7.2" fill="#000"/>
<rect x="628.49" y="487" width="7.2" height="7.2" fill="#000"/>
<rect x="634.12" y="487" width="7.2" height="7.2" fill="#000"/>
<rect x="639.74" y="487" width="7.2" height="7.2" fill="#000"/>
<rect x="645.37" y="487" width="7.2" height="7.2" fill="#000"/>
<rect x="650.99" y="487" width="7.2" height="7.2" fill="#000"/>
<rect x="656.62" y="402.63" width="7.2" height="7.2" fill="#000"/>
<rect x="662.24" y="409.83" width="7.2" height="7.2" fill="#000"/>
<rect x="667.87" y="418.98" width="7.2" height="7.2" fill="#000"/>
<rect x="673.49" y="455.61" width="7.2" height="7.2" fill="#000"/>
<rect x="679.12" y="411.79" width="7.2" height="7.2" fill="#000"/>
<rect x="684.74" y="367.32" width="7.2" height="7.2" fill="#000"/>
<rect x="690.37" y="237.17" width="7.2" height="7.2" fill="#000"/>
<rect x="695.99" y="447.76" width="7.2" height="7.2" fill="#000"/>
<rect x="701.62" y="445.8" width="7.2" height="7.2" fill="#000"/>
<rect x="707.24" y="467.38" width="7.2" height="7.2" fill="#000"/>
<rect x="712.87" y="417.68" width="7.2" height="7.2" fill="#000"/>
<rect x="718.49" y="382.03" width="7.2" height="7.2" fill="#000"/>
<rect x="724.12" y="379.74" width="7.2" height="7.2" fill="#000"/>
<rect x="729.74" y="390.86" width="7.2" height="7.2" fill="#000"/>
<rect x="735.37" y="381.05" width="7.2" height="7.2" fill="#000"/>
<rect x="740.99" y="379.09" width="7.2" height="7.2" fill="#000"/>
<rect x="746.62" y="423.3" width="7.2" height="7.2" fill="#000"/>
<rect x="752.24" y="380.4" width="7.2" height="7.2" fill="#000"/>
<rect x="757.87" y="381.05" width="7.2" height="7.2" fill="#000"/>
<rect x="763.49" y="320.88" width="7.2" height="7.2" fill="#000"/>
<rect x="769.12" y="310.42" width="7.2" height="7.2" fill="#000"/>
<rect x="774.74" y="411.79" width="7.2" height="7.2" fill="#000"/>
<rect x="780.37" y="455.61" width="7.2" height="7.2" fill="#000"/>
<rect x="785.99" y="409.83" width="7.2" height="7.2" fill="#000"/>
<rect x="791.62" y="258.75" width="7.2" height="7.2" fill="#000"/>
<rect x="797.24" y="438.6" width="7.2" height="7.2" fill="#000"/>
<rect x="802.87" y="483.34" width="7.2" height="7.2" fill="#000"/>
<rect x="808.49" y="487" width="7.2" height="7.2" fill="#000"/>
<rect x="814.12" y="487" width="7.2" height="7.2" fill="#000"/>
<rect x="819.74" y="487" width="7.2" height="7.2" fill="#000"/>
<rect x="825.37" y="487" width="7.2" height="7.2" fill="#000"/>
<polyline points="384.59,488.31 390.22,488.64 395.84,489.29 401.47,489.29 407.09,483.67 412.72,445.47 418.34,317.29 423.97,223.77 429.59,66.81 435.22,41.3 440.84,336.91 446.47,441.55 452.09,467.06 457.72,397.08 463.34,104.74 468.97,112.92 474.59,284.59 480.22,380.07 485.84,418.01 491.47,474.25 497.09,442.2 502.72,309.44 508.34,84.66 513.97,61.58 519.59,338.22 525.22,449.4 530.84,476.21 536.47,470.98 542.09,446.78 547.72,421.93 553.34,179.3 558.97,38.69 564.59,397.08 570.22,484.19 575.84,489.95 581.47,489.95 587.09,489.95 592.72,484.71 598.34,473.6 603.97,485.76 609.59,453.32 615.22,459.21 620.84,471.63 626.47,479.02 632.09,486.68 637.72,489.95 643.34,489.95 648.97,489.95 654.59,489.95 660.22,336.58 665.84,333.84 671.47,431.09 677.09,461.82 682.72,406.89 688.34,349.99 693.97,210.69 699.59,433.05 705.22,440.24 710.84,448.74 716.47,382.69 722.09,285.57 727.72,393.48 733.34,396.42 738.97,342.8 744.59,275.43 750.22,418.66 755.84,393.48 761.47,409.5 767.09,318.6 772.72,248.62 778.34,355.88 783.97,451.36 789.59,366.99 795.22,58.96 800.84,445.47 806.47,486.02 812.09,489.95 817.72,489.95 823.34,489.95 828.97,489.95" fill="none" stroke="#e41a1c" stroke-width="1.6" stroke-linejoin="round"/>
<path d="M380.79,484.51h7.6l-3.8,7.6z" fill="#e41a1c"/>
<path d="M386.42,484.84h7.6l-3.8,7.6z" fill="#e41a1c"/>
<path d="M392.04,485.49h7.6l-3.8,7.6z" fill="#e41a1c"/>
<path d="M397.67,485.49h7.6l-3.8,7.6z" fill="#e41a1c"/>
<path d="M403.29,479.87h7.6l-3.8,7.6z" fill="#e41a1c"/>
<path d="M408.92,441.67h7.6l-3.8,7.6z" fill="#e41a1c"/>
<path d="M414.54,313.49h7.6l-3.8,7.6z" fill="#e41a1c"/>
<path d="M420.17,219.97h7.6l-3.8,7.6z" fill="#e41a1c"/>
<path d="M425.79,63.01h7.6l-3.8,7.6z" fill="#e41a1c"/>
<path d="M431.42,37.5h7.6l-3.8,7.6z" fill="#e41a1c"/>
<path d="M437.04,333.11h7.6l-3.8,7.6z" fill="#e41a1c"/>
<path d="M442.67,437.75h7.6l-3.8,7.6z" fill="#e41a1c"/>
<path d="M448.29,463.26h7.6l-3.8,7.6z" fill="#e41a1c"/>
<path d="M453.92,393.28h7.6l-3.8,7.6z" fill="#e41a1c"/>
<path d="M459.54,100.94h7.6l-3.8,7.6z" fill="#e41a1c"/>
<path d="M465.17,109.12h7.6l-3.8,7.6z" fill="#e41a1c"/>
<path d="M470.79,280.79h7.6l-3.8,7.6z" fill="#e41a1c"/>
<path d="M476.42,376.27h7.6l-3.8,7.6z" fill="#e41a1c"/>
<path d="M482.04,414.21h7.6l-3.8,7.6z" fill="#e41a1c"/>
<path d="M487.67,470.45h7.6l-3.8,7.6z" fill="#e41a1c"/>
<path d="M493.29,438.4h7.6l-3.8,7.6z" fill="#e41a1c"/>
<path d="M498.92,305.64h7.6l-3.8,7.6z" fill="#e41a1c"/>
<path d="M504.54,80.86h7.6l-3.8,7.6z" fill="#e41a1c"/>
<path d="M510.17,57.78h7.6l-3.8,7.6z" fill="#e41a1c"/>
<path d="M515.79,334.42h7.6l-3.8,7.6z" fill="#e41a1c"/>
<path d="M521.42,445.6h7.6l-3.8,7.6z" fill="#e41a1c"/>
<path d="M527.04,472.41h7.6l-3.8,7.6z" fill="#e41a1c"/>
<path d="M532.67,467.18h7.6l-3.8,7.6z" fill="#e41a1c"/>
<path d="M538.29,442.98h7.6l-3.8,7.6z" fill="#e41a1c"/>
<path d="M543.92,418.13h7.6l-3.8,7.6z" fill="#e41a1c"/>
<path d="M549.54,175.5h7.6l-3.8,7.6z" fill="#e41a1c"/>
<path d="M555.17,34.89h7.6l-3.8,7.6z" fill="#e41a1c"/>
<path d="M560.79,393.28h7.6l-3.8,7.6z" fill="#e41a1c"/>
<path d="M566.42,480.39h7.6l-3.8,7.6z" fill="#e41a1c"/>
<path d="M572.04,486.15h7.6l-3.8,7.6z" fill="#e41a1c"/>
<path d="M577.67,486.15h7.6l-3.8,7.6z" fill="#e41a1c"/>
<path d="M583.29,486.15h7.6l-3.8,7.6z" fill="#e41a1c"/>
<path d="M588.92,480.91h7.6l-3.8,7.6z" fill="#e41a1c"/>
<path d="M594.54,469.8h7.6l-3.8,7.6z" fill="#e41a1c"/>
<path d="M600.17,481.96h7.6l-3.8,7.6z" fill="#e41a1c"/>
<path d="M605.79,449.52h7.6l-3.8,7.6z" fill="#e41a1c"/>
<path d="M611.42,455.41h7.6l-3.8,7.6z" fill="#e41a1c"/>
<path d="M617.04,467.83h7.6l-3.8,7.6z" fill="#e41a1c"/>
<path d="M622.67,475.22h7.6l-3.8,7.6z" fill="#e41a1c"/>
<path d="M628.29,482.88h7.6l-3.8,7.6z" fill="#e41a1c"/>
<path d="M633.92,486.15h7.6l-3.8,7.6z" fill="#e41a1c"/>
<path d="M639.54,486.15h7.6l-3.8,7.6z" fill="#e41a1c"/>
<path d="M645.17,486.15h7.6l-3.8,7.6z" fill="#e41a1c"/>
<path d="M650.79,486.15h7.6l-3.8,7.6z" fill="#e41a1c"/>
<path d="M656.42,332.78h7.6l-3.8,7.6z" fill="#e41a1c"/>
<path d="M662.04,330.04h7.6l-3.8,7.6z" fill="#e41a1c"/>
<path d="M667.67,427.29h7.6l-3.8,7.6z" fill="#e41a1c"/>
<path d="M673.29,458.02h7.6l-3.8,7.6z" fill="#e41a1c"/>
<path d="M678.92,403.09h7.6l-3.8,7.6z" fill="#e41a1c"/>
<path d="M684.54,346.19h7.6l-3.8,7.6z" fill="#e41a1c"/>
<path d="M690.17,206.89h7.6l-3.8,7.6z" fill="#e41a1c"/>
<path d="M695.79,429.25h7.6l-3.8,7.6z" fill="#e41a1c"/>
<path d="M701.42,436.44h7.6l-3.8,7.6z" fill="#e41a1c"/>
<path d="M707.04,444.94h7.6l-3.8,7.6z" fill="#e41a1c"/>
<path d="M712.67,378.89h7.6l-3.8,7.6z" fill="#e41a1c"/>
<path d="M718.29,281.77h7.6l-3.8,7.6z" fill="#e41a1c"/>
<path d="M723.92,389.68h7.6l-3.8,7.6z" fill="#e41a1c"/>
<path d="M729.54,392.62h7.6l-3.8,7.6z" fill="#e41a1c"/>
<path d="M735.17,339h7.6l-3.8,7.6z" fill="#e41a1c"/>
<path d="M740.79,271.63h7.6l-3.8,7.6z" fill="#e41a1c"/>
<path d="M746.42,414.86h7.6l-3.8,7.6z" fill="#e41a1c"/>
<path d="M752.04,389.68h7.6l-3.8,7.6z" fill="#e41a1c"/>
<path d="M757.67,405.7h7.6l-3.8,7.6z" fill="#e41a1c"/>
<path d="M763.29,314.8h7.6l-3.8,7.6z" fill="#e41a1c"/>
<path d="M768.92,244.82h7.6l-3.8,7.6z" fill="#e41a1c"/>
<path d="M774.54,352.08h7.6l-3.8,7.6z" fill="#e41a1c"/>
<path d="M780.17,447.56h7.6l-3.8,7.6z" fill="#e41a1c"/>
<path d="M785.79,363.19h7.6l-3.8,7.6z" fill="#e41a1c"/>
<path d="M791.42,55.16h7.6l-3.8,7.6z" fill="#e41a1c"/>
<path d="M797.04,441.67h7.6l-3.8,7.6z" fill="#e41a1c"/>
<path d="M802.67,482.22h7.6l-3.8,7.6z" fill="#e41a1c"/>
<path d="M808.29,486.15h7.6l-3.8,7.6z" fill="#e41a1c"/>
<path d="M813.92,486.15h7.6l-3.8,7.6z" fill="#e41a1c"/>
<path d="M819.54,486.15h7.6l-3.8,7.6z" fill="#e41a1c"/>
<path d="M825.17,486.15h7.6l-3.8,7.6z" fill="#e41a1c"/>
<rect x="703.3" y="25.6" width="139.2" height="56.8" rx="2.5" fill="#fff" fill-opacity="0.8" stroke="#c8c8c8" stroke-width="1"/>
<path d="M842.5,28.1V79.9" fill="none" stroke="#707070" stroke-width="1.1"/>
<path d="M842.5,79.9q0,2.5 -2.5,2.5H705.8" fill="none" stroke="#4a4a4a" stroke-width="1.1"/>
<line x1="710.3" y1="39.8" x2="745.3" y2="39.8" stroke="#000" stroke-width="1.6"/>
<rect x="724.3" y="36.2" width="7.2" height="7.2" fill="#000"/>
<line x1="710.3" y1="65.8" x2="745.3" y2="65.8" stroke="#e41a1c" stroke-width="1.6"/>
<path d="M724.1,62h7.6l-3.8,7.6z" fill="#e41a1c"/>
<text x="760.3" y="46.2" class="lg">NonTOF</text>
<text x="760.3" y="72.1" class="lg">TOF</text>
<text x="607.15" y="557.2" text-anchor="middle" class="al">Position [mm]</text>
<text transform="translate(323.5,264.55) rotate(-90)" text-anchor="middle" class="al">Activity concentration [u.a.]</text>
<line x1="1248.3" y1="17.3" x2="1248.3" y2="511.5" stroke="#cfcfcf" stroke-width="1.1"/>
<line x1="1360.88" y1="17.3" x2="1360.88" y2="511.5" stroke="#cfcfcf" stroke-width="1.1"/>
<line x1="1473.46" y1="17.3" x2="1473.46" y2="511.5" stroke="#cfcfcf" stroke-width="1.1"/>
<line x1="1586.04" y1="17.3" x2="1586.04" y2="511.5" stroke="#cfcfcf" stroke-width="1.1"/>
<line x1="1698.62" y1="17.3" x2="1698.62" y2="511.5" stroke="#cfcfcf" stroke-width="1.1"/>
<line x1="1233.3" y1="490.5" x2="1719.5" y2="490.5" stroke="#cfcfcf" stroke-width="1.1"/>
<line x1="1233.3" y1="422.52" x2="1719.5" y2="422.52" stroke="#cfcfcf" stroke-width="1.1"/>
<line x1="1233.3" y1="354.54" x2="1719.5" y2="354.54" stroke="#cfcfcf" stroke-width="1.1"/>
<line x1="1233.3" y1="286.56" x2="1719.5" y2="286.56" stroke="#cfcfcf" stroke-width="1.1"/>
<line x1="1233.3" y1="218.58" x2="1719.5" y2="218.58" stroke="#cfcfcf" stroke-width="1.1"/>
<line x1="1233.3" y1="150.6" x2="1719.5" y2="150.6" stroke="#cfcfcf" stroke-width="1.1"/>
<line x1="1233.3" y1="82.62" x2="1719.5" y2="82.62" stroke="#cfcfcf" stroke-width="1.1"/>
<text x="1230.1" y="498.7" text-anchor="end" class="tk">0</text>
<text x="1230.1" y="430.72" text-anchor="end" class="tk">10</text>
<text x="1230.1" y="362.74" text-anchor="end" class="tk">20</text>
<text x="1230.1" y="294.76" text-anchor="end" class="tk">30</text>
<text x="1230.1" y="226.78" text-anchor="end" class="tk">40</text>
<text x="1230.1" y="158.8" text-anchor="end" class="tk">50</text>
<text x="1230.1" y="90.82" text-anchor="end" class="tk">60</text>
<text x="1248.3" y="532.8" text-anchor="middle" class="tk">0</text>
<text x="1360.88" y="532.8" text-anchor="middle" class="tk">20</text>
<text x="1473.46" y="532.8" text-anchor="middle" class="tk">40</text>
<text x="1586.04" y="532.8" text-anchor="middle" class="tk">60</text>
<text x="1698.62" y="532.8" text-anchor="middle" class="tk">80</text>
<polyline points="1253.65,484.65 1259.28,476.43 1264.91,475.34 1270.53,462.63 1276.16,413 1281.79,214.5 1287.42,171.67 1293.05,336.87 1298.68,355.22 1304.31,423.2 1309.94,426.6 1315.57,438.84 1321.2,299.82 1326.82,78.54 1332.45,130.89 1338.08,262.77 1343.71,436.8 1349.34,460.59 1354.97,364.74 1360.6,272.28 1366.23,190.71 1371.86,177.11 1377.49,332.79 1383.11,404.17 1388.74,469.43 1394.37,431.36 1400,406.88 1405.63,261.07 1411.26,173.03 1416.89,132.25 1422.52,454.47 1428.15,466.03 1433.78,484.65 1439.4,474.86 1445.03,472.15 1450.66,473.5 1456.29,479.9 1461.92,479.9 1467.55,460.59 1473.18,451.07 1478.81,440.87 1484.44,453.79 1490.07,469.43 1495.69,478.94 1501.32,485.27 1506.95,488.8 1512.58,488.19 1518.21,487.37 1523.84,481.93 1529.47,456.51 1535.1,370.86 1540.73,451.75 1546.36,438.84 1551.98,417.76 1557.61,267.87 1563.24,369.5 1568.87,436.8 1574.5,467.05 1580.13,412.32 1585.76,358.62 1591.39,376.29 1597.02,460.59 1602.65,454.47 1608.27,255.29 1613.9,326.67 1619.53,380.37 1625.16,428.64 1630.79,446.31 1636.42,366.1 1642.05,406.88 1647.68,459.91 1653.31,461.95 1658.94,415.04 1664.56,404.17 1670.19,169.63 1675.82,478.26 1681.45,489.82 1687.08,489.82 1692.71,489.82 1698.34,489.82" fill="none" stroke="#000" stroke-width="1.6" stroke-linejoin="round"/>
<rect x="1250.05" y="481.05" width="7.2" height="7.2" fill="#000"/>
<rect x="1255.68" y="472.83" width="7.2" height="7.2" fill="#000"/>
<rect x="1261.31" y="471.74" width="7.2" height="7.2" fill="#000"/>
<rect x="1266.93" y="459.03" width="7.2" height="7.2" fill="#000"/>
<rect x="1272.56" y="409.4" width="7.2" height="7.2" fill="#000"/>
<rect x="1278.19" y="210.9" width="7.2" height="7.2" fill="#000"/>
<rect x="1283.82" y="168.07" width="7.2" height="7.2" fill="#000"/>
<rect x="1289.45" y="333.27" width="7.2" height="7.2" fill="#000"/>
<rect x="1295.08" y="351.62" width="7.2" height="7.2" fill="#000"/>
<rect x="1300.71" y="419.6" width="7.2" height="7.2" fill="#000"/>
<rect x="1306.34" y="423" width="7.2" height="7.2" fill="#000"/>
<rect x="1311.97" y="435.24" width="7.2" height="7.2" fill="#000"/>
<rect x="1317.6" y="296.22" width="7.2" height="7.2" fill="#000"/>
<rect x="1323.22" y="74.94" width="7.2" height="7.2" fill="#000"/>
<rect x="1328.85" y="127.29" width="7.2" height="7.2" fill="#000"/>
<rect x="1334.48" y="259.17" width="7.2" height="7.2" fill="#000"/>
<rect x="1340.11" y="433.2" width="7.2" height="7.2" fill="#000"/>
<rect x="1345.74" y="456.99" width="7.2" height="7.2" fill="#000"/>
<rect x="1351.37" y="361.14" width="7.2" height="7.2" fill="#000"/>
<rect x="1357" y="268.68" width="7.2" height="7.2" fill="#000"/>
<rect x="1362.63" y="187.11" width="7.2" height="7.2" fill="#000"/>
<rect x="1368.26" y="173.51" width="7.2" height="7.2" fill="#000"/>
<rect x="1373.89" y="329.19" width="7.2" height="7.2" fill="#000"/>
<rect x="1379.51" y="400.57" width="7.2" height="7.2" fill="#000"/>
<rect x="1385.14" y="465.83" width="7.2" height="7.2" fill="#000"/>
<rect x="1390.77" y="427.76" width="7.2" height="7.2" fill="#000"/>
<rect x="1396.4" y="403.28" width="7.2" height="7.2" fill="#000"/>
<rect x="1402.03" y="257.47" width="7.2" height="7.2" fill="#000"/>
<rect x="1407.66" y="169.43" width="7.2" height="7.2" fill="#000"/>
<rect x="1413.29" y="128.65" width="7.2" height="7.2" fill="#000"/>
<rect x="1418.92" y="450.87" width="7.2" height="7.2" fill="#000"/>
<rect x="1424.55" y="462.43" width="7.2" height="7.2" fill="#000"/>
<rect x="1430.18" y="481.05" width="7.2" height="7.2" fill="#000"/>
<rect x="1435.8" y="471.26" width="7.2" height="7.2" fill="#000"/>
<rect x="1441.43" y="468.55" width="7.2" height="7.2" fill="#000"/>
<rect x="1447.06" y="469.9" width="7.2" height="7.2" fill="#000"/>
<rect x="1452.69" y="476.3" width="7.2" height="7.2" fill="#000"/>
<rect x="1458.32" y="476.3" width="7.2" height="7.2" fill="#000"/>
<rect x="1463.95" y="456.99" width="7.2" height="7.2" fill="#000"/>
<rect x="1469.58" y="447.47" width="7.2" height="7.2" fill="#000"/>
<rect x="1475.21" y="437.27" width="7.2" height="7.2" fill="#000"/>
<rect x="1480.84" y="450.19" width="7.2" height="7.2" fill="#000"/>
<rect x="1486.47" y="465.83" width="7.2" height="7.2" fill="#000"/>
<rect x="1492.09" y="475.34" width="7.2" height="7.2" fill="#000"/>
<rect x="1497.72" y="481.67" width="7.2" height="7.2" fill="#000"/>
<rect x="1503.35" y="485.2" width="7.2" height="7.2" fill="#000"/>
<rect x="1508.98" y="484.59" width="7.2" height="7.2" fill="#000"/>
<rect x="1514.61" y="483.77" width="7.2" height="7.2" fill="#000"/>
<rect x="1520.24" y="478.33" width="7.2" height="7.2" fill="#000"/>
<rect x="1525.87" y="452.91" width="7.2" height="7.2" fill="#000"/>
<rect x="1531.5" y="367.26" width="7.2" height="7.2" fill="#000"/>
<rect x="1537.13" y="448.15" width="7.2" height="7.2" fill="#000"/>
<rect x="1542.76" y="435.24" width="7.2" height="7.2" fill="#000"/>
<rect x="1548.38" y="414.16" width="7.2" height="7.2" fill="#000"/>
<rect x="1554.01" y="264.27" width="7.2" height="7.2" fill="#000"/>
<rect x="1559.64" y="365.9" width="7.2" height="7.2" fill="#000"/>
<rect x="1565.27" y="433.2" width="7.2" height="7.2" fill="#000"/>
<rect x="1570.9" y="463.45" width="7.2" height="7.2" fill="#000"/>
<rect x="1576.53" y="408.72" width="7.2" height="7.2" fill="#000"/>
<rect x="1582.16" y="355.02" width="7.2" height="7.2" fill="#000"/>
<rect x="1587.79" y="372.69" width="7.2" height="7.2" fill="#000"/>
<rect x="1593.42" y="456.99" width="7.2" height="7.2" fill="#000"/>
<rect x="1599.05" y="450.87" width="7.2" height="7.2" fill="#000"/>
<rect x="1604.67" y="251.69" width="7.2" height="7.2" fill="#000"/>
<rect x="1610.3" y="323.07" width="7.2" height="7.2" fill="#000"/>
<rect x="1615.93" y="376.77" width="7.2" height="7.2" fill="#000"/>
<rect x="1621.56" y="425.04" width="7.2" height="7.2" fill="#000"/>
<rect x="1627.19" y="442.71" width="7.2" height="7.2" fill="#000"/>
<rect x="1632.82" y="362.5" width="7.2" height="7.2" fill="#000"/>
<rect x="1638.45" y="403.28" width="7.2" height="7.2" fill="#000"/>
<rect x="1644.08" y="456.31" width="7.2" height="7.2" fill="#000"/>
<rect x="1649.71" y="458.35" width="7.2" height="7.2" fill="#000"/>
<rect x="1655.34" y="411.44" width="7.2" height="7.2" fill="#000"/>
<rect x="1660.96" y="400.57" width="7.2" height="7.2" fill="#000"/>
<rect x="1666.59" y="166.03" width="7.2" height="7.2" fill="#000"/>
<rect x="1672.22" y="474.66" width="7.2" height="7.2" fill="#000"/>
<rect x="1677.85" y="486.22" width="7.2" height="7.2" fill="#000"/>
<rect x="1683.48" y="486.22" width="7.2" height="7.2" fill="#000"/>
<rect x="1689.11" y="486.22" width="7.2" height="7.2" fill="#000"/>
<rect x="1694.74" y="486.22" width="7.2" height="7.2" fill="#000"/>
<polyline points="1253.65,472.15 1259.28,455.83 1264.91,469.43 1270.53,466.03 1276.16,431.36 1281.79,270.24 1287.42,187.31 1293.05,361.34 1298.68,340.26 1304.31,446.31 1309.94,436.12 1315.57,443.59 1321.2,210.42 1326.82,77.86 1332.45,136.32 1338.08,344.34 1343.71,460.59 1349.34,472.83 1354.97,364.74 1360.6,164.88 1366.23,38.43 1371.86,149.92 1377.49,273.64 1383.11,432.72 1388.74,470.11 1394.37,450.39 1400,374.93 1405.63,259.37 1411.26,138.36 1416.89,57.47 1422.52,434.08 1428.15,474.18 1433.78,483.02 1439.4,483.7 1445.03,477.58 1450.66,474.18 1456.29,458.55 1461.92,473.5 1467.55,432.72 1473.18,449.71 1478.81,432.04 1484.44,434.08 1490.07,471.47 1495.69,476.22 1501.32,477.58 1506.95,485.74 1512.58,487.37 1518.21,487.78 1523.84,465.01 1529.47,406.2 1535.1,211.78 1540.73,455.83 1546.36,446.31 1551.98,421.16 1557.61,238.29 1563.24,379.01 1568.87,458.55 1574.5,477.58 1580.13,398.73 1585.76,256.65 1591.39,253.59 1597.02,434.08 1602.65,455.83 1608.27,246.45 1613.9,301.52 1619.53,386.49 1625.16,410.96 1630.79,445.29 1636.42,370.86 1642.05,400.77 1647.68,451.75 1653.31,457.87 1658.94,376.97 1664.56,349.78 1670.19,160.8 1675.82,461.27 1681.45,488.19 1687.08,488.19 1692.71,488.19 1698.34,488.19" fill="none" stroke="#e41a1c" stroke-width="1.6" stroke-linejoin="round"/>
<path d="M1249.85,468.35h7.6l-3.8,7.6z" fill="#e41a1c"/>
<path d="M1255.48,452.03h7.6l-3.8,7.6z" fill="#e41a1c"/>
<path d="M1261.11,465.63h7.6l-3.8,7.6z" fill="#e41a1c"/>
<path d="M1266.73,462.23h7.6l-3.8,7.6z" fill="#e41a1c"/>
<path d="M1272.36,427.56h7.6l-3.8,7.6z" fill="#e41a1c"/>
<path d="M1277.99,266.44h7.6l-3.8,7.6z" fill="#e41a1c"/>
<path d="M1283.62,183.51h7.6l-3.8,7.6z" fill="#e41a1c"/>
<path d="M1289.25,357.54h7.6l-3.8,7.6z" fill="#e41a1c"/>
<path d="M1294.88,336.46h7.6l-3.8,7.6z" fill="#e41a1c"/>
<path d="M1300.51,442.51h7.6l-3.8,7.6z" fill="#e41a1c"/>
<path d="M1306.14,432.32h7.6l-3.8,7.6z" fill="#e41a1c"/>
<path d="M1311.77,439.79h7.6l-3.8,7.6z" fill="#e41a1c"/>
<path d="M1317.4,206.62h7.6l-3.8,7.6z" fill="#e41a1c"/>
<path d="M1323.02,74.06h7.6l-3.8,7.6z" fill="#e41a1c"/>
<path d="M1328.65,132.52h7.6l-3.8,7.6z" fill="#e41a1c"/>
<path d="M1334.28,340.54h7.6l-3.8,7.6z" fill="#e41a1c"/>
<path d="M1339.91,456.79h7.6l-3.8,7.6z" fill="#e41a1c"/>
<path d="M1345.54,469.03h7.6l-3.8,7.6z" fill="#e41a1c"/>
<path d="M1351.17,360.94h7.6l-3.8,7.6z" fill="#e41a1c"/>
<path d="M1356.8,161.08h7.6l-3.8,7.6z" fill="#e41a1c"/>
<path d="M1362.43,34.63h7.6l-3.8,7.6z" fill="#e41a1c"/>
<path d="M1368.06,146.12h7.6l-3.8,7.6z" fill="#e41a1c"/>
<path d="M1373.69,269.84h7.6l-3.8,7.6z" fill="#e41a1c"/>
<path d="M1379.31,428.92h7.6l-3.8,7.6z" fill="#e41a1c"/>
<path d="M1384.94,466.31h7.6l-3.8,7.6z" fill="#e41a1c"/>
<path d="M1390.57,446.59h7.6l-3.8,7.6z" fill="#e41a1c"/>
<path d="M1396.2,371.13h7.6l-3.8,7.6z" fill="#e41a1c"/>
<path d="M1401.83,255.57h7.6l-3.8,7.6z" fill="#e41a1c"/>
<path d="M1407.46,134.56h7.6l-3.8,7.6z" fill="#e41a1c"/>
<path d="M1413.09,53.67h7.6l-3.8,7.6z" fill="#e41a1c"/>
<path d="M1418.72,430.28h7.6l-3.8,7.6z" fill="#e41a1c"/>
<path d="M1424.35,470.38h7.6l-3.8,7.6z" fill="#e41a1c"/>
<path d="M1429.98,479.22h7.6l-3.8,7.6z" fill="#e41a1c"/>
<path d="M1435.6,479.9h7.6l-3.8,7.6z" fill="#e41a1c"/>
<path d="M1441.23,473.78h7.6l-3.8,7.6z" fill="#e41a1c"/>
<path d="M1446.86,470.38h7.6l-3.8,7.6z" fill="#e41a1c"/>
<path d="M1452.49,454.75h7.6l-3.8,7.6z" fill="#e41a1c"/>
<path d="M1458.12,469.7h7.6l-3.8,7.6z" fill="#e41a1c"/>
<path d="M1463.75,428.92h7.6l-3.8,7.6z" fill="#e41a1c"/>
<path d="M1469.38,445.91h7.6l-3.8,7.6z" fill="#e41a1c"/>
<path d="M1475.01,428.24h7.6l-3.8,7.6z" fill="#e41a1c"/>
<path d="M1480.64,430.28h7.6l-3.8,7.6z" fill="#e41a1c"/>
<path d="M1486.27,467.67h7.6l-3.8,7.6z" fill="#e41a1c"/>
<path d="M1491.89,472.42h7.6l-3.8,7.6z" fill="#e41a1c"/>
<path d="M1497.52,473.78h7.6l-3.8,7.6z" fill="#e41a1c"/>
<path d="M1503.15,481.94h7.6l-3.8,7.6z" fill="#e41a1c"/>
<path d="M1508.78,483.57h7.6l-3.8,7.6z" fill="#e41a1c"/>
<path d="M1514.41,483.98h7.6l-3.8,7.6z" fill="#e41a1c"/>
<path d="M1520.04,461.21h7.6l-3.8,7.6z" fill="#e41a1c"/>
<path d="M1525.67,402.4h7.6l-3.8,7.6z" fill="#e41a1c"/>
<path d="M1531.3,207.98h7.6l-3.8,7.6z" fill="#e41a1c"/>
<path d="M1536.93,452.03h7.6l-3.8,7.6z" fill="#e41a1c"/>
<path d="M1542.56,442.51h7.6l-3.8,7.6z" fill="#e41a1c"/>
<path d="M1548.18,417.36h7.6l-3.8,7.6z" fill="#e41a1c"/>
<path d="M1553.81,234.49h7.6l-3.8,7.6z" fill="#e41a1c"/>
<path d="M1559.44,375.21h7.6l-3.8,7.6z" fill="#e41a1c"/>
<path d="M1565.07,454.75h7.6l-3.8,7.6z" fill="#e41a1c"/>
<path d="M1570.7,473.78h7.6l-3.8,7.6z" fill="#e41a1c"/>
<path d="M1576.33,394.93h7.6l-3.8,7.6z" fill="#e41a1c"/>
<path d="M1581.96,252.85h7.6l-3.8,7.6z" fill="#e41a1c"/>
<path d="M1587.59,249.79h7.6l-3.8,7.6z" fill="#e41a1c"/>
<path d="M1593.22,430.28h7.6l-3.8,7.6z" fill="#e41a1c"/>
<path d="M1598.85,452.03h7.6l-3.8,7.6z" fill="#e41a1c"/>
<path d="M1604.47,242.65h7.6l-3.8,7.6z" fill="#e41a1c"/>
<path d="M1610.1,297.72h7.6l-3.8,7.6z" fill="#e41a1c"/>
<path d="M1615.73,382.69h7.6l-3.8,7.6z" fill="#e41a1c"/>
<path d="M1621.36,407.16h7.6l-3.8,7.6z" fill="#e41a1c"/>
<path d="M1626.99,441.49h7.6l-3.8,7.6z" fill="#e41a1c"/>
<path d="M1632.62,367.06h7.6l-3.8,7.6z" fill="#e41a1c"/>
<path d="M1638.25,396.97h7.6l-3.8,7.6z" fill="#e41a1c"/>
<path d="M1643.88,447.95h7.6l-3.8,7.6z" fill="#e41a1c"/>
<path d="M1649.51,454.07h7.6l-3.8,7.6z" fill="#e41a1c"/>
<path d="M1655.14,373.17h7.6l-3.8,7.6z" fill="#e41a1c"/>
<path d="M1660.76,345.98h7.6l-3.8,7.6z" fill="#e41a1c"/>
<path d="M1666.39,157h7.6l-3.8,7.6z" fill="#e41a1c"/>
<path d="M1672.02,457.47h7.6l-3.8,7.6z" fill="#e41a1c"/>
<path d="M1677.65,484.39h7.6l-3.8,7.6z" fill="#e41a1c"/>
<path d="M1683.28,484.39h7.6l-3.8,7.6z" fill="#e41a1c"/>
<path d="M1688.91,484.39h7.6l-3.8,7.6z" fill="#e41a1c"/>
<path d="M1694.54,484.39h7.6l-3.8,7.6z" fill="#e41a1c"/>
<rect x="1572.6" y="25.6" width="139.8" height="56.8" rx="2.5" fill="#fff" fill-opacity="0.8" stroke="#c8c8c8" stroke-width="1"/>
<path d="M1712.4,28.1V79.9" fill="none" stroke="#b8b8b8" stroke-width="1.1"/>
<path d="M1712.4,79.9q0,2.5 -2.5,2.5H1575.1" fill="none" stroke="#4a4a4a" stroke-width="1.1"/>
<line x1="1579.6" y1="39.8" x2="1614.6" y2="39.8" stroke="#000" stroke-width="1.6"/>
<rect x="1593.6" y="36.2" width="7.2" height="7.2" fill="#000"/>
<line x1="1579.6" y1="65.8" x2="1614.6" y2="65.8" stroke="#e41a1c" stroke-width="1.6"/>
<path d="M1593.4,62h7.6l-3.8,7.6z" fill="#e41a1c"/>
<text x="1629.6" y="46.2" class="lg">NonTOF</text>
<text x="1629.6" y="72.1" class="lg">TOF</text>
<text x="1476.4" y="557.2" text-anchor="middle" class="al">Position [mm]</text>
<text transform="translate(1193.1,264.4) rotate(-90)" text-anchor="middle" class="al">Activity concentration [u.a.]</text>
<text x="8.2" y="571.3" class="pl" fill="#fff">A</text>
<text x="304.6" y="571.3" class="pl" fill="#000">B</text>
<text x="879" y="571.3" class="pl" fill="#fff">C</text>
<text x="1173.7" y="571.3" class="pl" fill="#000">D</text>
</svg>
</body></html>
